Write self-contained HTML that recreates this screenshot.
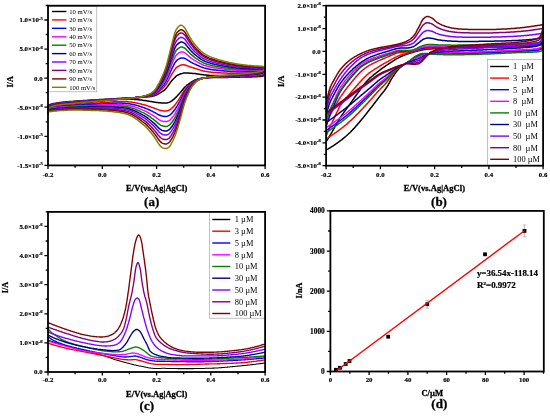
<!DOCTYPE html>
<html lang="en"><head><meta charset="utf-8"><title>Figure</title>
<style>html,body{margin:0;padding:0;background:#fff}svg{display:block}</style></head>
<body>
<svg width="550" height="416" viewBox="0 0 550 416" font-family='"Liberation Serif","DejaVu Serif",serif' fill="#000">
<rect width="550" height="416" fill="#fff"/>
<g fill="none" stroke-width="1.50" stroke-linejoin="round">
<path d="M48.0 105.5L48.6 105.2L49.2 104.9L49.8 104.6L50.4 104.4L51.0 104.2L51.6 104.0L52.2 103.9L52.8 103.7L53.4 103.6L54.0 103.5L54.6 103.4L55.3 103.3L55.9 103.2L56.5 103.1L57.1 103.0L57.7 102.9L58.3 102.8L58.9 102.7L59.5 102.6L60.1 102.5L60.7 102.5L61.3 102.4L61.9 102.3L62.5 102.3L63.1 102.2L63.7 102.1L64.3 102.1L64.9 102.0L65.5 101.9L66.1 101.9L66.7 101.8L67.3 101.8L67.9 101.7L68.6 101.7L69.2 101.6L69.8 101.6L70.4 101.5L71.0 101.5L71.6 101.5L72.2 101.4L72.8 101.4L73.4 101.3L74.0 101.3L74.6 101.2L75.2 101.2L75.8 101.1L76.4 101.1L77.0 101.1L77.6 101.0L78.2 101.0L78.8 100.9L79.4 100.9L80.0 100.8L80.6 100.8L81.2 100.8L81.8 100.7L82.5 100.7L83.1 100.6L83.7 100.6L84.3 100.5L84.9 100.5L85.5 100.5L86.1 100.4L86.7 100.4L87.3 100.4L87.9 100.3L88.5 100.3L89.1 100.2L89.7 100.2L90.3 100.2L90.9 100.1L91.5 100.1L92.1 100.1L92.7 100.0L93.3 100.0L93.9 100.0L94.5 99.9L95.1 99.9L95.8 99.8L96.4 99.8L97.0 99.8L97.6 99.7L98.2 99.7L98.8 99.7L99.4 99.6L100.0 99.6L100.6 99.6L101.2 99.5L101.8 99.5L102.4 99.5L103.0 99.4L103.6 99.4L104.2 99.4L104.8 99.3L105.4 99.3L106.0 99.3L106.6 99.2L107.2 99.2L107.8 99.2L108.4 99.1L109.1 99.1L109.7 99.0L110.3 99.0L110.9 99.0L111.5 98.9L112.1 98.9L112.7 98.9L113.3 98.8L113.9 98.8L114.5 98.8L115.1 98.7L115.7 98.7L116.3 98.7L116.9 98.6L117.5 98.6L118.1 98.6L118.7 98.5L119.3 98.5L119.9 98.5L120.5 98.4L121.1 98.4L121.7 98.4L122.3 98.3L123.0 98.3L123.6 98.3L124.2 98.2L124.8 98.2L125.4 98.2L126.0 98.1L126.6 98.1L127.2 98.1L127.8 98.1L128.4 98.0L129.0 98.0L129.6 98.0L130.2 97.9L130.8 97.9L131.4 97.9L132.0 97.8L132.6 97.8L133.2 97.8L133.8 97.8L134.4 97.7L135.0 97.7L135.6 97.7L136.3 97.6L136.9 97.6L137.5 97.6L138.1 97.5L138.7 97.5L139.3 97.4L139.9 97.4L140.5 97.4L141.1 97.3L141.7 97.3L142.3 97.3L142.9 97.2L143.5 97.2L144.1 97.1L144.7 97.1L145.3 97.1L145.9 97.0L146.5 97.0L147.1 96.9L147.7 96.8L148.3 96.8L148.9 96.7L149.5 96.7L150.2 96.6L150.8 96.5L151.4 96.4L152.0 96.3L152.6 96.1L153.2 96.0L153.8 95.8L154.4 95.7L155.0 95.5L155.6 95.3L156.2 95.1L156.8 94.8L157.4 94.5L158.0 94.1L158.6 93.8L159.2 93.5L159.8 93.1L160.4 92.7L161.0 92.4L161.6 92.0L162.2 91.6L162.8 91.2L163.5 90.8L164.1 90.3L164.7 89.8L165.3 89.3L165.9 88.6L166.5 87.9L167.1 87.1L167.7 86.3L168.3 85.5L168.9 84.6L169.5 83.7L170.1 82.9L170.7 82.1L171.3 81.3L171.9 80.6L172.5 79.9L173.1 79.3L173.7 78.6L174.3 78.0L174.9 77.3L175.5 76.8L176.1 76.2L176.7 75.7L177.4 75.3L178.0 75.0L178.6 74.8L179.2 74.5L179.8 74.2L180.4 74.0L181.0 73.8L181.6 73.6L182.2 73.4L182.8 73.3L183.4 73.1L184.0 73.1L184.6 73.0L185.2 73.0L185.8 73.0L186.4 73.0L187.0 73.0L187.6 73.1L188.2 73.1L188.8 73.1L189.4 73.2L190.0 73.2L190.7 73.2L191.3 73.3L191.9 73.3L192.5 73.4L193.1 73.4L193.7 73.5L194.3 73.5L194.9 73.6L195.5 73.6L196.1 73.7L196.7 73.8L197.3 73.9L197.9 74.0L198.5 74.1L199.1 74.2L199.7 74.3L200.3 74.4L200.9 74.5L201.5 74.6L202.1 74.6L202.7 74.7L203.3 74.8L203.9 74.9L204.6 75.0L205.2 75.0L205.8 75.1L206.4 75.1L207.0 75.2L207.6 75.2L208.2 75.3L208.8 75.3L209.4 75.4L210.0 75.4L210.6 75.4L211.2 75.5L211.8 75.5L212.4 75.5L213.0 75.6L213.6 75.6L214.2 75.6L214.8 75.6L215.4 75.6L216.0 75.6L216.6 75.6L217.2 75.6L217.9 75.6L218.5 75.6L219.1 75.6L219.7 75.6L220.3 75.6L220.9 75.6L221.5 75.6L222.1 75.6L222.7 75.6L223.3 75.6L223.9 75.6L224.5 75.6L225.1 75.6L225.7 75.6L226.3 75.6L226.9 75.6L227.5 75.6L228.1 75.6L228.7 75.6L229.3 75.6L229.9 75.6L230.5 75.5L231.2 75.5L231.8 75.5L232.4 75.5L233.0 75.5L233.6 75.5L234.2 75.5L234.8 75.4L235.4 75.4L236.0 75.4L236.6 75.4L237.2 75.4L237.8 75.4L238.4 75.3L239.0 75.3L239.6 75.3L240.2 75.3L240.8 75.2L241.4 75.2L242.0 75.2L242.6 75.2L243.2 75.1L243.8 75.1L244.4 75.1L245.1 75.0L245.7 75.0L246.3 75.0L246.9 75.0L247.5 74.9L248.1 74.9L248.7 74.9L249.3 74.8L249.9 74.8L250.5 74.8L251.1 74.7L251.7 74.7L252.3 74.7L252.9 74.6L253.5 74.6L254.1 74.5L254.7 74.4L255.3 74.4L255.9 74.3L256.5 74.3L257.1 74.2L257.7 74.1L258.4 74.1L259.0 74.0L259.6 73.9L260.2 73.8L260.8 73.8L261.4 73.7L262.0 73.6L262.6 73.5L263.2 73.4L263.8 73.4L264.4 73.3L265.0 73.2L265.0 74.6L264.4 75.1L263.8 75.6L263.2 76.0L262.6 76.2L262.0 76.3L261.4 76.3L260.8 76.4L260.2 76.4L259.6 76.5L259.0 76.5L258.4 76.6L257.7 76.6L257.1 76.7L256.5 76.7L255.9 76.7L255.3 76.7L254.7 76.8L254.1 76.8L253.5 76.8L252.9 76.8L252.3 76.8L251.7 76.9L251.1 76.9L250.5 76.9L249.9 76.9L249.3 76.9L248.7 76.9L248.1 77.0L247.5 77.0L246.9 77.0L246.3 77.0L245.7 77.0L245.1 77.0L244.4 77.1L243.8 77.1L243.2 77.1L242.6 77.1L242.0 77.1L241.4 77.1L240.8 77.1L240.2 77.1L239.6 77.2L239.0 77.2L238.4 77.2L237.8 77.2L237.2 77.2L236.6 77.2L236.0 77.2L235.4 77.2L234.8 77.2L234.2 77.3L233.6 77.3L233.0 77.3L232.4 77.3L231.8 77.3L231.2 77.3L230.5 77.3L229.9 77.3L229.3 77.3L228.7 77.3L228.1 77.4L227.5 77.4L226.9 77.4L226.3 77.4L225.7 77.4L225.1 77.4L224.5 77.4L223.9 77.4L223.3 77.4L222.7 77.4L222.1 77.4L221.5 77.4L220.9 77.5L220.3 77.5L219.7 77.5L219.1 77.5L218.5 77.5L217.9 77.5L217.2 77.5L216.6 77.5L216.0 77.5L215.4 77.5L214.8 77.5L214.2 77.5L213.6 77.5L213.0 77.5L212.4 77.5L211.8 77.6L211.2 77.6L210.6 77.6L210.0 77.6L209.4 77.6L208.8 77.6L208.2 77.7L207.6 77.7L207.0 77.7L206.4 77.8L205.8 77.8L205.2 77.9L204.6 77.9L203.9 78.0L203.3 78.1L202.7 78.2L202.1 78.2L201.5 78.3L200.9 78.4L200.3 78.5L199.7 78.7L199.1 78.8L198.5 78.9L197.9 79.1L197.3 79.2L196.7 79.4L196.1 79.6L195.5 79.8L194.9 80.0L194.3 80.3L193.7 80.6L193.1 81.0L192.5 81.3L191.9 81.7L191.3 82.1L190.7 82.6L190.0 83.0L189.4 83.4L188.8 83.8L188.2 84.3L187.6 84.7L187.0 85.2L186.4 85.7L185.8 86.3L185.2 86.8L184.6 87.4L184.0 88.0L183.4 88.7L182.8 89.4L182.2 90.2L181.6 90.9L181.0 91.7L180.4 92.4L179.8 93.1L179.2 93.8L178.6 94.5L178.0 95.1L177.4 95.8L176.7 96.5L176.1 97.1L175.5 97.7L174.9 98.3L174.3 98.9L173.7 99.4L173.1 99.9L172.5 100.4L171.9 100.8L171.3 101.2L170.7 101.6L170.1 101.9L169.5 102.2L168.9 102.4L168.3 102.6L167.7 102.8L167.1 102.9L166.5 103.0L165.9 103.0L165.3 103.0L164.7 103.0L164.1 103.0L163.5 103.0L162.8 102.9L162.2 102.9L161.6 102.9L161.0 102.9L160.4 102.8L159.8 102.8L159.2 102.7L158.6 102.7L158.0 102.6L157.4 102.5L156.8 102.5L156.2 102.4L155.6 102.3L155.0 102.2L154.4 102.1L153.8 102.0L153.2 101.9L152.6 101.8L152.0 101.7L151.4 101.6L150.8 101.5L150.2 101.4L149.5 101.3L148.9 101.2L148.3 101.1L147.7 101.0L147.1 100.9L146.5 100.8L145.9 100.7L145.3 100.6L144.7 100.6L144.1 100.5L143.5 100.4L142.9 100.3L142.3 100.2L141.7 100.1L141.1 100.0L140.5 100.0L139.9 99.9L139.3 99.8L138.7 99.7L138.1 99.7L137.5 99.6L136.9 99.5L136.3 99.5L135.6 99.4L135.0 99.4L134.4 99.4L133.8 99.3L133.2 99.3L132.6 99.3L132.0 99.2L131.4 99.2L130.8 99.2L130.2 99.1L129.6 99.1L129.0 99.1L128.4 99.1L127.8 99.0L127.2 99.0L126.6 99.0L126.0 99.0L125.4 99.0L124.8 99.0L124.2 99.0L123.6 99.0L123.0 99.0L122.3 99.0L121.7 99.1L121.1 99.1L120.5 99.1L119.9 99.2L119.3 99.2L118.7 99.2L118.1 99.3L117.5 99.3L116.9 99.4L116.3 99.4L115.7 99.5L115.1 99.6L114.5 99.6L113.9 99.7L113.3 99.7L112.7 99.8L112.1 99.9L111.5 99.9L110.9 100.0L110.3 100.1L109.7 100.2L109.1 100.2L108.4 100.3L107.8 100.4L107.2 100.4L106.6 100.5L106.0 100.6L105.4 100.6L104.8 100.7L104.2 100.8L103.6 100.8L103.0 100.9L102.4 101.0L101.8 101.0L101.2 101.1L100.6 101.1L100.0 101.2L99.4 101.3L98.8 101.3L98.2 101.4L97.6 101.4L97.0 101.5L96.4 101.5L95.8 101.6L95.1 101.6L94.5 101.7L93.9 101.7L93.3 101.8L92.7 101.8L92.1 101.9L91.5 101.9L90.9 102.0L90.3 102.0L89.7 102.1L89.1 102.1L88.5 102.1L87.9 102.2L87.3 102.2L86.7 102.3L86.1 102.3L85.5 102.4L84.9 102.4L84.3 102.5L83.7 102.5L83.1 102.6L82.5 102.6L81.8 102.7L81.2 102.7L80.6 102.8L80.0 102.9L79.4 102.9L78.8 103.0L78.2 103.0L77.6 103.1L77.0 103.1L76.4 103.2L75.8 103.2L75.2 103.3L74.6 103.3L74.0 103.4L73.4 103.4L72.8 103.5L72.2 103.6L71.6 103.6L71.0 103.7L70.4 103.7L69.8 103.8L69.2 103.8L68.6 103.9L67.9 104.0L67.3 104.0L66.7 104.1L66.1 104.1L65.5 104.2L64.9 104.3L64.3 104.3L63.7 104.4L63.1 104.4L62.5 104.5L61.9 104.6L61.3 104.6L60.7 104.7L60.1 104.8L59.5 104.9L58.9 104.9L58.3 105.0L57.7 105.1L57.1 105.2L56.5 105.3L55.9 105.3L55.3 105.4L54.6 105.5L54.0 105.6L53.4 105.7L52.8 105.8L52.2 105.9L51.6 106.0L51.0 106.1L50.4 106.2L49.8 106.3L49.2 106.4L48.6 106.5L48.0 106.6" stroke="#000000"/>
<path d="M48.0 106.0L48.6 105.7L49.2 105.4L49.8 105.1L50.4 104.9L51.0 104.7L51.6 104.5L52.2 104.3L52.8 104.2L53.4 104.0L54.0 103.9L54.6 103.8L55.3 103.7L55.9 103.6L56.5 103.5L57.1 103.4L57.7 103.3L58.3 103.2L58.9 103.1L59.5 103.0L60.1 102.9L60.7 102.9L61.3 102.8L61.9 102.7L62.5 102.7L63.1 102.6L63.7 102.5L64.3 102.5L64.9 102.4L65.5 102.3L66.1 102.3L66.7 102.2L67.3 102.2L67.9 102.1L68.6 102.1L69.2 102.0L69.8 102.0L70.4 101.9L71.0 101.9L71.6 101.8L72.2 101.8L72.8 101.7L73.4 101.7L74.0 101.6L74.6 101.6L75.2 101.5L75.8 101.5L76.4 101.4L77.0 101.4L77.6 101.4L78.2 101.3L78.8 101.3L79.4 101.2L80.0 101.2L80.6 101.1L81.2 101.1L81.8 101.0L82.5 101.0L83.1 100.9L83.7 100.9L84.3 100.9L84.9 100.8L85.5 100.8L86.1 100.7L86.7 100.7L87.3 100.6L87.9 100.6L88.5 100.6L89.1 100.5L89.7 100.5L90.3 100.4L90.9 100.4L91.5 100.4L92.1 100.3L92.7 100.3L93.3 100.3L93.9 100.2L94.5 100.2L95.1 100.1L95.8 100.1L96.4 100.1L97.0 100.0L97.6 100.0L98.2 99.9L98.8 99.9L99.4 99.9L100.0 99.8L100.6 99.8L101.2 99.8L101.8 99.7L102.4 99.7L103.0 99.6L103.6 99.6L104.2 99.6L104.8 99.5L105.4 99.5L106.0 99.5L106.6 99.4L107.2 99.4L107.8 99.3L108.4 99.3L109.1 99.3L109.7 99.2L110.3 99.2L110.9 99.2L111.5 99.1L112.1 99.1L112.7 99.0L113.3 99.0L113.9 99.0L114.5 98.9L115.1 98.9L115.7 98.9L116.3 98.8L116.9 98.8L117.5 98.8L118.1 98.7L118.7 98.7L119.3 98.6L119.9 98.6L120.5 98.6L121.1 98.5L121.7 98.5L122.3 98.5L123.0 98.4L123.6 98.4L124.2 98.3L124.8 98.3L125.4 98.3L126.0 98.2L126.6 98.2L127.2 98.2L127.8 98.1L128.4 98.1L129.0 98.1L129.6 98.0L130.2 98.0L130.8 97.9L131.4 97.9L132.0 97.9L132.6 97.8L133.2 97.8L133.8 97.8L134.4 97.7L135.0 97.7L135.6 97.7L136.3 97.6L136.9 97.6L137.5 97.5L138.1 97.5L138.7 97.4L139.3 97.4L139.9 97.3L140.5 97.3L141.1 97.2L141.7 97.2L142.3 97.1L142.9 97.1L143.5 97.0L144.1 96.9L144.7 96.9L145.3 96.8L145.9 96.7L146.5 96.7L147.1 96.6L147.7 96.5L148.3 96.4L148.9 96.3L149.5 96.2L150.2 96.1L150.8 95.9L151.4 95.8L152.0 95.6L152.6 95.4L153.2 95.2L153.8 95.0L154.4 94.8L155.0 94.5L155.6 94.2L156.2 93.8L156.8 93.4L157.4 93.0L158.0 92.5L158.6 92.0L159.2 91.5L159.8 91.0L160.4 90.5L161.0 90.0L161.6 89.5L162.2 88.9L162.8 88.3L163.5 87.7L164.1 87.0L164.7 86.3L165.3 85.6L165.9 84.7L166.5 83.8L167.1 82.8L167.7 81.7L168.3 80.6L168.9 79.5L169.5 78.3L170.1 77.2L170.7 76.1L171.3 75.0L171.9 74.0L172.5 73.1L173.1 72.1L173.7 71.2L174.3 70.2L174.9 69.4L175.5 68.6L176.1 67.9L176.7 67.3L177.4 66.8L178.0 66.5L178.6 66.1L179.2 65.8L179.8 65.5L180.4 65.3L181.0 65.1L181.6 64.9L182.2 64.8L182.8 64.8L183.4 64.8L184.0 64.8L184.6 64.9L185.2 65.0L185.8 65.2L186.4 65.5L187.0 65.7L187.6 65.9L188.2 66.1L188.8 66.3L189.4 66.6L190.0 66.8L190.7 67.0L191.3 67.2L191.9 67.4L192.5 67.6L193.1 67.8L193.7 68.0L194.3 68.2L194.9 68.4L195.5 68.6L196.1 68.7L196.7 68.9L197.3 69.1L197.9 69.3L198.5 69.5L199.1 69.7L199.7 69.9L200.3 70.1L200.9 70.3L201.5 70.4L202.1 70.6L202.7 70.8L203.3 70.9L203.9 71.0L204.6 71.2L205.2 71.3L205.8 71.4L206.4 71.5L207.0 71.6L207.6 71.7L208.2 71.8L208.8 71.9L209.4 72.0L210.0 72.0L210.6 72.1L211.2 72.2L211.8 72.3L212.4 72.3L213.0 72.4L213.6 72.4L214.2 72.5L214.8 72.5L215.4 72.6L216.0 72.6L216.6 72.6L217.2 72.7L217.9 72.7L218.5 72.7L219.1 72.8L219.7 72.8L220.3 72.8L220.9 72.9L221.5 72.9L222.1 72.9L222.7 73.0L223.3 73.0L223.9 73.0L224.5 73.0L225.1 73.1L225.7 73.1L226.3 73.1L226.9 73.1L227.5 73.2L228.1 73.2L228.7 73.2L229.3 73.2L229.9 73.2L230.5 73.2L231.2 73.3L231.8 73.3L232.4 73.3L233.0 73.3L233.6 73.3L234.2 73.3L234.8 73.3L235.4 73.3L236.0 73.3L236.6 73.3L237.2 73.3L237.8 73.3L238.4 73.3L239.0 73.3L239.6 73.3L240.2 73.3L240.8 73.3L241.4 73.3L242.0 73.3L242.6 73.3L243.2 73.3L243.8 73.3L244.4 73.3L245.1 73.3L245.7 73.2L246.3 73.2L246.9 73.2L247.5 73.2L248.1 73.2L248.7 73.2L249.3 73.2L249.9 73.1L250.5 73.1L251.1 73.1L251.7 73.1L252.3 73.1L252.9 73.0L253.5 73.0L254.1 73.0L254.7 72.9L255.3 72.9L255.9 72.8L256.5 72.8L257.1 72.7L257.7 72.7L258.4 72.6L259.0 72.6L259.6 72.5L260.2 72.5L260.8 72.4L261.4 72.4L262.0 72.3L262.6 72.2L263.2 72.2L263.8 72.1L264.4 72.1L265.0 72.1L265.0 73.4L264.4 74.0L263.8 74.5L263.2 75.0L262.6 75.2L262.0 75.3L261.4 75.4L260.8 75.5L260.2 75.6L259.6 75.7L259.0 75.7L258.4 75.8L257.7 75.8L257.1 75.9L256.5 75.9L255.9 76.0L255.3 76.0L254.7 76.0L254.1 76.1L253.5 76.1L252.9 76.1L252.3 76.1L251.7 76.2L251.1 76.2L250.5 76.2L249.9 76.2L249.3 76.3L248.7 76.3L248.1 76.3L247.5 76.4L246.9 76.4L246.3 76.4L245.7 76.4L245.1 76.5L244.4 76.5L243.8 76.5L243.2 76.5L242.6 76.5L242.0 76.6L241.4 76.6L240.8 76.6L240.2 76.6L239.6 76.6L239.0 76.7L238.4 76.7L237.8 76.7L237.2 76.7L236.6 76.7L236.0 76.8L235.4 76.8L234.8 76.8L234.2 76.8L233.6 76.8L233.0 76.8L232.4 76.9L231.8 76.9L231.2 76.9L230.5 76.9L229.9 76.9L229.3 76.9L228.7 76.9L228.1 77.0L227.5 77.0L226.9 77.0L226.3 77.0L225.7 77.0L225.1 77.0L224.5 77.1L223.9 77.1L223.3 77.1L222.7 77.1L222.1 77.1L221.5 77.1L220.9 77.1L220.3 77.2L219.7 77.2L219.1 77.2L218.5 77.2L217.9 77.2L217.2 77.2L216.6 77.2L216.0 77.3L215.4 77.3L214.8 77.3L214.2 77.3L213.6 77.3L213.0 77.3L212.4 77.4L211.8 77.4L211.2 77.4L210.6 77.5L210.0 77.5L209.4 77.5L208.8 77.6L208.2 77.6L207.6 77.6L207.0 77.7L206.4 77.7L205.8 77.8L205.2 77.9L204.6 77.9L203.9 78.0L203.3 78.1L202.7 78.2L202.1 78.3L201.5 78.4L200.9 78.5L200.3 78.7L199.7 78.8L199.1 79.0L198.5 79.1L197.9 79.3L197.3 79.5L196.7 79.7L196.1 80.0L195.5 80.3L194.9 80.6L194.3 80.9L193.7 81.3L193.1 81.7L192.5 82.1L191.9 82.6L191.3 83.1L190.7 83.6L190.0 84.2L189.4 84.7L188.8 85.3L188.2 86.0L187.6 86.6L187.0 87.2L186.4 87.9L185.8 88.6L185.2 89.4L184.6 90.1L184.0 91.0L183.4 92.0L182.8 93.0L182.2 94.0L181.6 95.0L181.0 96.0L180.4 97.0L179.8 98.0L179.2 98.9L178.6 99.8L178.0 100.7L177.4 101.6L176.7 102.5L176.1 103.4L175.5 104.2L174.9 105.0L174.3 105.7L173.7 106.4L173.1 107.0L172.5 107.6L171.9 108.1L171.3 108.7L170.7 109.2L170.1 109.6L169.5 110.0L168.9 110.2L168.3 110.5L167.7 110.7L167.1 110.8L166.5 111.0L165.9 111.0L165.3 111.0L164.7 110.9L164.1 110.9L163.5 110.9L162.8 110.8L162.2 110.7L161.6 110.6L161.0 110.5L160.4 110.4L159.8 110.2L159.2 110.1L158.6 109.9L158.0 109.6L157.4 109.4L156.8 109.2L156.2 108.9L155.6 108.7L155.0 108.5L154.4 108.2L153.8 108.0L153.2 107.8L152.6 107.6L152.0 107.4L151.4 107.2L150.8 106.9L150.2 106.7L149.5 106.5L148.9 106.3L148.3 106.1L147.7 105.9L147.1 105.7L146.5 105.5L145.9 105.3L145.3 105.1L144.7 105.0L144.1 104.8L143.5 104.7L142.9 104.5L142.3 104.4L141.7 104.2L141.1 104.0L140.5 103.9L139.9 103.7L139.3 103.6L138.7 103.4L138.1 103.3L137.5 103.2L136.9 103.0L136.3 102.9L135.6 102.8L135.0 102.7L134.4 102.6L133.8 102.5L133.2 102.4L132.6 102.3L132.0 102.2L131.4 102.1L130.8 102.1L130.2 102.0L129.6 101.9L129.0 101.9L128.4 101.8L127.8 101.7L127.2 101.7L126.6 101.6L126.0 101.6L125.4 101.6L124.8 101.5L124.2 101.5L123.6 101.5L123.0 101.5L122.3 101.5L121.7 101.5L121.1 101.5L120.5 101.5L119.9 101.5L119.3 101.5L118.7 101.6L118.1 101.6L117.5 101.6L116.9 101.6L116.3 101.7L115.7 101.7L115.1 101.7L114.5 101.8L113.9 101.8L113.3 101.8L112.7 101.9L112.1 101.9L111.5 102.0L110.9 102.0L110.3 102.1L109.7 102.1L109.1 102.2L108.4 102.2L107.8 102.3L107.2 102.3L106.6 102.4L106.0 102.4L105.4 102.5L104.8 102.5L104.2 102.6L103.6 102.6L103.0 102.7L102.4 102.7L101.8 102.7L101.2 102.8L100.6 102.8L100.0 102.9L99.4 102.9L98.8 102.9L98.2 103.0L97.6 103.0L97.0 103.1L96.4 103.1L95.8 103.1L95.1 103.2L94.5 103.2L93.9 103.2L93.3 103.3L92.7 103.3L92.1 103.3L91.5 103.4L90.9 103.4L90.3 103.5L89.7 103.5L89.1 103.5L88.5 103.6L87.9 103.6L87.3 103.6L86.7 103.7L86.1 103.7L85.5 103.8L84.9 103.8L84.3 103.8L83.7 103.9L83.1 103.9L82.5 104.0L81.8 104.0L81.2 104.0L80.6 104.1L80.0 104.1L79.4 104.2L78.8 104.2L78.2 104.2L77.6 104.3L77.0 104.3L76.4 104.4L75.8 104.4L75.2 104.5L74.6 104.5L74.0 104.5L73.4 104.6L72.8 104.6L72.2 104.7L71.6 104.7L71.0 104.8L70.4 104.8L69.8 104.9L69.2 104.9L68.6 105.0L67.9 105.0L67.3 105.1L66.7 105.1L66.1 105.2L65.5 105.3L64.9 105.3L64.3 105.4L63.7 105.4L63.1 105.5L62.5 105.6L61.9 105.6L61.3 105.7L60.7 105.7L60.1 105.8L59.5 105.9L58.9 105.9L58.3 106.0L57.7 106.1L57.1 106.2L56.5 106.2L55.9 106.3L55.3 106.4L54.6 106.5L54.0 106.6L53.4 106.7L52.8 106.7L52.2 106.8L51.6 106.9L51.0 107.0L50.4 107.1L49.8 107.2L49.2 107.3L48.6 107.4L48.0 107.5L47.8 115.0" stroke="#ff0000"/>
<path d="M48.0 106.5L48.6 106.1L49.2 105.8L49.8 105.5L50.4 105.3L51.0 105.0L51.6 104.8L52.2 104.7L52.8 104.5L53.4 104.4L54.0 104.2L54.6 104.1L55.3 104.0L55.9 103.9L56.5 103.8L57.1 103.7L57.7 103.6L58.3 103.5L58.9 103.4L59.5 103.4L60.1 103.3L60.7 103.2L61.3 103.1L61.9 103.1L62.5 103.0L63.1 102.9L63.7 102.9L64.3 102.8L64.9 102.7L65.5 102.7L66.1 102.6L66.7 102.5L67.3 102.5L67.9 102.4L68.6 102.4L69.2 102.3L69.8 102.3L70.4 102.2L71.0 102.2L71.6 102.1L72.2 102.1L72.8 102.0L73.4 102.0L74.0 101.9L74.6 101.9L75.2 101.8L75.8 101.8L76.4 101.7L77.0 101.7L77.6 101.6L78.2 101.6L78.8 101.5L79.4 101.5L80.0 101.4L80.6 101.4L81.2 101.3L81.8 101.3L82.5 101.2L83.1 101.2L83.7 101.2L84.3 101.1L84.9 101.1L85.5 101.0L86.1 101.0L86.7 100.9L87.3 100.9L87.9 100.8L88.5 100.8L89.1 100.8L89.7 100.7L90.3 100.7L90.9 100.6L91.5 100.6L92.1 100.6L92.7 100.5L93.3 100.5L93.9 100.4L94.5 100.4L95.1 100.3L95.8 100.3L96.4 100.3L97.0 100.2L97.6 100.2L98.2 100.1L98.8 100.1L99.4 100.1L100.0 100.0L100.6 100.0L101.2 99.9L101.8 99.9L102.4 99.9L103.0 99.8L103.6 99.8L104.2 99.7L104.8 99.7L105.4 99.7L106.0 99.6L106.6 99.6L107.2 99.5L107.8 99.5L108.4 99.5L109.1 99.4L109.7 99.4L110.3 99.3L110.9 99.3L111.5 99.3L112.1 99.2L112.7 99.2L113.3 99.1L113.9 99.1L114.5 99.1L115.1 99.0L115.7 99.0L116.3 98.9L116.9 98.9L117.5 98.9L118.1 98.8L118.7 98.8L119.3 98.7L119.9 98.7L120.5 98.7L121.1 98.6L121.7 98.6L122.3 98.5L123.0 98.5L123.6 98.5L124.2 98.4L124.8 98.4L125.4 98.3L126.0 98.3L126.6 98.3L127.2 98.2L127.8 98.2L128.4 98.1L129.0 98.1L129.6 98.1L130.2 98.0L130.8 98.0L131.4 97.9L132.0 97.9L132.6 97.9L133.2 97.8L133.8 97.8L134.4 97.7L135.0 97.7L135.6 97.6L136.3 97.6L136.9 97.6L137.5 97.5L138.1 97.4L138.7 97.4L139.3 97.3L139.9 97.3L140.5 97.2L141.1 97.2L141.7 97.1L142.3 97.0L142.9 97.0L143.5 96.9L144.1 96.8L144.7 96.7L145.3 96.6L145.9 96.5L146.5 96.4L147.1 96.3L147.7 96.2L148.3 96.1L148.9 96.0L149.5 95.8L150.2 95.7L150.8 95.5L151.4 95.3L152.0 95.1L152.6 94.9L153.2 94.6L153.8 94.3L154.4 94.0L155.0 93.7L155.6 93.3L156.2 92.8L156.8 92.3L157.4 91.7L158.0 91.2L158.6 90.6L159.2 90.0L159.8 89.4L160.4 88.7L161.0 88.1L161.6 87.4L162.2 86.7L162.8 85.9L163.5 85.2L164.1 84.4L164.7 83.5L165.3 82.6L165.9 81.6L166.5 80.5L167.1 79.3L167.7 78.0L168.3 76.6L168.9 75.3L169.5 73.9L170.1 72.6L170.7 71.2L171.3 69.9L171.9 68.7L172.5 67.5L173.1 66.3L173.7 65.1L174.3 63.9L174.9 62.8L175.5 61.9L176.1 61.2L176.7 60.5L177.4 59.9L178.0 59.5L178.6 59.1L179.2 58.8L179.8 58.4L180.4 58.2L181.0 58.0L181.6 57.9L182.2 57.9L182.8 57.9L183.4 58.0L184.0 58.1L184.6 58.3L185.2 58.5L185.8 58.9L186.4 59.3L187.0 59.7L187.6 60.0L188.2 60.4L188.8 60.8L189.4 61.2L190.0 61.6L190.7 62.0L191.3 62.3L191.9 62.6L192.5 63.0L193.1 63.3L193.7 63.6L194.3 63.9L194.9 64.1L195.5 64.4L196.1 64.7L196.7 65.0L197.3 65.2L197.9 65.5L198.5 65.8L199.1 66.0L199.7 66.3L200.3 66.6L200.9 66.8L201.5 67.1L202.1 67.3L202.7 67.5L203.3 67.7L203.9 67.9L204.6 68.1L205.2 68.2L205.8 68.4L206.4 68.5L207.0 68.7L207.6 68.8L208.2 68.9L208.8 69.1L209.4 69.2L210.0 69.3L210.6 69.4L211.2 69.5L211.8 69.6L212.4 69.7L213.0 69.8L213.6 69.9L214.2 69.9L214.8 70.0L215.4 70.1L216.0 70.1L216.6 70.2L217.2 70.3L217.9 70.3L218.5 70.4L219.1 70.5L219.7 70.5L220.3 70.6L220.9 70.6L221.5 70.7L222.1 70.7L222.7 70.8L223.3 70.8L223.9 70.9L224.5 70.9L225.1 71.0L225.7 71.0L226.3 71.1L226.9 71.1L227.5 71.2L228.1 71.2L228.7 71.3L229.3 71.3L229.9 71.3L230.5 71.4L231.2 71.4L231.8 71.4L232.4 71.5L233.0 71.5L233.6 71.5L234.2 71.6L234.8 71.6L235.4 71.6L236.0 71.6L236.6 71.7L237.2 71.7L237.8 71.7L238.4 71.7L239.0 71.7L239.6 71.7L240.2 71.7L240.8 71.7L241.4 71.8L242.0 71.8L242.6 71.8L243.2 71.8L243.8 71.8L244.4 71.8L245.1 71.8L245.7 71.8L246.3 71.8L246.9 71.8L247.5 71.8L248.1 71.8L248.7 71.8L249.3 71.8L249.9 71.8L250.5 71.8L251.1 71.8L251.7 71.8L252.3 71.8L252.9 71.7L253.5 71.7L254.1 71.7L254.7 71.7L255.3 71.6L255.9 71.6L256.5 71.6L257.1 71.5L257.7 71.5L258.4 71.5L259.0 71.4L259.6 71.4L260.2 71.4L260.8 71.3L261.4 71.3L262.0 71.2L262.6 71.2L263.2 71.2L263.8 71.2L264.4 71.2L265.0 71.2L265.0 72.5L264.4 73.3L263.8 73.8L263.2 74.3L262.6 74.6L262.0 74.7L261.4 74.8L260.8 74.9L260.2 75.0L259.6 75.1L259.0 75.2L258.4 75.2L257.7 75.3L257.1 75.3L256.5 75.4L255.9 75.4L255.3 75.5L254.7 75.5L254.1 75.6L253.5 75.6L252.9 75.6L252.3 75.7L251.7 75.7L251.1 75.7L250.5 75.8L249.9 75.8L249.3 75.8L248.7 75.9L248.1 75.9L247.5 75.9L246.9 76.0L246.3 76.0L245.7 76.0L245.1 76.1L244.4 76.1L243.8 76.1L243.2 76.1L242.6 76.2L242.0 76.2L241.4 76.2L240.8 76.3L240.2 76.3L239.6 76.3L239.0 76.3L238.4 76.4L237.8 76.4L237.2 76.4L236.6 76.4L236.0 76.4L235.4 76.5L234.8 76.5L234.2 76.5L233.6 76.5L233.0 76.5L232.4 76.6L231.8 76.6L231.2 76.6L230.5 76.6L229.9 76.6L229.3 76.7L228.7 76.7L228.1 76.7L227.5 76.7L226.9 76.7L226.3 76.8L225.7 76.8L225.1 76.8L224.5 76.8L223.9 76.8L223.3 76.9L222.7 76.9L222.1 76.9L221.5 76.9L220.9 76.9L220.3 76.9L219.7 77.0L219.1 77.0L218.5 77.0L217.9 77.0L217.2 77.0L216.6 77.1L216.0 77.1L215.4 77.1L214.8 77.1L214.2 77.2L213.6 77.2L213.0 77.2L212.4 77.3L211.8 77.3L211.2 77.3L210.6 77.4L210.0 77.4L209.4 77.4L208.8 77.5L208.2 77.5L207.6 77.6L207.0 77.6L206.4 77.7L205.8 77.8L205.2 77.9L204.6 77.9L203.9 78.0L203.3 78.1L202.7 78.2L202.1 78.3L201.5 78.5L200.9 78.6L200.3 78.8L199.7 78.9L199.1 79.1L198.5 79.3L197.9 79.5L197.3 79.7L196.7 79.9L196.1 80.2L195.5 80.6L194.9 80.9L194.3 81.3L193.7 81.7L193.1 82.2L192.5 82.7L191.9 83.2L191.3 83.7L190.7 84.3L190.0 85.0L189.4 85.7L188.8 86.4L188.2 87.1L187.6 87.9L187.0 88.6L186.4 89.4L185.8 90.2L185.2 91.1L184.6 92.0L184.0 93.1L183.4 94.2L182.8 95.3L182.2 96.6L181.6 97.8L181.0 99.0L180.4 100.1L179.8 101.3L179.2 102.4L178.6 103.4L178.0 104.5L177.4 105.6L176.7 106.6L176.1 107.6L175.5 108.6L174.9 109.5L174.3 110.3L173.7 111.1L173.1 111.8L172.5 112.5L171.9 113.1L171.3 113.7L170.7 114.3L170.1 114.8L169.5 115.2L168.9 115.6L168.3 115.8L167.7 116.1L167.1 116.3L166.5 116.4L165.9 116.4L165.3 116.4L164.7 116.4L164.1 116.3L163.5 116.2L162.8 116.2L162.2 116.1L161.6 115.9L161.0 115.7L160.4 115.5L159.8 115.3L159.2 115.0L158.6 114.8L158.0 114.4L157.4 114.1L156.8 113.7L156.2 113.4L155.6 113.0L155.0 112.7L154.4 112.4L153.8 112.1L153.2 111.8L152.6 111.5L152.0 111.2L151.4 110.9L150.8 110.6L150.2 110.3L149.5 110.0L148.9 109.8L148.3 109.5L147.7 109.2L147.1 108.9L146.5 108.7L145.9 108.4L145.3 108.2L144.7 108.0L144.1 107.8L143.5 107.6L142.9 107.4L142.3 107.2L141.7 107.0L141.1 106.8L140.5 106.6L139.9 106.4L139.3 106.2L138.7 106.0L138.1 105.8L137.5 105.6L136.9 105.4L136.3 105.2L135.6 105.1L135.0 104.9L134.4 104.8L133.8 104.7L133.2 104.5L132.6 104.4L132.0 104.3L131.4 104.2L130.8 104.0L130.2 103.9L129.6 103.8L129.0 103.8L128.4 103.7L127.8 103.6L127.2 103.5L126.6 103.4L126.0 103.4L125.4 103.3L124.8 103.3L124.2 103.2L123.6 103.2L123.0 103.2L122.3 103.2L121.7 103.1L121.1 103.1L120.5 103.1L119.9 103.1L119.3 103.1L118.7 103.1L118.1 103.1L117.5 103.1L116.9 103.1L116.3 103.2L115.7 103.2L115.1 103.2L114.5 103.2L113.9 103.2L113.3 103.3L112.7 103.3L112.1 103.3L111.5 103.4L110.9 103.4L110.3 103.4L109.7 103.5L109.1 103.5L108.4 103.5L107.8 103.6L107.2 103.6L106.6 103.6L106.0 103.7L105.4 103.7L104.8 103.7L104.2 103.8L103.6 103.8L103.0 103.8L102.4 103.9L101.8 103.9L101.2 103.9L100.6 104.0L100.0 104.0L99.4 104.0L98.8 104.1L98.2 104.1L97.6 104.1L97.0 104.1L96.4 104.2L95.8 104.2L95.1 104.2L94.5 104.3L93.9 104.3L93.3 104.3L92.7 104.3L92.1 104.4L91.5 104.4L90.9 104.4L90.3 104.5L89.7 104.5L89.1 104.5L88.5 104.5L87.9 104.6L87.3 104.6L86.7 104.6L86.1 104.7L85.5 104.7L84.9 104.7L84.3 104.8L83.7 104.8L83.1 104.8L82.5 104.8L81.8 104.9L81.2 104.9L80.6 104.9L80.0 105.0L79.4 105.0L78.8 105.0L78.2 105.1L77.6 105.1L77.0 105.1L76.4 105.2L75.8 105.2L75.2 105.3L74.6 105.3L74.0 105.3L73.4 105.4L72.8 105.4L72.2 105.5L71.6 105.5L71.0 105.5L70.4 105.6L69.8 105.6L69.2 105.7L68.6 105.7L67.9 105.8L67.3 105.8L66.7 105.9L66.1 105.9L65.5 106.0L64.9 106.0L64.3 106.1L63.7 106.1L63.1 106.2L62.5 106.3L61.9 106.3L61.3 106.4L60.7 106.4L60.1 106.5L59.5 106.6L58.9 106.6L58.3 106.7L57.7 106.8L57.1 106.8L56.5 106.9L55.9 107.0L55.3 107.1L54.6 107.1L54.0 107.2L53.4 107.3L52.8 107.4L52.2 107.5L51.6 107.6L51.0 107.7L50.4 107.8L49.8 107.8L49.2 107.9L48.6 108.0L48.0 108.1" stroke="#0000ff"/>
<path d="M48.0 106.8L48.6 106.5L49.2 106.2L49.8 105.9L50.4 105.6L51.0 105.4L51.6 105.2L52.2 105.0L52.8 104.8L53.4 104.7L54.0 104.5L54.6 104.4L55.3 104.3L55.9 104.2L56.5 104.1L57.1 104.0L57.7 103.9L58.3 103.8L58.9 103.7L59.5 103.6L60.1 103.6L60.7 103.5L61.3 103.4L61.9 103.3L62.5 103.3L63.1 103.2L63.7 103.1L64.3 103.1L64.9 103.0L65.5 102.9L66.1 102.9L66.7 102.8L67.3 102.8L67.9 102.7L68.6 102.6L69.2 102.6L69.8 102.5L70.4 102.5L71.0 102.4L71.6 102.4L72.2 102.3L72.8 102.3L73.4 102.2L74.0 102.2L74.6 102.1L75.2 102.1L75.8 102.0L76.4 102.0L77.0 101.9L77.6 101.9L78.2 101.8L78.8 101.8L79.4 101.7L80.0 101.7L80.6 101.6L81.2 101.6L81.8 101.5L82.5 101.5L83.1 101.4L83.7 101.4L84.3 101.3L84.9 101.3L85.5 101.2L86.1 101.2L86.7 101.1L87.3 101.1L87.9 101.0L88.5 101.0L89.1 101.0L89.7 100.9L90.3 100.9L90.9 100.8L91.5 100.8L92.1 100.7L92.7 100.7L93.3 100.7L93.9 100.6L94.5 100.6L95.1 100.5L95.8 100.5L96.4 100.4L97.0 100.4L97.6 100.4L98.2 100.3L98.8 100.3L99.4 100.2L100.0 100.2L100.6 100.1L101.2 100.1L101.8 100.1L102.4 100.0L103.0 100.0L103.6 99.9L104.2 99.9L104.8 99.8L105.4 99.8L106.0 99.8L106.6 99.7L107.2 99.7L107.8 99.6L108.4 99.6L109.1 99.6L109.7 99.5L110.3 99.5L110.9 99.4L111.5 99.4L112.1 99.3L112.7 99.3L113.3 99.3L113.9 99.2L114.5 99.2L115.1 99.1L115.7 99.1L116.3 99.1L116.9 99.0L117.5 99.0L118.1 98.9L118.7 98.9L119.3 98.8L119.9 98.8L120.5 98.8L121.1 98.7L121.7 98.7L122.3 98.6L123.0 98.6L123.6 98.5L124.2 98.5L124.8 98.4L125.4 98.4L126.0 98.4L126.6 98.3L127.2 98.3L127.8 98.2L128.4 98.2L129.0 98.1L129.6 98.1L130.2 98.1L130.8 98.0L131.4 98.0L132.0 97.9L132.6 97.9L133.2 97.8L133.8 97.8L134.4 97.7L135.0 97.7L135.6 97.6L136.3 97.6L136.9 97.5L137.5 97.5L138.1 97.4L138.7 97.4L139.3 97.3L139.9 97.2L140.5 97.2L141.1 97.1L141.7 97.0L142.3 96.9L142.9 96.9L143.5 96.8L144.1 96.7L144.7 96.6L145.3 96.5L145.9 96.3L146.5 96.2L147.1 96.1L147.7 96.0L148.3 95.8L148.9 95.7L149.5 95.5L150.2 95.3L150.8 95.1L151.4 94.9L152.0 94.6L152.6 94.4L153.2 94.1L153.8 93.8L154.4 93.4L155.0 93.0L155.6 92.5L156.2 91.9L156.8 91.3L157.4 90.7L158.0 90.0L158.6 89.4L159.2 88.7L159.8 87.9L160.4 87.2L161.0 86.4L161.6 85.6L162.2 84.8L162.8 83.9L163.5 83.0L164.1 82.1L164.7 81.1L165.3 80.0L165.9 78.9L166.5 77.6L167.1 76.2L167.7 74.8L168.3 73.3L168.9 71.7L169.5 70.2L170.1 68.6L170.7 67.1L171.3 65.6L171.9 64.1L172.5 62.7L173.1 61.3L173.7 59.9L174.3 58.5L174.9 57.3L175.5 56.2L176.1 55.4L176.7 54.6L177.4 54.0L178.0 53.5L178.6 53.1L179.2 52.7L179.8 52.4L180.4 52.1L181.0 51.9L181.6 51.9L182.2 51.9L182.8 52.0L183.4 52.1L184.0 52.3L184.6 52.6L185.2 53.0L185.8 53.5L186.4 54.0L187.0 54.5L187.6 55.0L188.2 55.5L188.8 56.1L189.4 56.6L190.0 57.1L190.7 57.6L191.3 58.1L191.9 58.5L192.5 59.0L193.1 59.4L193.7 59.8L194.3 60.1L194.9 60.5L195.5 60.9L196.1 61.2L196.7 61.6L197.3 61.9L197.9 62.2L198.5 62.6L199.1 62.9L199.7 63.3L200.3 63.6L200.9 63.9L201.5 64.2L202.1 64.5L202.7 64.7L203.3 65.0L203.9 65.2L204.6 65.4L205.2 65.6L205.8 65.8L206.4 66.0L207.0 66.2L207.6 66.4L208.2 66.5L208.8 66.7L209.4 66.8L210.0 67.0L210.6 67.1L211.2 67.2L211.8 67.3L212.4 67.5L213.0 67.6L213.6 67.7L214.2 67.8L214.8 67.9L215.4 68.0L216.0 68.0L216.6 68.1L217.2 68.2L217.9 68.3L218.5 68.4L219.1 68.5L219.7 68.6L220.3 68.6L220.9 68.7L221.5 68.8L222.1 68.9L222.7 68.9L223.3 69.0L223.9 69.1L224.5 69.2L225.1 69.2L225.7 69.3L226.3 69.4L226.9 69.4L227.5 69.5L228.1 69.5L228.7 69.6L229.3 69.7L229.9 69.7L230.5 69.8L231.2 69.8L231.8 69.9L232.4 69.9L233.0 70.0L233.6 70.0L234.2 70.1L234.8 70.1L235.4 70.1L236.0 70.2L236.6 70.2L237.2 70.2L237.8 70.3L238.4 70.3L239.0 70.3L239.6 70.4L240.2 70.4L240.8 70.4L241.4 70.4L242.0 70.5L242.6 70.5L243.2 70.5L243.8 70.5L244.4 70.5L245.1 70.5L245.7 70.6L246.3 70.6L246.9 70.6L247.5 70.6L248.1 70.6L248.7 70.6L249.3 70.6L249.9 70.6L250.5 70.6L251.1 70.6L251.7 70.6L252.3 70.6L252.9 70.6L253.5 70.6L254.1 70.6L254.7 70.6L255.3 70.6L255.9 70.6L256.5 70.5L257.1 70.5L257.7 70.5L258.4 70.5L259.0 70.4L259.6 70.4L260.2 70.4L260.8 70.4L261.4 70.4L262.0 70.3L262.6 70.3L263.2 70.3L263.8 70.3L264.4 70.4L265.0 70.4L265.0 71.7L264.4 72.6L263.8 73.2L263.2 73.6L262.6 74.0L262.0 74.1L261.4 74.3L260.8 74.4L260.2 74.5L259.6 74.5L259.0 74.6L258.4 74.7L257.7 74.8L257.1 74.8L256.5 74.9L255.9 74.9L255.3 75.0L254.7 75.0L254.1 75.1L253.5 75.1L252.9 75.2L252.3 75.2L251.7 75.3L251.1 75.3L250.5 75.3L249.9 75.4L249.3 75.4L248.7 75.4L248.1 75.5L247.5 75.5L246.9 75.6L246.3 75.6L245.7 75.6L245.1 75.7L244.4 75.7L243.8 75.7L243.2 75.8L242.6 75.8L242.0 75.8L241.4 75.9L240.8 75.9L240.2 75.9L239.6 76.0L239.0 76.0L238.4 76.0L237.8 76.1L237.2 76.1L236.6 76.1L236.0 76.1L235.4 76.2L234.8 76.2L234.2 76.2L233.6 76.2L233.0 76.3L232.4 76.3L231.8 76.3L231.2 76.3L230.5 76.4L229.9 76.4L229.3 76.4L228.7 76.4L228.1 76.4L227.5 76.5L226.9 76.5L226.3 76.5L225.7 76.5L225.1 76.6L224.5 76.6L223.9 76.6L223.3 76.6L222.7 76.7L222.1 76.7L221.5 76.7L220.9 76.7L220.3 76.7L219.7 76.8L219.1 76.8L218.5 76.8L217.9 76.8L217.2 76.9L216.6 76.9L216.0 76.9L215.4 77.0L214.8 77.0L214.2 77.0L213.6 77.1L213.0 77.1L212.4 77.1L211.8 77.2L211.2 77.2L210.6 77.3L210.0 77.3L209.4 77.4L208.8 77.4L208.2 77.5L207.6 77.5L207.0 77.6L206.4 77.7L205.8 77.8L205.2 77.8L204.6 77.9L203.9 78.0L203.3 78.1L202.7 78.3L202.1 78.4L201.5 78.5L200.9 78.7L200.3 78.8L199.7 79.0L199.1 79.2L198.5 79.4L197.9 79.6L197.3 79.9L196.7 80.2L196.1 80.5L195.5 80.8L194.9 81.2L194.3 81.7L193.7 82.2L193.1 82.6L192.5 83.2L191.9 83.7L191.3 84.4L190.7 85.0L190.0 85.8L189.4 86.5L188.8 87.4L188.2 88.2L187.6 89.1L187.0 89.9L186.4 90.8L185.8 91.8L185.2 92.8L184.6 93.8L184.0 95.0L183.4 96.3L182.8 97.6L182.2 99.0L181.6 100.4L181.0 101.8L180.4 103.1L179.8 104.4L179.2 105.7L178.6 106.9L178.0 108.1L177.4 109.3L176.7 110.5L176.1 111.7L175.5 112.8L174.9 113.8L174.3 114.7L173.7 115.6L173.1 116.4L172.5 117.2L171.9 117.9L171.3 118.6L170.7 119.2L170.1 119.8L169.5 120.3L168.9 120.7L168.3 120.9L167.7 121.2L167.1 121.4L166.5 121.6L165.9 121.6L165.3 121.6L164.7 121.5L164.1 121.5L163.5 121.4L162.8 121.3L162.2 121.1L161.6 120.9L161.0 120.7L160.4 120.4L159.8 120.1L159.2 119.8L158.6 119.4L158.0 119.0L157.4 118.6L156.8 118.1L156.2 117.6L155.6 117.2L155.0 116.8L154.4 116.4L153.8 116.0L153.2 115.6L152.6 115.3L152.0 114.9L151.4 114.5L150.8 114.1L150.2 113.8L149.5 113.4L148.9 113.1L148.3 112.7L147.7 112.4L147.1 112.0L146.5 111.7L145.9 111.4L145.3 111.1L144.7 110.8L144.1 110.6L143.5 110.4L142.9 110.1L142.3 109.9L141.7 109.6L141.1 109.4L140.5 109.1L139.9 108.9L139.3 108.6L138.7 108.4L138.1 108.1L137.5 107.9L136.9 107.7L136.3 107.5L135.6 107.3L135.0 107.1L134.4 106.9L133.8 106.7L133.2 106.6L132.6 106.4L132.0 106.2L131.4 106.1L130.8 105.9L130.2 105.8L129.6 105.7L129.0 105.6L128.4 105.4L127.8 105.3L127.2 105.2L126.6 105.1L126.0 105.1L125.4 105.0L124.8 104.9L124.2 104.9L123.6 104.8L123.0 104.8L122.3 104.8L121.7 104.7L121.1 104.7L120.5 104.7L119.9 104.7L119.3 104.6L118.7 104.6L118.1 104.6L117.5 104.6L116.9 104.6L116.3 104.6L115.7 104.6L115.1 104.6L114.5 104.6L113.9 104.6L113.3 104.6L112.7 104.6L112.1 104.7L111.5 104.7L110.9 104.7L110.3 104.7L109.7 104.7L109.1 104.8L108.4 104.8L107.8 104.8L107.2 104.8L106.6 104.8L106.0 104.9L105.4 104.9L104.8 104.9L104.2 104.9L103.6 104.9L103.0 105.0L102.4 105.0L101.8 105.0L101.2 105.0L100.6 105.1L100.0 105.1L99.4 105.1L98.8 105.1L98.2 105.1L97.6 105.2L97.0 105.2L96.4 105.2L95.8 105.2L95.1 105.2L94.5 105.3L93.9 105.3L93.3 105.3L92.7 105.3L92.1 105.3L91.5 105.4L90.9 105.4L90.3 105.4L89.7 105.4L89.1 105.4L88.5 105.5L87.9 105.5L87.3 105.5L86.7 105.5L86.1 105.6L85.5 105.6L84.9 105.6L84.3 105.6L83.7 105.7L83.1 105.7L82.5 105.7L81.8 105.7L81.2 105.8L80.6 105.8L80.0 105.8L79.4 105.8L78.8 105.9L78.2 105.9L77.6 105.9L77.0 105.9L76.4 106.0L75.8 106.0L75.2 106.0L74.6 106.1L74.0 106.1L73.4 106.1L72.8 106.2L72.2 106.2L71.6 106.2L71.0 106.3L70.4 106.3L69.8 106.4L69.2 106.4L68.6 106.4L67.9 106.5L67.3 106.5L66.7 106.6L66.1 106.6L65.5 106.7L64.9 106.7L64.3 106.8L63.7 106.8L63.1 106.9L62.5 106.9L61.9 107.0L61.3 107.0L60.7 107.1L60.1 107.2L59.5 107.2L58.9 107.3L58.3 107.3L57.7 107.4L57.1 107.5L56.5 107.5L55.9 107.6L55.3 107.7L54.6 107.8L54.0 107.9L53.4 107.9L52.8 108.0L52.2 108.1L51.6 108.2L51.0 108.3L50.4 108.4L49.8 108.5L49.2 108.5L48.6 108.6L48.0 108.7" stroke="#ff00ff"/>
<path d="M48.0 107.1L48.6 106.8L49.2 106.4L49.8 106.1L50.4 105.9L51.0 105.6L51.6 105.4L52.2 105.2L52.8 105.1L53.4 104.9L54.0 104.8L54.6 104.6L55.3 104.5L55.9 104.4L56.5 104.3L57.1 104.2L57.7 104.1L58.3 104.0L58.9 103.9L59.5 103.9L60.1 103.8L60.7 103.7L61.3 103.6L61.9 103.6L62.5 103.5L63.1 103.4L63.7 103.4L64.3 103.3L64.9 103.2L65.5 103.2L66.1 103.1L66.7 103.0L67.3 103.0L67.9 102.9L68.6 102.9L69.2 102.8L69.8 102.8L70.4 102.7L71.0 102.6L71.6 102.6L72.2 102.5L72.8 102.5L73.4 102.4L74.0 102.4L74.6 102.3L75.2 102.3L75.8 102.2L76.4 102.2L77.0 102.1L77.6 102.1L78.2 102.0L78.8 102.0L79.4 101.9L80.0 101.9L80.6 101.8L81.2 101.7L81.8 101.7L82.5 101.6L83.1 101.6L83.7 101.5L84.3 101.5L84.9 101.4L85.5 101.4L86.1 101.3L86.7 101.3L87.3 101.3L87.9 101.2L88.5 101.2L89.1 101.1L89.7 101.1L90.3 101.0L90.9 101.0L91.5 100.9L92.1 100.9L92.7 100.8L93.3 100.8L93.9 100.8L94.5 100.7L95.1 100.7L95.8 100.6L96.4 100.6L97.0 100.5L97.6 100.5L98.2 100.4L98.8 100.4L99.4 100.4L100.0 100.3L100.6 100.3L101.2 100.2L101.8 100.2L102.4 100.1L103.0 100.1L103.6 100.1L104.2 100.0L104.8 100.0L105.4 99.9L106.0 99.9L106.6 99.8L107.2 99.8L107.8 99.7L108.4 99.7L109.1 99.7L109.7 99.6L110.3 99.6L110.9 99.5L111.5 99.5L112.1 99.4L112.7 99.4L113.3 99.4L113.9 99.3L114.5 99.3L115.1 99.2L115.7 99.2L116.3 99.1L116.9 99.1L117.5 99.0L118.1 99.0L118.7 99.0L119.3 98.9L119.9 98.9L120.5 98.8L121.1 98.8L121.7 98.7L122.3 98.7L123.0 98.6L123.6 98.6L124.2 98.5L124.8 98.5L125.4 98.4L126.0 98.4L126.6 98.4L127.2 98.3L127.8 98.3L128.4 98.2L129.0 98.2L129.6 98.1L130.2 98.1L130.8 98.0L131.4 98.0L132.0 97.9L132.6 97.9L133.2 97.8L133.8 97.8L134.4 97.7L135.0 97.7L135.6 97.6L136.3 97.6L136.9 97.5L137.5 97.5L138.1 97.4L138.7 97.3L139.3 97.3L139.9 97.2L140.5 97.1L141.1 97.0L141.7 97.0L142.3 96.9L142.9 96.8L143.5 96.7L144.1 96.6L144.7 96.4L145.3 96.3L145.9 96.2L146.5 96.1L147.1 95.9L147.7 95.8L148.3 95.6L148.9 95.4L149.5 95.3L150.2 95.0L150.8 94.8L151.4 94.6L152.0 94.3L152.6 94.0L153.2 93.6L153.8 93.3L154.4 92.9L155.0 92.4L155.6 91.9L156.2 91.2L156.8 90.5L157.4 89.8L158.0 89.1L158.6 88.4L159.2 87.6L159.8 86.8L160.4 86.0L161.0 85.1L161.6 84.2L162.2 83.3L162.8 82.3L163.5 81.3L164.1 80.2L164.7 79.1L165.3 77.9L165.9 76.7L166.5 75.3L167.1 73.8L167.7 72.2L168.3 70.6L168.9 68.8L169.5 67.2L170.1 65.5L170.7 63.8L171.3 62.1L171.9 60.4L172.5 58.8L173.1 57.3L173.7 55.7L174.3 54.2L174.9 52.8L175.5 51.7L176.1 50.7L176.7 49.9L177.4 49.2L178.0 48.7L178.6 48.3L179.2 47.9L179.8 47.5L180.4 47.2L181.0 47.1L181.6 47.0L182.2 47.1L182.8 47.2L183.4 47.5L184.0 47.7L184.6 48.0L185.2 48.5L185.8 49.1L186.4 49.8L187.0 50.4L187.6 51.0L188.2 51.6L188.8 52.3L189.4 52.9L190.0 53.5L190.7 54.1L191.3 54.7L191.9 55.2L192.5 55.7L193.1 56.2L193.7 56.7L194.3 57.2L194.9 57.6L195.5 58.0L196.1 58.4L196.7 58.8L197.3 59.2L197.9 59.6L198.5 60.0L199.1 60.4L199.7 60.8L200.3 61.2L200.9 61.5L201.5 61.9L202.1 62.2L202.7 62.5L203.3 62.8L203.9 63.1L204.6 63.3L205.2 63.5L205.8 63.8L206.4 64.0L207.0 64.2L207.6 64.4L208.2 64.6L208.8 64.7L209.4 64.9L210.0 65.1L210.6 65.2L211.2 65.4L211.8 65.5L212.4 65.7L213.0 65.8L213.6 65.9L214.2 66.0L214.8 66.1L215.4 66.3L216.0 66.4L216.6 66.5L217.2 66.6L217.9 66.7L218.5 66.8L219.1 66.9L219.7 67.0L220.3 67.1L220.9 67.2L221.5 67.3L222.1 67.4L222.7 67.5L223.3 67.6L223.9 67.6L224.5 67.7L225.1 67.8L225.7 67.9L226.3 68.0L226.9 68.0L227.5 68.1L228.1 68.2L228.7 68.3L229.3 68.3L229.9 68.4L230.5 68.5L231.2 68.5L231.8 68.6L232.4 68.7L233.0 68.7L233.6 68.8L234.2 68.9L234.8 68.9L235.4 69.0L236.0 69.0L236.6 69.1L237.2 69.1L237.8 69.2L238.4 69.2L239.0 69.2L239.6 69.3L240.2 69.3L240.8 69.3L241.4 69.4L242.0 69.4L242.6 69.4L243.2 69.5L243.8 69.5L244.4 69.5L245.1 69.5L245.7 69.6L246.3 69.6L246.9 69.6L247.5 69.6L248.1 69.6L248.7 69.7L249.3 69.7L249.9 69.7L250.5 69.7L251.1 69.7L251.7 69.7L252.3 69.8L252.9 69.8L253.5 69.8L254.1 69.8L254.7 69.8L255.3 69.7L255.9 69.7L256.5 69.7L257.1 69.7L257.7 69.7L258.4 69.7L259.0 69.7L259.6 69.6L260.2 69.6L260.8 69.6L261.4 69.6L262.0 69.6L262.6 69.6L263.2 69.6L263.8 69.6L264.4 69.7L265.0 69.8L265.0 71.0L264.4 71.9L263.8 72.6L263.2 73.0L262.6 73.4L262.0 73.6L261.4 73.7L260.8 73.8L260.2 73.9L259.6 74.0L259.0 74.1L258.4 74.2L257.7 74.3L257.1 74.4L256.5 74.4L255.9 74.5L255.3 74.5L254.7 74.6L254.1 74.6L253.5 74.7L252.9 74.7L252.3 74.8L251.7 74.8L251.1 74.9L250.5 74.9L249.9 75.0L249.3 75.0L248.7 75.1L248.1 75.1L247.5 75.2L246.9 75.2L246.3 75.2L245.7 75.3L245.1 75.3L244.4 75.4L243.8 75.4L243.2 75.4L242.6 75.5L242.0 75.5L241.4 75.6L240.8 75.6L240.2 75.6L239.6 75.7L239.0 75.7L238.4 75.7L237.8 75.8L237.2 75.8L236.6 75.8L236.0 75.9L235.4 75.9L234.8 75.9L234.2 75.9L233.6 76.0L233.0 76.0L232.4 76.0L231.8 76.1L231.2 76.1L230.5 76.1L229.9 76.1L229.3 76.2L228.7 76.2L228.1 76.2L227.5 76.2L226.9 76.3L226.3 76.3L225.7 76.3L225.1 76.4L224.5 76.4L223.9 76.4L223.3 76.4L222.7 76.5L222.1 76.5L221.5 76.5L220.9 76.5L220.3 76.6L219.7 76.6L219.1 76.6L218.5 76.7L217.9 76.7L217.2 76.7L216.6 76.7L216.0 76.8L215.4 76.8L214.8 76.8L214.2 76.9L213.6 76.9L213.0 77.0L212.4 77.0L211.8 77.1L211.2 77.1L210.6 77.2L210.0 77.3L209.4 77.3L208.8 77.4L208.2 77.4L207.6 77.5L207.0 77.6L206.4 77.7L205.8 77.7L205.2 77.8L204.6 77.9L203.9 78.0L203.3 78.2L202.7 78.3L202.1 78.4L201.5 78.6L200.9 78.7L200.3 78.9L199.7 79.1L199.1 79.3L198.5 79.5L197.9 79.8L197.3 80.0L196.7 80.3L196.1 80.7L195.5 81.1L194.9 81.6L194.3 82.0L193.7 82.5L193.1 83.1L192.5 83.7L191.9 84.3L191.3 84.9L190.7 85.7L190.0 86.5L189.4 87.4L188.8 88.3L188.2 89.2L187.6 90.2L187.0 91.1L186.4 92.1L185.8 93.2L185.2 94.3L184.6 95.5L184.0 96.8L183.4 98.3L182.8 99.8L182.2 101.3L181.6 102.9L181.0 104.4L180.4 105.9L179.8 107.3L179.2 108.7L178.6 110.1L178.0 111.5L177.4 112.8L176.7 114.2L176.1 115.4L175.5 116.6L174.9 117.7L174.3 118.8L173.7 119.7L173.1 120.6L172.5 121.5L171.9 122.3L171.3 123.0L170.7 123.8L170.1 124.4L169.5 124.9L168.9 125.3L168.3 125.7L167.7 126.0L167.1 126.2L166.5 126.4L165.9 126.4L165.3 126.4L164.7 126.3L164.1 126.2L163.5 126.1L162.8 126.0L162.2 125.8L161.6 125.6L161.0 125.3L160.4 124.9L159.8 124.6L159.2 124.2L158.6 123.7L158.0 123.2L157.4 122.7L156.8 122.1L156.2 121.6L155.6 121.1L155.0 120.6L154.4 120.1L153.8 119.6L153.2 119.2L152.6 118.7L152.0 118.3L151.4 117.8L150.8 117.4L150.2 116.9L149.5 116.5L148.9 116.1L148.3 115.7L147.7 115.3L147.1 114.9L146.5 114.5L145.9 114.1L145.3 113.8L144.7 113.5L144.1 113.2L143.5 112.9L142.9 112.6L142.3 112.4L141.7 112.1L141.1 111.8L140.5 111.5L139.9 111.2L139.3 110.9L138.7 110.6L138.1 110.3L137.5 110.1L136.9 109.8L136.3 109.5L135.6 109.3L135.0 109.1L134.4 108.8L133.8 108.6L133.2 108.4L132.6 108.2L132.0 108.0L131.4 107.9L130.8 107.7L130.2 107.5L129.6 107.4L129.0 107.2L128.4 107.1L127.8 107.0L127.2 106.8L126.6 106.7L126.0 106.6L125.4 106.5L124.8 106.5L124.2 106.4L123.6 106.3L123.0 106.3L122.3 106.2L121.7 106.2L121.1 106.1L120.5 106.1L119.9 106.1L119.3 106.0L118.7 106.0L118.1 106.0L117.5 106.0L116.9 105.9L116.3 105.9L115.7 105.9L115.1 105.9L114.5 105.9L113.9 105.9L113.3 105.9L112.7 105.9L112.1 105.9L111.5 105.9L110.9 105.9L110.3 105.9L109.7 105.9L109.1 105.9L108.4 105.9L107.8 105.9L107.2 105.9L106.6 105.9L106.0 106.0L105.4 106.0L104.8 106.0L104.2 106.0L103.6 106.0L103.0 106.0L102.4 106.0L101.8 106.0L101.2 106.1L100.6 106.1L100.0 106.1L99.4 106.1L98.8 106.1L98.2 106.1L97.6 106.1L97.0 106.1L96.4 106.1L95.8 106.2L95.1 106.2L94.5 106.2L93.9 106.2L93.3 106.2L92.7 106.2L92.1 106.2L91.5 106.3L90.9 106.3L90.3 106.3L89.7 106.3L89.1 106.3L88.5 106.3L87.9 106.3L87.3 106.4L86.7 106.4L86.1 106.4L85.5 106.4L84.9 106.4L84.3 106.4L83.7 106.5L83.1 106.5L82.5 106.5L81.8 106.5L81.2 106.5L80.6 106.5L80.0 106.6L79.4 106.6L78.8 106.6L78.2 106.6L77.6 106.6L77.0 106.7L76.4 106.7L75.8 106.7L75.2 106.7L74.6 106.8L74.0 106.8L73.4 106.8L72.8 106.8L72.2 106.9L71.6 106.9L71.0 106.9L70.4 107.0L69.8 107.0L69.2 107.0L68.6 107.1L67.9 107.1L67.3 107.2L66.7 107.2L66.1 107.3L65.5 107.3L64.9 107.4L64.3 107.4L63.7 107.5L63.1 107.5L62.5 107.6L61.9 107.6L61.3 107.7L60.7 107.7L60.1 107.8L59.5 107.8L58.9 107.9L58.3 107.9L57.7 108.0L57.1 108.1L56.5 108.1L55.9 108.2L55.3 108.3L54.6 108.4L54.0 108.4L53.4 108.5L52.8 108.6L52.2 108.7L51.6 108.8L51.0 108.8L50.4 108.9L49.8 109.0L49.2 109.1L48.6 109.2L48.0 109.3" stroke="#008000"/>
<path d="M48.0 107.4L48.6 107.1L49.2 106.7L49.8 106.4L50.4 106.1L51.0 105.9L51.6 105.7L52.2 105.5L52.8 105.3L53.4 105.2L54.0 105.0L54.6 104.9L55.3 104.8L55.9 104.6L56.5 104.5L57.1 104.4L57.7 104.3L58.3 104.3L58.9 104.2L59.5 104.1L60.1 104.0L60.7 103.9L61.3 103.9L61.9 103.8L62.5 103.7L63.1 103.6L63.7 103.6L64.3 103.5L64.9 103.4L65.5 103.4L66.1 103.3L66.7 103.3L67.3 103.2L67.9 103.1L68.6 103.1L69.2 103.0L69.8 103.0L70.4 102.9L71.0 102.9L71.6 102.8L72.2 102.8L72.8 102.7L73.4 102.7L74.0 102.6L74.6 102.5L75.2 102.5L75.8 102.4L76.4 102.4L77.0 102.3L77.6 102.3L78.2 102.2L78.8 102.2L79.4 102.1L80.0 102.0L80.6 102.0L81.2 101.9L81.8 101.9L82.5 101.8L83.1 101.8L83.7 101.7L84.3 101.7L84.9 101.6L85.5 101.6L86.1 101.5L86.7 101.5L87.3 101.4L87.9 101.4L88.5 101.3L89.1 101.3L89.7 101.2L90.3 101.2L90.9 101.1L91.5 101.1L92.1 101.0L92.7 101.0L93.3 101.0L93.9 100.9L94.5 100.9L95.1 100.8L95.8 100.8L96.4 100.7L97.0 100.7L97.6 100.6L98.2 100.6L98.8 100.5L99.4 100.5L100.0 100.5L100.6 100.4L101.2 100.4L101.8 100.3L102.4 100.3L103.0 100.2L103.6 100.2L104.2 100.1L104.8 100.1L105.4 100.0L106.0 100.0L106.6 99.9L107.2 99.9L107.8 99.9L108.4 99.8L109.1 99.8L109.7 99.7L110.3 99.7L110.9 99.6L111.5 99.6L112.1 99.5L112.7 99.5L113.3 99.5L113.9 99.4L114.5 99.4L115.1 99.3L115.7 99.3L116.3 99.2L116.9 99.2L117.5 99.1L118.1 99.1L118.7 99.0L119.3 99.0L119.9 98.9L120.5 98.9L121.1 98.8L121.7 98.8L122.3 98.7L123.0 98.7L123.6 98.6L124.2 98.6L124.8 98.5L125.4 98.5L126.0 98.4L126.6 98.4L127.2 98.3L127.8 98.3L128.4 98.3L129.0 98.2L129.6 98.2L130.2 98.1L130.8 98.1L131.4 98.0L132.0 98.0L132.6 97.9L133.2 97.9L133.8 97.8L134.4 97.8L135.0 97.7L135.6 97.6L136.3 97.6L136.9 97.5L137.5 97.4L138.1 97.4L138.7 97.3L139.3 97.2L139.9 97.2L140.5 97.1L141.1 97.0L141.7 96.9L142.3 96.8L142.9 96.7L143.5 96.6L144.1 96.5L144.7 96.3L145.3 96.2L145.9 96.1L146.5 95.9L147.1 95.7L147.7 95.6L148.3 95.4L148.9 95.2L149.5 95.0L150.2 94.8L150.8 94.5L151.4 94.2L152.0 93.9L152.6 93.6L153.2 93.2L153.8 92.8L154.4 92.4L155.0 91.8L155.6 91.2L156.2 90.5L156.8 89.7L157.4 88.9L158.0 88.2L158.6 87.3L159.2 86.5L159.8 85.6L160.4 84.7L161.0 83.7L161.6 82.7L162.2 81.7L162.8 80.6L163.5 79.5L164.1 78.3L164.7 77.1L165.3 75.8L165.9 74.4L166.5 72.9L167.1 71.3L167.7 69.6L168.3 67.7L168.9 65.9L169.5 64.0L170.1 62.2L170.7 60.3L171.3 58.4L171.9 56.6L172.5 54.8L173.1 53.1L173.7 51.4L174.3 49.7L174.9 48.2L175.5 47.0L176.1 45.9L176.7 45.0L177.4 44.3L178.0 43.8L178.6 43.3L179.2 42.8L179.8 42.4L180.4 42.2L181.0 42.0L181.6 42.0L182.2 42.1L182.8 42.3L183.4 42.6L184.0 42.9L184.6 43.3L185.2 43.9L185.8 44.6L186.4 45.4L187.0 46.1L187.6 46.9L188.2 47.6L188.8 48.3L189.4 49.1L190.0 49.8L190.7 50.5L191.3 51.2L191.9 51.8L192.5 52.4L193.1 53.0L193.7 53.5L194.3 54.1L194.9 54.6L195.5 55.1L196.1 55.5L196.7 56.0L197.3 56.5L197.9 56.9L198.5 57.4L199.1 57.8L199.7 58.3L200.3 58.7L200.9 59.1L201.5 59.5L202.1 59.9L202.7 60.2L203.3 60.5L203.9 60.8L204.6 61.1L205.2 61.4L205.8 61.6L206.4 61.9L207.0 62.1L207.6 62.3L208.2 62.5L208.8 62.7L209.4 62.9L210.0 63.1L210.6 63.3L211.2 63.5L211.8 63.6L212.4 63.8L213.0 63.9L213.6 64.1L214.2 64.2L214.8 64.4L215.4 64.5L216.0 64.6L216.6 64.7L217.2 64.9L217.9 65.0L218.5 65.1L219.1 65.2L219.7 65.4L220.3 65.5L220.9 65.6L221.5 65.7L222.1 65.8L222.7 65.9L223.3 66.0L223.9 66.1L224.5 66.2L225.1 66.3L225.7 66.4L226.3 66.5L226.9 66.6L227.5 66.7L228.1 66.8L228.7 66.9L229.3 67.0L229.9 67.1L230.5 67.1L231.2 67.2L231.8 67.3L232.4 67.4L233.0 67.5L233.6 67.5L234.2 67.6L234.8 67.7L235.4 67.7L236.0 67.8L236.6 67.9L237.2 67.9L237.8 68.0L238.4 68.0L239.0 68.1L239.6 68.1L240.2 68.2L240.8 68.2L241.4 68.3L242.0 68.3L242.6 68.3L243.2 68.4L243.8 68.4L244.4 68.5L245.1 68.5L245.7 68.5L246.3 68.6L246.9 68.6L247.5 68.6L248.1 68.7L248.7 68.7L249.3 68.7L249.9 68.7L250.5 68.8L251.1 68.8L251.7 68.8L252.3 68.8L252.9 68.8L253.5 68.9L254.1 68.9L254.7 68.9L255.3 68.9L255.9 68.9L256.5 68.9L257.1 68.9L257.7 68.9L258.4 68.8L259.0 68.8L259.6 68.8L260.2 68.8L260.8 68.8L261.4 68.8L262.0 68.9L262.6 68.9L263.2 68.9L263.8 68.9L264.4 69.0L265.0 69.1L265.0 70.3L264.4 71.3L263.8 72.0L263.2 72.5L262.6 72.8L262.0 73.0L261.4 73.2L260.8 73.3L260.2 73.5L259.6 73.6L259.0 73.7L258.4 73.7L257.7 73.8L257.1 73.9L256.5 74.0L255.9 74.0L255.3 74.1L254.7 74.2L254.1 74.2L253.5 74.3L252.9 74.3L252.3 74.4L251.7 74.4L251.1 74.5L250.5 74.5L249.9 74.6L249.3 74.6L248.7 74.7L248.1 74.7L247.5 74.8L246.9 74.8L246.3 74.9L245.7 74.9L245.1 75.0L244.4 75.0L243.8 75.1L243.2 75.1L242.6 75.2L242.0 75.2L241.4 75.3L240.8 75.3L240.2 75.3L239.6 75.4L239.0 75.4L238.4 75.4L237.8 75.5L237.2 75.5L236.6 75.6L236.0 75.6L235.4 75.6L234.8 75.7L234.2 75.7L233.6 75.7L233.0 75.8L232.4 75.8L231.8 75.8L231.2 75.8L230.5 75.9L229.9 75.9L229.3 75.9L228.7 76.0L228.1 76.0L227.5 76.0L226.9 76.1L226.3 76.1L225.7 76.1L225.1 76.1L224.5 76.2L223.9 76.2L223.3 76.2L222.7 76.3L222.1 76.3L221.5 76.3L220.9 76.4L220.3 76.4L219.7 76.4L219.1 76.5L218.5 76.5L217.9 76.5L217.2 76.6L216.6 76.6L216.0 76.6L215.4 76.7L214.8 76.7L214.2 76.8L213.6 76.8L213.0 76.9L212.4 76.9L211.8 77.0L211.2 77.1L210.6 77.1L210.0 77.2L209.4 77.2L208.8 77.3L208.2 77.4L207.6 77.5L207.0 77.5L206.4 77.6L205.8 77.7L205.2 77.8L204.6 77.9L203.9 78.0L203.3 78.2L202.7 78.3L202.1 78.5L201.5 78.6L200.9 78.8L200.3 79.0L199.7 79.2L199.1 79.4L198.5 79.6L197.9 79.9L197.3 80.2L196.7 80.5L196.1 80.9L195.5 81.4L194.9 81.9L194.3 82.4L193.7 82.9L193.1 83.5L192.5 84.1L191.9 84.8L191.3 85.5L190.7 86.3L190.0 87.2L189.4 88.1L188.8 89.2L188.2 90.2L187.6 91.3L187.0 92.3L186.4 93.4L185.8 94.5L185.2 95.8L184.6 97.1L184.0 98.6L183.4 100.1L182.8 101.8L182.2 103.5L181.6 105.2L181.0 106.9L180.4 108.6L179.8 110.1L179.2 111.6L178.6 113.2L178.0 114.7L177.4 116.2L176.7 117.6L176.1 119.0L175.5 120.3L174.9 121.6L174.3 122.7L173.7 123.7L173.1 124.7L172.5 125.6L171.9 126.5L171.3 127.3L170.7 128.1L170.1 128.8L169.5 129.4L168.9 129.8L168.3 130.2L167.7 130.5L167.1 130.8L166.5 131.0L165.9 131.0L165.3 131.0L164.7 130.9L164.1 130.8L163.5 130.7L162.8 130.6L162.2 130.4L161.6 130.1L161.0 129.7L160.4 129.3L159.8 128.9L159.2 128.4L158.6 127.9L158.0 127.3L157.4 126.7L156.8 126.0L156.2 125.4L155.6 124.7L155.0 124.2L154.4 123.6L153.8 123.1L153.2 122.6L152.6 122.0L152.0 121.5L151.4 121.0L150.8 120.5L150.2 120.0L149.5 119.5L148.9 119.0L148.3 118.6L147.7 118.1L147.1 117.6L146.5 117.2L145.9 116.8L145.3 116.4L144.7 116.0L144.1 115.7L143.5 115.4L142.9 115.1L142.3 114.7L141.7 114.4L141.1 114.1L140.5 113.7L139.9 113.4L139.3 113.1L138.7 112.8L138.1 112.4L137.5 112.1L136.9 111.8L136.3 111.5L135.6 111.2L135.0 111.0L134.4 110.7L133.8 110.5L133.2 110.2L132.6 110.0L132.0 109.8L131.4 109.6L130.8 109.4L130.2 109.2L129.6 109.0L129.0 108.8L128.4 108.7L127.8 108.5L127.2 108.4L126.6 108.2L126.0 108.1L125.4 108.0L124.8 107.9L124.2 107.9L123.6 107.8L123.0 107.7L122.3 107.6L121.7 107.6L121.1 107.5L120.5 107.5L119.9 107.4L119.3 107.4L118.7 107.3L118.1 107.3L117.5 107.3L116.9 107.2L116.3 107.2L115.7 107.2L115.1 107.2L114.5 107.1L113.9 107.1L113.3 107.1L112.7 107.1L112.1 107.1L111.5 107.1L110.9 107.1L110.3 107.0L109.7 107.0L109.1 107.0L108.4 107.0L107.8 107.0L107.2 107.0L106.6 107.0L106.0 107.0L105.4 107.0L104.8 107.0L104.2 107.0L103.6 107.0L103.0 107.0L102.4 107.0L101.8 107.0L101.2 107.0L100.6 107.0L100.0 107.0L99.4 107.0L98.8 107.0L98.2 107.0L97.6 107.0L97.0 107.1L96.4 107.1L95.8 107.1L95.1 107.1L94.5 107.1L93.9 107.1L93.3 107.1L92.7 107.1L92.1 107.1L91.5 107.1L90.9 107.1L90.3 107.1L89.7 107.1L89.1 107.1L88.5 107.1L87.9 107.2L87.3 107.2L86.7 107.2L86.1 107.2L85.5 107.2L84.9 107.2L84.3 107.2L83.7 107.2L83.1 107.2L82.5 107.2L81.8 107.3L81.2 107.3L80.6 107.3L80.0 107.3L79.4 107.3L78.8 107.3L78.2 107.3L77.6 107.3L77.0 107.4L76.4 107.4L75.8 107.4L75.2 107.4L74.6 107.4L74.0 107.4L73.4 107.5L72.8 107.5L72.2 107.5L71.6 107.6L71.0 107.6L70.4 107.6L69.8 107.6L69.2 107.7L68.6 107.7L67.9 107.8L67.3 107.8L66.7 107.8L66.1 107.9L65.5 107.9L64.9 108.0L64.3 108.0L63.7 108.1L63.1 108.1L62.5 108.2L61.9 108.2L61.3 108.3L60.7 108.3L60.1 108.4L59.5 108.4L58.9 108.5L58.3 108.5L57.7 108.6L57.1 108.6L56.5 108.7L55.9 108.8L55.3 108.8L54.6 108.9L54.0 109.0L53.4 109.1L52.8 109.1L52.2 109.2L51.6 109.3L51.0 109.4L50.4 109.5L49.8 109.6L49.2 109.6L48.6 109.7L48.0 109.8" stroke="#000080"/>
<path d="M48.0 107.7L48.6 107.3L49.2 107.0L49.8 106.7L50.4 106.4L51.0 106.1L51.6 105.9L52.2 105.7L52.8 105.5L53.4 105.4L54.0 105.2L54.6 105.1L55.3 105.0L55.9 104.9L56.5 104.8L57.1 104.7L57.7 104.6L58.3 104.5L58.9 104.4L59.5 104.3L60.1 104.2L60.7 104.1L61.3 104.1L61.9 104.0L62.5 103.9L63.1 103.9L63.7 103.8L64.3 103.7L64.9 103.7L65.5 103.6L66.1 103.5L66.7 103.5L67.3 103.4L67.9 103.3L68.6 103.3L69.2 103.2L69.8 103.2L70.4 103.1L71.0 103.1L71.6 103.0L72.2 103.0L72.8 102.9L73.4 102.8L74.0 102.8L74.6 102.7L75.2 102.7L75.8 102.6L76.4 102.6L77.0 102.5L77.6 102.5L78.2 102.4L78.8 102.3L79.4 102.3L80.0 102.2L80.6 102.2L81.2 102.1L81.8 102.1L82.5 102.0L83.1 101.9L83.7 101.9L84.3 101.8L84.9 101.8L85.5 101.7L86.1 101.7L86.7 101.6L87.3 101.6L87.9 101.5L88.5 101.5L89.1 101.4L89.7 101.4L90.3 101.3L90.9 101.3L91.5 101.2L92.1 101.2L92.7 101.1L93.3 101.1L93.9 101.1L94.5 101.0L95.1 101.0L95.8 100.9L96.4 100.9L97.0 100.8L97.6 100.8L98.2 100.7L98.8 100.7L99.4 100.6L100.0 100.6L100.6 100.5L101.2 100.5L101.8 100.4L102.4 100.4L103.0 100.3L103.6 100.3L104.2 100.2L104.8 100.2L105.4 100.1L106.0 100.1L106.6 100.1L107.2 100.0L107.8 100.0L108.4 99.9L109.1 99.9L109.7 99.8L110.3 99.8L110.9 99.7L111.5 99.7L112.1 99.6L112.7 99.6L113.3 99.5L113.9 99.5L114.5 99.4L115.1 99.4L115.7 99.4L116.3 99.3L116.9 99.3L117.5 99.2L118.1 99.2L118.7 99.1L119.3 99.1L119.9 99.0L120.5 99.0L121.1 98.9L121.7 98.9L122.3 98.8L123.0 98.8L123.6 98.7L124.2 98.6L124.8 98.6L125.4 98.5L126.0 98.5L126.6 98.4L127.2 98.4L127.8 98.3L128.4 98.3L129.0 98.2L129.6 98.2L130.2 98.1L130.8 98.1L131.4 98.0L132.0 98.0L132.6 97.9L133.2 97.9L133.8 97.8L134.4 97.8L135.0 97.7L135.6 97.6L136.3 97.6L136.9 97.5L137.5 97.4L138.1 97.4L138.7 97.3L139.3 97.2L139.9 97.1L140.5 97.0L141.1 96.9L141.7 96.8L142.3 96.7L142.9 96.6L143.5 96.5L144.1 96.4L144.7 96.2L145.3 96.1L145.9 95.9L146.5 95.7L147.1 95.6L147.7 95.4L148.3 95.2L148.9 95.0L149.5 94.7L150.2 94.5L150.8 94.2L151.4 93.9L152.0 93.6L152.6 93.2L153.2 92.8L153.8 92.4L154.4 91.9L155.0 91.3L155.6 90.6L156.2 89.8L156.8 89.0L157.4 88.1L158.0 87.3L158.6 86.4L159.2 85.5L159.8 84.5L160.4 83.5L161.0 82.4L161.6 81.4L162.2 80.2L162.8 79.1L163.5 77.9L164.1 76.6L164.7 75.2L165.3 73.8L165.9 72.3L166.5 70.7L167.1 69.0L167.7 67.1L168.3 65.1L168.9 63.1L169.5 61.1L170.1 59.1L170.7 57.1L171.3 55.1L171.9 53.1L172.5 51.2L173.1 49.3L173.7 47.4L174.3 45.5L174.9 43.9L175.5 42.6L176.1 41.5L176.7 40.5L177.4 39.8L178.0 39.2L178.6 38.7L179.2 38.2L179.8 37.8L180.4 37.5L181.0 37.3L181.6 37.4L182.2 37.5L182.8 37.8L183.4 38.1L184.0 38.5L184.6 39.0L185.2 39.6L185.8 40.5L186.4 41.4L187.0 42.2L187.6 43.0L188.2 43.9L188.8 44.7L189.4 45.6L190.0 46.4L190.7 47.2L191.3 48.0L191.9 48.7L192.5 49.3L193.1 50.0L193.7 50.6L194.3 51.2L194.9 51.8L195.5 52.3L196.1 52.9L196.7 53.4L197.3 53.9L197.9 54.4L198.5 54.9L199.1 55.4L199.7 55.9L200.3 56.4L200.9 56.8L201.5 57.3L202.1 57.7L202.7 58.1L203.3 58.4L203.9 58.8L204.6 59.1L205.2 59.4L205.8 59.7L206.4 59.9L207.0 60.2L207.6 60.4L208.2 60.7L208.8 60.9L209.4 61.1L210.0 61.3L210.6 61.5L211.2 61.7L211.8 61.9L212.4 62.1L213.0 62.2L213.6 62.4L214.2 62.6L214.8 62.7L215.4 62.9L216.0 63.0L216.6 63.2L217.2 63.3L217.9 63.4L218.5 63.6L219.1 63.7L219.7 63.9L220.3 64.0L220.9 64.1L221.5 64.3L222.1 64.4L222.7 64.5L223.3 64.6L223.9 64.7L224.5 64.9L225.1 65.0L225.7 65.1L226.3 65.2L226.9 65.3L227.5 65.4L228.1 65.5L228.7 65.6L229.3 65.7L229.9 65.8L230.5 65.9L231.2 66.0L231.8 66.1L232.4 66.2L233.0 66.3L233.6 66.4L234.2 66.5L234.8 66.5L235.4 66.6L236.0 66.7L236.6 66.8L237.2 66.8L237.8 66.9L238.4 67.0L239.0 67.0L239.6 67.1L240.2 67.1L240.8 67.2L241.4 67.2L242.0 67.3L242.6 67.3L243.2 67.4L243.8 67.4L244.4 67.5L245.1 67.5L245.7 67.6L246.3 67.6L246.9 67.7L247.5 67.7L248.1 67.7L248.7 67.8L249.3 67.8L249.9 67.8L250.5 67.9L251.1 67.9L251.7 67.9L252.3 68.0L252.9 68.0L253.5 68.0L254.1 68.0L254.7 68.1L255.3 68.1L255.9 68.1L256.5 68.1L257.1 68.1L257.7 68.1L258.4 68.1L259.0 68.1L259.6 68.1L260.2 68.1L260.8 68.1L261.4 68.1L262.0 68.2L262.6 68.2L263.2 68.2L263.8 68.3L264.4 68.4L265.0 68.5L265.0 69.7L264.4 70.7L263.8 71.5L263.2 72.0L262.6 72.3L262.0 72.6L261.4 72.8L260.8 72.9L260.2 73.0L259.6 73.1L259.0 73.2L258.4 73.3L257.7 73.4L257.1 73.5L256.5 73.6L255.9 73.7L255.3 73.7L254.7 73.8L254.1 73.9L253.5 73.9L252.9 74.0L252.3 74.0L251.7 74.1L251.1 74.2L250.5 74.2L249.9 74.3L249.3 74.3L248.7 74.4L248.1 74.4L247.5 74.5L246.9 74.5L246.3 74.6L245.7 74.6L245.1 74.7L244.4 74.7L243.8 74.8L243.2 74.8L242.6 74.9L242.0 74.9L241.4 75.0L240.8 75.0L240.2 75.1L239.6 75.1L239.0 75.2L238.4 75.2L237.8 75.2L237.2 75.3L236.6 75.3L236.0 75.4L235.4 75.4L234.8 75.4L234.2 75.5L233.6 75.5L233.0 75.5L232.4 75.6L231.8 75.6L231.2 75.6L230.5 75.7L229.9 75.7L229.3 75.7L228.7 75.8L228.1 75.8L227.5 75.8L226.9 75.9L226.3 75.9L225.7 75.9L225.1 76.0L224.5 76.0L223.9 76.0L223.3 76.1L222.7 76.1L222.1 76.1L221.5 76.2L220.9 76.2L220.3 76.2L219.7 76.3L219.1 76.3L218.5 76.3L217.9 76.4L217.2 76.4L216.6 76.5L216.0 76.5L215.4 76.6L214.8 76.6L214.2 76.7L213.6 76.7L213.0 76.8L212.4 76.8L211.8 76.9L211.2 77.0L210.6 77.1L210.0 77.1L209.4 77.2L208.8 77.3L208.2 77.3L207.6 77.4L207.0 77.5L206.4 77.6L205.8 77.7L205.2 77.8L204.6 77.9L203.9 78.0L203.3 78.2L202.7 78.3L202.1 78.5L201.5 78.7L200.9 78.9L200.3 79.0L199.7 79.3L199.1 79.5L198.5 79.7L197.9 80.0L197.3 80.3L196.7 80.7L196.1 81.1L195.5 81.6L194.9 82.1L194.3 82.7L193.7 83.3L193.1 83.9L192.5 84.5L191.9 85.2L191.3 86.0L190.7 86.8L190.0 87.8L189.4 88.8L188.8 89.9L188.2 91.1L187.6 92.2L187.0 93.3L186.4 94.5L185.8 95.7L185.2 97.0L184.6 98.5L184.0 100.1L183.4 101.8L182.8 103.6L182.2 105.4L181.6 107.3L181.0 109.1L180.4 110.9L179.8 112.5L179.2 114.2L178.6 115.9L178.0 117.5L177.4 119.1L176.7 120.7L176.1 122.2L175.5 123.6L174.9 124.9L174.3 126.1L173.7 127.2L173.1 128.3L172.5 129.3L171.9 130.2L171.3 131.1L170.7 131.9L170.1 132.7L169.5 133.3L168.9 133.8L168.3 134.2L167.7 134.5L167.1 134.8L166.5 135.0L165.9 135.0L165.3 135.0L164.7 134.9L164.1 134.8L163.5 134.7L162.8 134.5L162.2 134.3L161.6 134.0L161.0 133.5L160.4 133.1L159.8 132.6L159.2 132.1L158.6 131.5L158.0 130.8L157.4 130.1L156.8 129.4L156.2 128.7L155.6 128.0L155.0 127.3L154.4 126.7L153.8 126.1L153.2 125.5L152.6 124.9L152.0 124.3L151.4 123.8L150.8 123.2L150.2 122.7L149.5 122.1L148.9 121.6L148.3 121.1L147.7 120.5L147.1 120.0L146.5 119.5L145.9 119.1L145.3 118.6L144.7 118.2L144.1 117.9L143.5 117.5L142.9 117.2L142.3 116.8L141.7 116.5L141.1 116.1L140.5 115.7L139.9 115.3L139.3 115.0L138.7 114.6L138.1 114.3L137.5 113.9L136.9 113.6L136.3 113.2L135.6 112.9L135.0 112.6L134.4 112.3L133.8 112.1L133.2 111.8L132.6 111.5L132.0 111.3L131.4 111.0L130.8 110.8L130.2 110.6L129.6 110.4L129.0 110.2L128.4 110.1L127.8 109.9L127.2 109.7L126.6 109.6L126.0 109.4L125.4 109.3L124.8 109.2L124.2 109.1L123.6 109.0L123.0 109.0L122.3 108.9L121.7 108.8L121.1 108.7L120.5 108.7L119.9 108.6L119.3 108.6L118.7 108.5L118.1 108.5L117.5 108.4L116.9 108.4L116.3 108.3L115.7 108.3L115.1 108.2L114.5 108.2L113.9 108.2L113.3 108.2L112.7 108.1L112.1 108.1L111.5 108.1L110.9 108.1L110.3 108.0L109.7 108.0L109.1 108.0L108.4 108.0L107.8 108.0L107.2 108.0L106.6 108.0L106.0 107.9L105.4 107.9L104.8 107.9L104.2 107.9L103.6 107.9L103.0 107.9L102.4 107.9L101.8 107.9L101.2 107.9L100.6 107.9L100.0 107.9L99.4 107.9L98.8 107.9L98.2 107.9L97.6 107.9L97.0 107.9L96.4 107.9L95.8 107.9L95.1 107.8L94.5 107.8L93.9 107.8L93.3 107.8L92.7 107.8L92.1 107.8L91.5 107.9L90.9 107.9L90.3 107.9L89.7 107.9L89.1 107.9L88.5 107.9L87.9 107.9L87.3 107.9L86.7 107.9L86.1 107.9L85.5 107.9L84.9 107.9L84.3 107.9L83.7 107.9L83.1 107.9L82.5 107.9L81.8 107.9L81.2 107.9L80.6 107.9L80.0 107.9L79.4 107.9L78.8 107.9L78.2 107.9L77.6 108.0L77.0 108.0L76.4 108.0L75.8 108.0L75.2 108.0L74.6 108.0L74.0 108.0L73.4 108.0L72.8 108.1L72.2 108.1L71.6 108.1L71.0 108.1L70.4 108.2L69.8 108.2L69.2 108.2L68.6 108.3L67.9 108.3L67.3 108.3L66.7 108.4L66.1 108.4L65.5 108.5L64.9 108.5L64.3 108.5L63.7 108.6L63.1 108.6L62.5 108.7L61.9 108.7L61.3 108.8L60.7 108.8L60.1 108.9L59.5 108.9L58.9 109.0L58.3 109.0L57.7 109.1L57.1 109.1L56.5 109.2L55.9 109.3L55.3 109.3L54.6 109.4L54.0 109.5L53.4 109.6L52.8 109.6L52.2 109.7L51.6 109.8L51.0 109.9L50.4 109.9L49.8 110.0L49.2 110.1L48.6 110.2L48.0 110.3" stroke="#8000ff"/>
<path d="M48.0 108.0L48.6 107.6L49.2 107.3L49.8 106.9L50.4 106.6L51.0 106.4L51.6 106.2L52.2 106.0L52.8 105.8L53.4 105.6L54.0 105.4L54.6 105.3L55.3 105.2L55.9 105.1L56.5 105.0L57.1 104.9L57.7 104.8L58.3 104.7L58.9 104.6L59.5 104.5L60.1 104.4L60.7 104.4L61.3 104.3L61.9 104.2L62.5 104.1L63.1 104.1L63.7 104.0L64.3 103.9L64.9 103.9L65.5 103.8L66.1 103.7L66.7 103.7L67.3 103.6L67.9 103.5L68.6 103.5L69.2 103.4L69.8 103.4L70.4 103.3L71.0 103.3L71.6 103.2L72.2 103.1L72.8 103.1L73.4 103.0L74.0 103.0L74.6 102.9L75.2 102.9L75.8 102.8L76.4 102.7L77.0 102.7L77.6 102.6L78.2 102.6L78.8 102.5L79.4 102.5L80.0 102.4L80.6 102.3L81.2 102.3L81.8 102.2L82.5 102.2L83.1 102.1L83.7 102.1L84.3 102.0L84.9 101.9L85.5 101.9L86.1 101.8L86.7 101.8L87.3 101.7L87.9 101.7L88.5 101.6L89.1 101.6L89.7 101.5L90.3 101.5L90.9 101.4L91.5 101.4L92.1 101.3L92.7 101.3L93.3 101.2L93.9 101.2L94.5 101.1L95.1 101.1L95.8 101.0L96.4 101.0L97.0 100.9L97.6 100.9L98.2 100.8L98.8 100.8L99.4 100.7L100.0 100.7L100.6 100.6L101.2 100.6L101.8 100.5L102.4 100.5L103.0 100.4L103.6 100.4L104.2 100.4L104.8 100.3L105.4 100.3L106.0 100.2L106.6 100.2L107.2 100.1L107.8 100.1L108.4 100.0L109.1 100.0L109.7 99.9L110.3 99.9L110.9 99.8L111.5 99.8L112.1 99.7L112.7 99.7L113.3 99.6L113.9 99.6L114.5 99.5L115.1 99.5L115.7 99.4L116.3 99.4L116.9 99.3L117.5 99.3L118.1 99.2L118.7 99.2L119.3 99.1L119.9 99.1L120.5 99.0L121.1 99.0L121.7 98.9L122.3 98.9L123.0 98.8L123.6 98.8L124.2 98.7L124.8 98.6L125.4 98.6L126.0 98.5L126.6 98.5L127.2 98.4L127.8 98.4L128.4 98.3L129.0 98.3L129.6 98.2L130.2 98.2L130.8 98.1L131.4 98.1L132.0 98.0L132.6 97.9L133.2 97.9L133.8 97.8L134.4 97.8L135.0 97.7L135.6 97.6L136.3 97.6L136.9 97.5L137.5 97.4L138.1 97.3L138.7 97.3L139.3 97.2L139.9 97.1L140.5 97.0L141.1 96.9L141.7 96.8L142.3 96.7L142.9 96.5L143.5 96.4L144.1 96.3L144.7 96.1L145.3 95.9L145.9 95.8L146.5 95.6L147.1 95.4L147.7 95.2L148.3 95.0L148.9 94.8L149.5 94.5L150.2 94.2L150.8 93.9L151.4 93.6L152.0 93.2L152.6 92.8L153.2 92.4L153.8 91.9L154.4 91.4L155.0 90.8L155.6 90.0L156.2 89.2L156.8 88.3L157.4 87.4L158.0 86.4L158.6 85.5L159.2 84.5L159.8 83.4L160.4 82.4L161.0 81.2L161.6 80.1L162.2 78.8L162.8 77.6L163.5 76.3L164.1 74.9L164.7 73.5L165.3 71.9L165.9 70.3L166.5 68.6L167.1 66.8L167.7 64.7L168.3 62.6L168.9 60.5L169.5 58.4L170.1 56.2L170.7 54.1L171.3 51.9L171.9 49.7L172.5 47.6L173.1 45.6L173.7 43.5L174.3 41.5L174.9 39.8L175.5 38.4L176.1 37.2L176.7 36.2L177.4 35.4L178.0 34.8L178.6 34.2L179.2 33.7L179.8 33.3L180.4 33.0L181.0 32.9L181.6 32.9L182.2 33.1L182.8 33.4L183.4 33.8L184.0 34.3L184.6 34.8L185.2 35.5L185.8 36.5L186.4 37.5L187.0 38.4L187.6 39.3L188.2 40.3L188.8 41.2L189.4 42.2L190.0 43.1L190.7 44.0L191.3 44.8L191.9 45.6L192.5 46.4L193.1 47.1L193.7 47.8L194.3 48.5L194.9 49.1L195.5 49.7L196.1 50.3L196.7 50.9L197.3 51.5L197.9 52.0L198.5 52.6L199.1 53.1L199.7 53.7L200.3 54.2L200.9 54.7L201.5 55.2L202.1 55.6L202.7 56.0L203.3 56.4L203.9 56.8L204.6 57.1L205.2 57.5L205.8 57.8L206.4 58.1L207.0 58.4L207.6 58.6L208.2 58.9L208.8 59.1L209.4 59.4L210.0 59.6L210.6 59.8L211.2 60.0L211.8 60.2L212.4 60.4L213.0 60.6L213.6 60.8L214.2 61.0L214.8 61.1L215.4 61.3L216.0 61.5L216.6 61.6L217.2 61.8L217.9 62.0L218.5 62.1L219.1 62.3L219.7 62.4L220.3 62.6L220.9 62.7L221.5 62.9L222.1 63.0L222.7 63.1L223.3 63.3L223.9 63.4L224.5 63.5L225.1 63.7L225.7 63.8L226.3 63.9L226.9 64.0L227.5 64.2L228.1 64.3L228.7 64.4L229.3 64.5L229.9 64.6L230.5 64.7L231.2 64.8L231.8 64.9L232.4 65.0L233.0 65.2L233.6 65.3L234.2 65.3L234.8 65.4L235.4 65.5L236.0 65.6L236.6 65.7L237.2 65.8L237.8 65.9L238.4 65.9L239.0 66.0L239.6 66.1L240.2 66.1L240.8 66.2L241.4 66.3L242.0 66.3L242.6 66.4L243.2 66.4L243.8 66.5L244.4 66.6L245.1 66.6L245.7 66.7L246.3 66.7L246.9 66.8L247.5 66.8L248.1 66.9L248.7 66.9L249.3 66.9L249.9 67.0L250.5 67.0L251.1 67.1L251.7 67.1L252.3 67.1L252.9 67.2L253.5 67.2L254.1 67.2L254.7 67.3L255.3 67.3L255.9 67.3L256.5 67.3L257.1 67.3L257.7 67.3L258.4 67.4L259.0 67.4L259.6 67.4L260.2 67.4L260.8 67.4L261.4 67.5L262.0 67.5L262.6 67.5L263.2 67.6L263.8 67.7L264.4 67.8L265.0 68.0L265.0 69.0L264.4 70.1L263.8 70.9L263.2 71.4L262.6 71.8L262.0 72.0L261.4 72.2L260.8 72.4L260.2 72.5L259.6 72.7L259.0 72.8L258.4 72.9L257.7 73.0L257.1 73.0L256.5 73.1L255.9 73.2L255.3 73.3L254.7 73.4L254.1 73.4L253.5 73.5L252.9 73.6L252.3 73.6L251.7 73.7L251.1 73.8L250.5 73.8L249.9 73.9L249.3 73.9L248.7 74.0L248.1 74.1L247.5 74.1L246.9 74.2L246.3 74.2L245.7 74.3L245.1 74.4L244.4 74.4L243.8 74.5L243.2 74.5L242.6 74.6L242.0 74.6L241.4 74.7L240.8 74.7L240.2 74.8L239.6 74.8L239.0 74.9L238.4 74.9L237.8 75.0L237.2 75.0L236.6 75.0L236.0 75.1L235.4 75.1L234.8 75.2L234.2 75.2L233.6 75.2L233.0 75.3L232.4 75.3L231.8 75.4L231.2 75.4L230.5 75.4L229.9 75.5L229.3 75.5L228.7 75.5L228.1 75.6L227.5 75.6L226.9 75.6L226.3 75.7L225.7 75.7L225.1 75.8L224.5 75.8L223.9 75.8L223.3 75.9L222.7 75.9L222.1 75.9L221.5 76.0L220.9 76.0L220.3 76.1L219.7 76.1L219.1 76.1L218.5 76.2L217.9 76.2L217.2 76.3L216.6 76.3L216.0 76.4L215.4 76.4L214.8 76.5L214.2 76.5L213.6 76.6L213.0 76.7L212.4 76.7L211.8 76.8L211.2 76.9L210.6 77.0L210.0 77.1L209.4 77.1L208.8 77.2L208.2 77.3L207.6 77.4L207.0 77.5L206.4 77.6L205.8 77.7L205.2 77.8L204.6 77.9L203.9 78.0L203.3 78.2L202.7 78.4L202.1 78.5L201.5 78.7L200.9 78.9L200.3 79.1L199.7 79.3L199.1 79.6L198.5 79.9L197.9 80.2L197.3 80.5L196.7 80.9L196.1 81.3L195.5 81.8L194.9 82.4L194.3 83.0L193.7 83.6L193.1 84.3L192.5 85.0L191.9 85.7L191.3 86.5L190.7 87.4L190.0 88.5L189.4 89.6L188.8 90.8L188.2 92.0L187.6 93.3L187.0 94.5L186.4 95.8L185.8 97.1L185.2 98.5L184.6 100.1L184.0 101.8L183.4 103.7L182.8 105.6L182.2 107.6L181.6 109.6L181.0 111.6L180.4 113.5L179.8 115.3L179.2 117.1L178.6 118.9L178.0 120.7L177.4 122.5L176.7 124.2L176.1 125.8L175.5 127.3L174.9 128.7L174.3 130.0L173.7 131.2L173.1 132.4L172.5 133.4L171.9 134.4L171.3 135.4L170.7 136.3L170.1 137.1L169.5 137.8L168.9 138.3L168.3 138.7L167.7 139.1L167.1 139.4L166.5 139.6L165.9 139.6L165.3 139.6L164.7 139.5L164.1 139.4L163.5 139.2L162.8 139.1L162.2 138.8L161.6 138.4L161.0 138.0L160.4 137.5L159.8 136.9L159.2 136.3L158.6 135.6L158.0 134.9L157.4 134.1L156.8 133.3L156.2 132.4L155.6 131.7L155.0 130.9L154.4 130.2L153.8 129.6L153.2 128.9L152.6 128.2L152.0 127.6L151.4 127.0L150.8 126.3L150.2 125.7L149.5 125.1L148.9 124.5L148.3 123.9L147.7 123.4L147.1 122.8L146.5 122.2L145.9 121.7L145.3 121.2L144.7 120.8L144.1 120.4L143.5 120.0L142.9 119.6L142.3 119.2L141.7 118.8L141.1 118.4L140.5 118.0L139.9 117.6L139.3 117.2L138.7 116.8L138.1 116.4L137.5 116.0L136.9 115.6L136.3 115.2L135.6 114.9L135.0 114.5L134.4 114.2L133.8 113.9L133.2 113.6L132.6 113.3L132.0 113.0L131.4 112.8L130.8 112.5L130.2 112.3L129.6 112.1L129.0 111.8L128.4 111.6L127.8 111.4L127.2 111.3L126.6 111.1L126.0 110.9L125.4 110.8L124.8 110.7L124.2 110.6L123.6 110.5L123.0 110.4L122.3 110.3L121.7 110.2L121.1 110.1L120.5 110.0L119.9 110.0L119.3 109.9L118.7 109.8L118.1 109.8L117.5 109.7L116.9 109.7L116.3 109.6L115.7 109.5L115.1 109.5L114.5 109.5L113.9 109.4L113.3 109.4L112.7 109.3L112.1 109.3L111.5 109.3L110.9 109.2L110.3 109.2L109.7 109.2L109.1 109.1L108.4 109.1L107.8 109.1L107.2 109.0L106.6 109.0L106.0 109.0L105.4 109.0L104.8 109.0L104.2 108.9L103.6 108.9L103.0 108.9L102.4 108.9L101.8 108.9L101.2 108.9L100.6 108.8L100.0 108.8L99.4 108.8L98.8 108.8L98.2 108.8L97.6 108.8L97.0 108.8L96.4 108.8L95.8 108.8L95.1 108.7L94.5 108.7L93.9 108.7L93.3 108.7L92.7 108.7L92.1 108.7L91.5 108.7L90.9 108.7L90.3 108.7L89.7 108.7L89.1 108.7L88.5 108.7L87.9 108.7L87.3 108.7L86.7 108.7L86.1 108.7L85.5 108.7L84.9 108.7L84.3 108.7L83.7 108.7L83.1 108.7L82.5 108.7L81.8 108.7L81.2 108.7L80.6 108.7L80.0 108.7L79.4 108.7L78.8 108.7L78.2 108.7L77.6 108.7L77.0 108.7L76.4 108.7L75.8 108.7L75.2 108.7L74.6 108.7L74.0 108.7L73.4 108.7L72.8 108.7L72.2 108.7L71.6 108.8L71.0 108.8L70.4 108.8L69.8 108.8L69.2 108.9L68.6 108.9L67.9 108.9L67.3 109.0L66.7 109.0L66.1 109.0L65.5 109.1L64.9 109.1L64.3 109.2L63.7 109.2L63.1 109.2L62.5 109.3L61.9 109.3L61.3 109.4L60.7 109.4L60.1 109.5L59.5 109.5L58.9 109.5L58.3 109.6L57.7 109.7L57.1 109.7L56.5 109.8L55.9 109.8L55.3 109.9L54.6 110.0L54.0 110.0L53.4 110.1L52.8 110.2L52.2 110.3L51.6 110.3L51.0 110.4L50.4 110.5L49.8 110.6L49.2 110.7L48.6 110.7L48.0 110.8" stroke="#800080"/>
<path d="M48.0 108.2L48.6 107.8L49.2 107.4L49.8 107.1L50.4 106.8L51.0 106.6L51.6 106.3L52.2 106.1L52.8 105.9L53.4 105.8L54.0 105.6L54.6 105.5L55.3 105.3L55.9 105.2L56.5 105.1L57.1 105.0L57.7 104.9L58.3 104.8L58.9 104.7L59.5 104.7L60.1 104.6L60.7 104.5L61.3 104.4L61.9 104.4L62.5 104.3L63.1 104.2L63.7 104.1L64.3 104.1L64.9 104.0L65.5 103.9L66.1 103.9L66.7 103.8L67.3 103.7L67.9 103.7L68.6 103.6L69.2 103.6L69.8 103.5L70.4 103.5L71.0 103.4L71.6 103.3L72.2 103.3L72.8 103.2L73.4 103.2L74.0 103.1L74.6 103.1L75.2 103.0L75.8 102.9L76.4 102.9L77.0 102.8L77.6 102.8L78.2 102.7L78.8 102.6L79.4 102.6L80.0 102.5L80.6 102.5L81.2 102.4L81.8 102.3L82.5 102.3L83.1 102.2L83.7 102.2L84.3 102.1L84.9 102.1L85.5 102.0L86.1 101.9L86.7 101.9L87.3 101.8L87.9 101.8L88.5 101.7L89.1 101.7L89.7 101.6L90.3 101.6L90.9 101.5L91.5 101.5L92.1 101.4L92.7 101.4L93.3 101.3L93.9 101.3L94.5 101.2L95.1 101.2L95.8 101.1L96.4 101.1L97.0 101.0L97.6 101.0L98.2 100.9L98.8 100.9L99.4 100.8L100.0 100.8L100.6 100.7L101.2 100.7L101.8 100.6L102.4 100.6L103.0 100.5L103.6 100.5L104.2 100.4L104.8 100.4L105.4 100.3L106.0 100.3L106.6 100.2L107.2 100.2L107.8 100.1L108.4 100.1L109.1 100.0L109.7 100.0L110.3 99.9L110.9 99.9L111.5 99.8L112.1 99.8L112.7 99.7L113.3 99.7L113.9 99.6L114.5 99.6L115.1 99.5L115.7 99.5L116.3 99.4L116.9 99.4L117.5 99.3L118.1 99.3L118.7 99.2L119.3 99.2L119.9 99.1L120.5 99.1L121.1 99.0L121.7 99.0L122.3 98.9L123.0 98.8L123.6 98.8L124.2 98.7L124.8 98.7L125.4 98.6L126.0 98.6L126.6 98.5L127.2 98.5L127.8 98.4L128.4 98.3L129.0 98.3L129.6 98.2L130.2 98.2L130.8 98.1L131.4 98.1L132.0 98.0L132.6 97.9L133.2 97.9L133.8 97.8L134.4 97.8L135.0 97.7L135.6 97.6L136.3 97.6L136.9 97.5L137.5 97.4L138.1 97.3L138.7 97.2L139.3 97.1L139.9 97.1L140.5 97.0L141.1 96.9L141.7 96.7L142.3 96.6L142.9 96.5L143.5 96.3L144.1 96.2L144.7 96.0L145.3 95.9L145.9 95.7L146.5 95.5L147.1 95.3L147.7 95.1L148.3 94.9L148.9 94.6L149.5 94.3L150.2 94.0L150.8 93.7L151.4 93.4L152.0 93.0L152.6 92.6L153.2 92.1L153.8 91.6L154.4 91.1L155.0 90.4L155.6 89.6L156.2 88.7L156.8 87.8L157.4 86.8L158.0 85.8L158.6 84.8L159.2 83.8L159.8 82.7L160.4 81.5L161.0 80.4L161.6 79.1L162.2 77.8L162.8 76.5L163.5 75.1L164.1 73.7L164.7 72.2L165.3 70.6L165.9 68.9L166.5 67.1L167.1 65.2L167.7 63.1L168.3 60.8L168.9 58.6L169.5 56.4L170.1 54.1L170.7 51.9L171.3 49.6L171.9 47.3L172.5 45.1L173.1 43.0L173.7 40.8L174.3 38.7L174.9 36.8L175.5 35.4L176.1 34.2L176.7 33.1L177.4 32.3L178.0 31.6L178.6 31.1L179.2 30.5L179.8 30.1L180.4 29.8L181.0 29.7L181.6 29.7L182.2 30.0L182.8 30.3L183.4 30.7L184.0 31.2L184.6 31.8L185.2 32.6L185.8 33.6L186.4 34.7L187.0 35.7L187.6 36.7L188.2 37.7L188.8 38.7L189.4 39.7L190.0 40.7L190.7 41.7L191.3 42.6L191.9 43.5L192.5 44.3L193.1 45.0L193.7 45.8L194.3 46.5L194.9 47.2L195.5 47.8L196.1 48.5L196.7 49.1L197.3 49.7L197.9 50.3L198.5 50.9L199.1 51.5L199.7 52.1L200.3 52.6L200.9 53.1L201.5 53.6L202.1 54.1L202.7 54.6L203.3 55.0L203.9 55.4L204.6 55.7L205.2 56.1L205.8 56.4L206.4 56.7L207.0 57.0L207.6 57.3L208.2 57.6L208.8 57.9L209.4 58.1L210.0 58.4L210.6 58.6L211.2 58.8L211.8 59.0L212.4 59.2L213.0 59.4L213.6 59.6L214.2 59.8L214.8 60.0L215.4 60.2L216.0 60.4L216.6 60.5L217.2 60.7L217.9 60.9L218.5 61.1L219.1 61.2L219.7 61.4L220.3 61.5L220.9 61.7L221.5 61.9L222.1 62.0L222.7 62.2L223.3 62.3L223.9 62.5L224.5 62.6L225.1 62.7L225.7 62.9L226.3 63.0L226.9 63.1L227.5 63.3L228.1 63.4L228.7 63.5L229.3 63.6L229.9 63.8L230.5 63.9L231.2 64.0L231.8 64.1L232.4 64.2L233.0 64.3L233.6 64.4L234.2 64.6L234.8 64.7L235.4 64.8L236.0 64.9L236.6 64.9L237.2 65.0L237.8 65.1L238.4 65.2L239.0 65.3L239.6 65.4L240.2 65.4L240.8 65.5L241.4 65.6L242.0 65.6L242.6 65.7L243.2 65.8L243.8 65.8L244.4 65.9L245.1 65.9L245.7 66.0L246.3 66.1L246.9 66.1L247.5 66.2L248.1 66.2L248.7 66.3L249.3 66.3L249.9 66.4L250.5 66.4L251.1 66.5L251.7 66.5L252.3 66.6L252.9 66.6L253.5 66.6L254.1 66.7L254.7 66.7L255.3 66.7L255.9 66.8L256.5 66.8L257.1 66.8L257.7 66.8L258.4 66.8L259.0 66.8L259.6 66.9L260.2 66.9L260.8 66.9L261.4 67.0L262.0 67.0L262.6 67.1L263.2 67.1L263.8 67.2L264.4 67.4L265.0 67.6L265.0 68.3L264.4 69.5L263.8 70.3L263.2 70.9L262.6 71.3L262.0 71.5L261.4 71.7L260.8 71.9L260.2 72.1L259.6 72.2L259.0 72.3L258.4 72.4L257.7 72.5L257.1 72.6L256.5 72.7L255.9 72.8L255.3 72.9L254.7 73.0L254.1 73.0L253.5 73.1L252.9 73.2L252.3 73.3L251.7 73.3L251.1 73.4L250.5 73.5L249.9 73.5L249.3 73.6L248.7 73.7L248.1 73.7L247.5 73.8L246.9 73.8L246.3 73.9L245.7 74.0L245.1 74.0L244.4 74.1L243.8 74.2L243.2 74.2L242.6 74.3L242.0 74.3L241.4 74.4L240.8 74.4L240.2 74.5L239.6 74.5L239.0 74.6L238.4 74.6L237.8 74.7L237.2 74.7L236.6 74.8L236.0 74.8L235.4 74.9L234.8 74.9L234.2 75.0L233.6 75.0L233.0 75.0L232.4 75.1L231.8 75.1L231.2 75.2L230.5 75.2L229.9 75.2L229.3 75.3L228.7 75.3L228.1 75.4L227.5 75.4L226.9 75.4L226.3 75.5L225.7 75.5L225.1 75.6L224.5 75.6L223.9 75.6L223.3 75.7L222.7 75.7L222.1 75.8L221.5 75.8L220.9 75.9L220.3 75.9L219.7 75.9L219.1 76.0L218.5 76.0L217.9 76.1L217.2 76.1L216.6 76.2L216.0 76.2L215.4 76.3L214.8 76.3L214.2 76.4L213.6 76.5L213.0 76.6L212.4 76.6L211.8 76.7L211.2 76.8L210.6 76.9L210.0 77.0L209.4 77.1L208.8 77.2L208.2 77.3L207.6 77.3L207.0 77.4L206.4 77.5L205.8 77.7L205.2 77.8L204.6 77.9L203.9 78.1L203.3 78.2L202.7 78.4L202.1 78.6L201.5 78.8L200.9 79.0L200.3 79.2L199.7 79.4L199.1 79.7L198.5 80.0L197.9 80.3L197.3 80.6L196.7 81.0L196.1 81.5L195.5 82.1L194.9 82.7L194.3 83.3L193.7 84.0L193.1 84.7L192.5 85.4L191.9 86.2L191.3 87.0L190.7 88.0L190.0 89.1L189.4 90.3L188.8 91.6L188.2 93.0L187.6 94.3L187.0 95.6L186.4 97.0L185.8 98.4L185.2 99.9L184.6 101.6L184.0 103.4L183.4 105.4L182.8 107.5L182.2 109.7L181.6 111.9L181.0 114.0L180.4 116.0L179.8 118.0L179.2 119.9L178.6 121.9L178.0 123.8L177.4 125.7L176.7 127.5L176.1 129.2L175.5 130.8L174.9 132.3L174.3 133.7L173.7 135.0L173.1 136.3L172.5 137.4L171.9 138.4L171.3 139.4L170.7 140.4L170.1 141.3L169.5 142.0L168.9 142.6L168.3 143.0L167.7 143.4L167.1 143.7L166.5 143.9L165.9 144.0L165.3 144.0L164.7 143.9L164.1 143.7L163.5 143.6L162.8 143.4L162.2 143.1L161.6 142.7L161.0 142.2L160.4 141.6L159.8 141.0L159.2 140.3L158.6 139.6L158.0 138.7L157.4 137.8L156.8 136.9L156.2 136.0L155.6 135.2L155.0 134.4L154.4 133.6L153.8 132.9L153.2 132.1L152.6 131.4L152.0 130.7L151.4 130.0L150.8 129.3L150.2 128.6L149.5 128.0L148.9 127.3L148.3 126.7L147.7 126.0L147.1 125.4L146.5 124.8L145.9 124.2L145.3 123.7L144.7 123.2L144.1 122.8L143.5 122.3L142.9 121.9L142.3 121.5L141.7 121.0L141.1 120.6L140.5 120.1L139.9 119.7L139.3 119.2L138.7 118.8L138.1 118.4L137.5 117.9L136.9 117.5L136.3 117.1L135.6 116.7L135.0 116.3L134.4 116.0L133.8 115.6L133.2 115.3L132.6 115.0L132.0 114.7L131.4 114.4L130.8 114.1L130.2 113.8L129.6 113.6L129.0 113.4L128.4 113.1L127.8 112.9L127.2 112.7L126.6 112.5L126.0 112.4L125.4 112.2L124.8 112.1L124.2 112.0L123.6 111.8L123.0 111.7L122.3 111.6L121.7 111.5L121.1 111.4L120.5 111.4L119.9 111.3L119.3 111.2L118.7 111.1L118.1 111.0L117.5 111.0L116.9 110.9L116.3 110.8L115.7 110.7L115.1 110.7L114.5 110.6L113.9 110.6L113.3 110.5L112.7 110.5L112.1 110.4L111.5 110.4L110.9 110.3L110.3 110.3L109.7 110.2L109.1 110.2L108.4 110.2L107.8 110.1L107.2 110.1L106.6 110.0L106.0 110.0L105.4 110.0L104.8 109.9L104.2 109.9L103.6 109.9L103.0 109.9L102.4 109.8L101.8 109.8L101.2 109.8L100.6 109.8L100.0 109.7L99.4 109.7L98.8 109.7L98.2 109.7L97.6 109.7L97.0 109.6L96.4 109.6L95.8 109.6L95.1 109.6L94.5 109.6L93.9 109.6L93.3 109.6L92.7 109.5L92.1 109.5L91.5 109.5L90.9 109.5L90.3 109.5L89.7 109.5L89.1 109.5L88.5 109.5L87.9 109.5L87.3 109.4L86.7 109.4L86.1 109.4L85.5 109.4L84.9 109.4L84.3 109.4L83.7 109.4L83.1 109.4L82.5 109.4L81.8 109.4L81.2 109.4L80.6 109.4L80.0 109.4L79.4 109.3L78.8 109.3L78.2 109.3L77.6 109.3L77.0 109.3L76.4 109.3L75.8 109.3L75.2 109.3L74.6 109.3L74.0 109.3L73.4 109.3L72.8 109.3L72.2 109.4L71.6 109.4L71.0 109.4L70.4 109.4L69.8 109.4L69.2 109.5L68.6 109.5L67.9 109.5L67.3 109.6L66.7 109.6L66.1 109.6L65.5 109.7L64.9 109.7L64.3 109.7L63.7 109.8L63.1 109.8L62.5 109.8L61.9 109.9L61.3 109.9L60.7 110.0L60.1 110.0L59.5 110.1L58.9 110.1L58.3 110.1L57.7 110.2L57.1 110.3L56.5 110.3L55.9 110.4L55.3 110.4L54.6 110.5L54.0 110.6L53.4 110.6L52.8 110.7L52.2 110.8L51.6 110.9L51.0 110.9L50.4 111.0L49.8 111.1L49.2 111.2L48.6 111.3L48.0 111.3" stroke="#800000"/>
<path d="M48.0 108.5L48.6 108.1L49.2 107.7L49.8 107.4L50.4 107.1L51.0 106.8L51.6 106.6L52.2 106.3L52.8 106.2L53.4 106.0L54.0 105.8L54.6 105.7L55.3 105.5L55.9 105.4L56.5 105.3L57.1 105.2L57.7 105.1L58.3 105.0L58.9 104.9L59.5 104.9L60.1 104.8L60.7 104.7L61.3 104.6L61.9 104.6L62.5 104.5L63.1 104.4L63.7 104.3L64.3 104.3L64.9 104.2L65.5 104.1L66.1 104.1L66.7 104.0L67.3 103.9L67.9 103.9L68.6 103.8L69.2 103.8L69.8 103.7L70.4 103.6L71.0 103.6L71.6 103.5L72.2 103.5L72.8 103.4L73.4 103.4L74.0 103.3L74.6 103.2L75.2 103.2L75.8 103.1L76.4 103.1L77.0 103.0L77.6 102.9L78.2 102.9L78.8 102.8L79.4 102.7L80.0 102.7L80.6 102.6L81.2 102.6L81.8 102.5L82.5 102.4L83.1 102.4L83.7 102.3L84.3 102.3L84.9 102.2L85.5 102.2L86.1 102.1L86.7 102.0L87.3 102.0L87.9 101.9L88.5 101.9L89.1 101.8L89.7 101.8L90.3 101.7L90.9 101.7L91.5 101.6L92.1 101.6L92.7 101.5L93.3 101.5L93.9 101.4L94.5 101.4L95.1 101.3L95.8 101.3L96.4 101.2L97.0 101.2L97.6 101.1L98.2 101.1L98.8 101.0L99.4 101.0L100.0 100.9L100.6 100.8L101.2 100.8L101.8 100.7L102.4 100.7L103.0 100.6L103.6 100.6L104.2 100.5L104.8 100.5L105.4 100.4L106.0 100.4L106.6 100.3L107.2 100.3L107.8 100.2L108.4 100.2L109.1 100.1L109.7 100.1L110.3 100.0L110.9 100.0L111.5 99.9L112.1 99.9L112.7 99.8L113.3 99.8L113.9 99.7L114.5 99.7L115.1 99.6L115.7 99.6L116.3 99.5L116.9 99.5L117.5 99.4L118.1 99.4L118.7 99.3L119.3 99.2L119.9 99.2L120.5 99.1L121.1 99.1L121.7 99.0L122.3 99.0L123.0 98.9L123.6 98.8L124.2 98.8L124.8 98.7L125.4 98.7L126.0 98.6L126.6 98.5L127.2 98.5L127.8 98.4L128.4 98.4L129.0 98.3L129.6 98.3L130.2 98.2L130.8 98.1L131.4 98.1L132.0 98.0L132.6 98.0L133.2 97.9L133.8 97.8L134.4 97.8L135.0 97.7L135.6 97.6L136.3 97.5L136.9 97.5L137.5 97.4L138.1 97.3L138.7 97.2L139.3 97.1L139.9 97.0L140.5 96.9L141.1 96.8L141.7 96.7L142.3 96.5L142.9 96.4L143.5 96.3L144.1 96.1L144.7 95.9L145.3 95.7L145.9 95.5L146.5 95.3L147.1 95.1L147.7 94.9L148.3 94.7L148.9 94.4L149.5 94.1L150.2 93.8L150.8 93.4L151.4 93.1L152.0 92.6L152.6 92.2L153.2 91.7L153.8 91.2L154.4 90.6L155.0 89.9L155.6 89.0L156.2 88.1L156.8 87.1L157.4 86.0L158.0 85.0L158.6 83.9L159.2 82.8L159.8 81.6L160.4 80.4L161.0 79.1L161.6 77.8L162.2 76.4L162.8 75.0L163.5 73.5L164.1 72.0L164.7 70.4L165.3 68.7L165.9 66.9L166.5 65.0L167.1 62.9L167.7 60.7L168.3 58.4L168.9 56.0L169.5 53.6L170.1 51.2L170.7 48.8L171.3 46.3L171.9 43.9L172.5 41.6L173.1 39.3L173.7 37.0L174.3 34.7L174.9 32.7L175.5 31.2L176.1 29.9L176.7 28.8L177.4 27.9L178.0 27.2L178.6 26.6L179.2 26.1L179.8 25.6L180.4 25.3L181.0 25.2L181.6 25.3L182.2 25.6L182.8 26.0L183.4 26.5L184.0 27.0L184.6 27.6L185.2 28.5L185.8 29.6L186.4 30.8L187.0 31.9L187.6 33.0L188.2 34.1L188.8 35.2L189.4 36.4L190.0 37.4L190.7 38.5L191.3 39.5L191.9 40.4L192.5 41.3L193.1 42.2L193.7 43.0L194.3 43.7L194.9 44.5L195.5 45.2L196.1 45.9L196.7 46.6L197.3 47.3L197.9 47.9L198.5 48.6L199.1 49.2L199.7 49.8L200.3 50.4L200.9 51.0L201.5 51.5L202.1 52.0L202.7 52.5L203.3 53.0L203.9 53.4L204.6 53.8L205.2 54.2L205.8 54.5L206.4 54.9L207.0 55.2L207.6 55.5L208.2 55.8L208.8 56.1L209.4 56.4L210.0 56.6L210.6 56.9L211.2 57.1L211.8 57.4L212.4 57.6L213.0 57.8L213.6 58.0L214.2 58.2L214.8 58.4L215.4 58.6L216.0 58.8L216.6 59.0L217.2 59.2L217.9 59.4L218.5 59.6L219.1 59.8L219.7 59.9L220.3 60.1L220.9 60.3L221.5 60.5L222.1 60.6L222.7 60.8L223.3 61.0L223.9 61.1L224.5 61.3L225.1 61.4L225.7 61.6L226.3 61.7L226.9 61.9L227.5 62.0L228.1 62.1L228.7 62.3L229.3 62.4L229.9 62.6L230.5 62.7L231.2 62.8L231.8 63.0L232.4 63.1L233.0 63.2L233.6 63.3L234.2 63.4L234.8 63.6L235.4 63.7L236.0 63.8L236.6 63.9L237.2 64.0L237.8 64.1L238.4 64.2L239.0 64.3L239.6 64.3L240.2 64.4L240.8 64.5L241.4 64.6L242.0 64.7L242.6 64.7L243.2 64.8L243.8 64.9L244.4 65.0L245.1 65.0L245.7 65.1L246.3 65.2L246.9 65.2L247.5 65.3L248.1 65.4L248.7 65.4L249.3 65.5L249.9 65.5L250.5 65.6L251.1 65.6L251.7 65.7L252.3 65.7L252.9 65.8L253.5 65.8L254.1 65.9L254.7 65.9L255.3 66.0L255.9 66.0L256.5 66.0L257.1 66.0L257.7 66.1L258.4 66.1L259.0 66.1L259.6 66.2L260.2 66.2L260.8 66.2L261.4 66.3L262.0 66.3L262.6 66.4L263.2 66.5L263.8 66.6L264.4 66.8L265.0 67.0L265.0 67.6L264.4 68.9L263.8 69.7L263.2 70.3L262.6 70.7L262.0 71.0L261.4 71.2L260.8 71.4L260.2 71.6L259.6 71.7L259.0 71.8L258.4 71.9L257.7 72.1L257.1 72.2L256.5 72.3L255.9 72.4L255.3 72.5L254.7 72.5L254.1 72.6L253.5 72.7L252.9 72.8L252.3 72.9L251.7 72.9L251.1 73.0L250.5 73.1L249.9 73.1L249.3 73.2L248.7 73.3L248.1 73.4L247.5 73.4L246.9 73.5L246.3 73.6L245.7 73.6L245.1 73.7L244.4 73.8L243.8 73.8L243.2 73.9L242.6 74.0L242.0 74.0L241.4 74.1L240.8 74.1L240.2 74.2L239.6 74.2L239.0 74.3L238.4 74.4L237.8 74.4L237.2 74.5L236.6 74.5L236.0 74.6L235.4 74.6L234.8 74.7L234.2 74.7L233.6 74.8L233.0 74.8L232.4 74.8L231.8 74.9L231.2 74.9L230.5 75.0L229.9 75.0L229.3 75.0L228.7 75.1L228.1 75.1L227.5 75.2L226.9 75.2L226.3 75.3L225.7 75.3L225.1 75.4L224.5 75.4L223.9 75.5L223.3 75.5L222.7 75.5L222.1 75.6L221.5 75.6L220.9 75.7L220.3 75.7L219.7 75.8L219.1 75.8L218.5 75.9L217.9 75.9L217.2 76.0L216.6 76.0L216.0 76.1L215.4 76.2L214.8 76.2L214.2 76.3L213.6 76.4L213.0 76.5L212.4 76.5L211.8 76.6L211.2 76.7L210.6 76.8L210.0 76.9L209.4 77.0L208.8 77.1L208.2 77.2L207.6 77.3L207.0 77.4L206.4 77.5L205.8 77.6L205.2 77.8L204.6 77.9L203.9 78.1L203.3 78.2L202.7 78.4L202.1 78.6L201.5 78.8L200.9 79.0L200.3 79.3L199.7 79.5L199.1 79.8L198.5 80.1L197.9 80.4L197.3 80.8L196.7 81.2L196.1 81.7L195.5 82.3L194.9 83.0L194.3 83.7L193.7 84.4L193.1 85.1L192.5 85.9L191.9 86.7L191.3 87.6L190.7 88.6L190.0 89.8L189.4 91.1L188.8 92.5L188.2 94.0L187.6 95.4L187.0 96.8L186.4 98.2L185.8 99.8L185.2 101.4L184.6 103.2L184.0 105.2L183.4 107.3L182.8 109.6L182.2 111.9L181.6 114.2L181.0 116.5L180.4 118.7L179.8 120.8L179.2 122.9L178.6 124.9L178.0 127.0L177.4 129.0L176.7 131.0L176.1 132.8L175.5 134.6L174.9 136.2L174.3 137.6L173.7 139.0L173.1 140.3L172.5 141.5L171.9 142.7L171.3 143.7L170.7 144.8L170.1 145.7L169.5 146.5L168.9 147.1L168.3 147.6L167.7 148.0L167.1 148.3L166.5 148.5L165.9 148.6L165.3 148.6L164.7 148.5L164.1 148.3L163.5 148.1L162.8 147.9L162.2 147.6L161.6 147.1L161.0 146.6L160.4 146.0L159.8 145.3L159.2 144.6L158.6 143.7L158.0 142.8L157.4 141.8L156.8 140.8L156.2 139.8L155.6 138.9L155.0 138.0L154.4 137.1L153.8 136.3L153.2 135.5L152.6 134.7L152.0 133.9L151.4 133.2L150.8 132.4L150.2 131.7L149.5 131.0L148.9 130.2L148.3 129.5L147.7 128.8L147.1 128.2L146.5 127.5L145.9 126.9L145.3 126.3L144.7 125.8L144.1 125.3L143.5 124.8L142.9 124.4L142.3 123.9L141.7 123.4L141.1 122.9L140.5 122.4L139.9 121.9L139.3 121.4L138.7 120.9L138.1 120.5L137.5 120.0L136.9 119.5L136.3 119.1L135.6 118.6L135.0 118.2L134.4 117.8L133.8 117.5L133.2 117.1L132.6 116.7L132.0 116.4L131.4 116.1L130.8 115.8L130.2 115.5L129.6 115.2L129.0 115.0L128.4 114.7L127.8 114.5L127.2 114.3L126.6 114.0L126.0 113.9L125.4 113.7L124.8 113.5L124.2 113.4L123.6 113.3L123.0 113.2L122.3 113.1L121.7 112.9L121.1 112.8L120.5 112.7L119.9 112.6L119.3 112.5L118.7 112.4L118.1 112.3L117.5 112.3L116.9 112.2L116.3 112.1L115.7 112.0L115.1 111.9L114.5 111.9L113.9 111.8L113.3 111.7L112.7 111.7L112.1 111.6L111.5 111.5L110.9 111.5L110.3 111.4L109.7 111.4L109.1 111.3L108.4 111.3L107.8 111.2L107.2 111.2L106.6 111.1L106.0 111.1L105.4 111.0L104.8 111.0L104.2 110.9L103.6 110.9L103.0 110.9L102.4 110.8L101.8 110.8L101.2 110.8L100.6 110.7L100.0 110.7L99.4 110.7L98.8 110.6L98.2 110.6L97.6 110.6L97.0 110.6L96.4 110.5L95.8 110.5L95.1 110.5L94.5 110.5L93.9 110.5L93.3 110.4L92.7 110.4L92.1 110.4L91.5 110.4L90.9 110.4L90.3 110.3L89.7 110.3L89.1 110.3L88.5 110.3L87.9 110.3L87.3 110.3L86.7 110.2L86.1 110.2L85.5 110.2L84.9 110.2L84.3 110.2L83.7 110.2L83.1 110.2L82.5 110.1L81.8 110.1L81.2 110.1L80.6 110.1L80.0 110.1L79.4 110.1L78.8 110.1L78.2 110.0L77.6 110.0L77.0 110.0L76.4 110.0L75.8 110.0L75.2 110.0L74.6 110.0L74.0 110.0L73.4 110.0L72.8 110.0L72.2 110.0L71.6 110.0L71.0 110.0L70.4 110.1L69.8 110.1L69.2 110.1L68.6 110.1L67.9 110.1L67.3 110.2L66.7 110.2L66.1 110.2L65.5 110.3L64.9 110.3L64.3 110.3L63.7 110.4L63.1 110.4L62.5 110.4L61.9 110.5L61.3 110.5L60.7 110.6L60.1 110.6L59.5 110.6L58.9 110.7L58.3 110.7L57.7 110.8L57.1 110.8L56.5 110.9L55.9 110.9L55.3 111.0L54.6 111.1L54.0 111.1L53.4 111.2L52.8 111.3L52.2 111.3L51.6 111.4L51.0 111.5L50.4 111.6L49.8 111.6L49.2 111.7L48.6 111.8L48.0 111.9" stroke="#808000"/>
</g>
<text transform="translate(48.0,177.2) scale(1.01,1)" font-size="6.8" text-anchor="middle" font-weight="bold" stroke="#000" stroke-width="0.18">-0.2</text>
<text transform="translate(102.3,177.2) scale(1.01,1)" font-size="6.8" text-anchor="middle" font-weight="bold" stroke="#000" stroke-width="0.18">0.0</text>
<text transform="translate(156.6,177.2) scale(1.01,1)" font-size="6.8" text-anchor="middle" font-weight="bold" stroke="#000" stroke-width="0.18">0.2</text>
<text transform="translate(210.8,177.2) scale(1.01,1)" font-size="6.8" text-anchor="middle" font-weight="bold" stroke="#000" stroke-width="0.18">0.4</text>
<text transform="translate(265.1,177.2) scale(1.01,1)" font-size="6.8" text-anchor="middle" font-weight="bold" stroke="#000" stroke-width="0.18">0.6</text>
<text transform="translate(42.7,22.3) scale(1.01,1)" font-size="6.8" text-anchor="end" font-weight="bold" stroke="#000" stroke-width="0.18">1.0×10<tspan dy="-2.7" font-size="4.6">-5</tspan></text>
<text transform="translate(42.7,51.4) scale(1.01,1)" font-size="6.8" text-anchor="end" font-weight="bold" stroke="#000" stroke-width="0.18">5.0×10<tspan dy="-2.7" font-size="4.6">-6</tspan></text>
<text transform="translate(42.7,109.5) scale(1.01,1)" font-size="6.8" text-anchor="end" font-weight="bold" stroke="#000" stroke-width="0.18">-5.0×10<tspan dy="-2.7" font-size="4.6">-6</tspan></text>
<text transform="translate(42.7,138.6) scale(1.01,1)" font-size="6.8" text-anchor="end" font-weight="bold" stroke="#000" stroke-width="0.18">-1.0×10<tspan dy="-2.7" font-size="4.6">-5</tspan></text>
<text transform="translate(42.7,167.7) scale(1.01,1)" font-size="6.8" text-anchor="end" font-weight="bold" stroke="#000" stroke-width="0.18">-1.5×10<tspan dy="-2.7" font-size="4.6">-5</tspan></text>
<text transform="translate(42.7,80.5) scale(1.01,1)" font-size="6.8" text-anchor="end" font-weight="bold" stroke="#000" stroke-width="0.18">0.0</text>
<text transform="translate(156.7,190.8) scale(1.13,1)" font-size="7.6" text-anchor="middle" font-weight="bold" stroke="#000" stroke-width="0.25">E/V(vs.Ag|AgCl)</text>
<text transform="translate(12.5,81.9) rotate(-90) scale(1.10,1)" font-size="7.4" text-anchor="middle" font-weight="bold" stroke="#000" stroke-width="0.25">I/A</text>
<text x="151.7" y="206.2" font-size="13.0" text-anchor="middle" font-weight="bold" stroke="#000" stroke-width="0.3">(a)</text>
<rect x="48.6" y="6.2" width="48.2" height="85.6" fill="#fff" stroke="#9a9a9a" stroke-width="0.6"/>
<path d="M52.0 11.5H66.4" stroke="#000000" stroke-width="1.4"/>
<text x="69.2" y="13.7" font-size="6.7" style="white-space:pre">10 mV/s</text>
<path d="M52.0 19.9H66.4" stroke="#ff0000" stroke-width="1.4"/>
<text x="69.2" y="22.1" font-size="6.7" style="white-space:pre">20 mV/s</text>
<path d="M52.0 28.3H66.4" stroke="#0000ff" stroke-width="1.4"/>
<text x="69.2" y="30.6" font-size="6.7" style="white-space:pre">30 mV/s</text>
<path d="M52.0 36.8H66.4" stroke="#ff00ff" stroke-width="1.4"/>
<text x="69.2" y="39.0" font-size="6.7" style="white-space:pre">40 mV/s</text>
<path d="M52.0 45.2H66.4" stroke="#008000" stroke-width="1.4"/>
<text x="69.2" y="47.4" font-size="6.7" style="white-space:pre">50 mV/s</text>
<path d="M52.0 53.6H66.4" stroke="#000080" stroke-width="1.4"/>
<text x="69.2" y="55.8" font-size="6.7" style="white-space:pre">60 mV/s</text>
<path d="M52.0 62.0H66.4" stroke="#8000ff" stroke-width="1.4"/>
<text x="69.2" y="64.2" font-size="6.7" style="white-space:pre">70 mV/s</text>
<path d="M52.0 70.4H66.4" stroke="#800080" stroke-width="1.4"/>
<text x="69.2" y="72.7" font-size="6.7" style="white-space:pre">80 mV/s</text>
<path d="M52.0 78.9H66.4" stroke="#800000" stroke-width="1.4"/>
<text x="69.2" y="81.1" font-size="6.7" style="white-space:pre">90 mV/s</text>
<path d="M52.0 87.3H66.4" stroke="#808000" stroke-width="1.4"/>
<text x="69.2" y="89.5" font-size="6.7" style="white-space:pre">100 mV/s</text>
<g fill="none" stroke-width="1.50" stroke-linejoin="round">
<path d="M326.1 141.8L326.6 140.9L327.2 140.1L327.7 139.2L328.3 138.3L328.8 137.4L329.4 136.5L329.9 135.5L330.4 134.6L331.0 133.7L331.5 132.8L332.1 131.9L332.6 130.9L333.2 130.0L333.7 129.0L334.3 128.0L334.8 127.0L335.3 126.1L335.9 125.1L336.4 124.1L337.0 123.1L337.5 122.1L338.1 121.2L338.6 120.3L339.1 119.4L339.7 118.5L340.2 117.6L340.8 116.8L341.3 116.0L341.9 115.2L342.4 114.4L343.0 113.6L343.5 112.9L344.0 112.1L344.6 111.4L345.1 110.6L345.7 109.9L346.2 109.2L346.8 108.4L347.3 107.7L347.8 107.0L348.4 106.2L348.9 105.5L349.5 104.7L350.0 104.0L350.6 103.2L351.1 102.4L351.6 101.7L352.2 100.9L352.7 100.1L353.3 99.3L353.8 98.6L354.4 97.8L354.9 97.0L355.5 96.3L356.0 95.5L356.5 94.7L357.1 94.0L357.6 93.2L358.2 92.5L358.7 91.7L359.3 91.0L359.8 90.3L360.3 89.5L360.9 88.8L361.4 88.1L362.0 87.4L362.5 86.6L363.1 85.9L363.6 85.2L364.2 84.5L364.7 83.8L365.2 83.1L365.8 82.5L366.3 81.8L366.9 81.2L367.4 80.6L368.0 80.0L368.5 79.5L369.0 79.0L369.6 78.4L370.1 77.9L370.7 77.4L371.2 77.0L371.8 76.5L372.3 76.0L372.9 75.6L373.4 75.1L373.9 74.7L374.5 74.2L375.0 73.8L375.6 73.4L376.1 73.0L376.7 72.5L377.2 72.1L377.7 71.7L378.3 71.3L378.8 70.9L379.4 70.5L379.9 70.1L380.5 69.7L381.0 69.2L381.5 68.8L382.1 68.4L382.6 68.0L383.2 67.7L383.7 67.3L384.3 66.9L384.8 66.5L385.4 66.1L385.9 65.7L386.4 65.4L387.0 65.0L387.5 64.6L388.1 64.3L388.6 63.9L389.2 63.5L389.7 63.2L390.2 62.8L390.8 62.5L391.3 62.1L391.9 61.8L392.4 61.4L393.0 61.1L393.5 60.7L394.1 60.4L394.6 60.0L395.1 59.7L395.7 59.3L396.2 59.0L396.8 58.7L397.3 58.4L397.9 58.1L398.4 57.8L398.9 57.5L399.5 57.2L400.0 57.0L400.6 56.7L401.1 56.5L401.7 56.3L402.2 56.0L402.7 55.8L403.3 55.6L403.8 55.4L404.4 55.2L404.9 54.9L405.5 54.7L406.0 54.5L406.6 54.3L407.1 54.1L407.6 53.9L408.2 53.8L408.7 53.6L409.3 53.4L409.8 53.2L410.4 53.0L410.9 52.9L411.4 52.7L412.0 52.5L412.5 52.4L413.1 52.2L413.6 52.1L414.2 51.9L414.7 51.7L415.3 51.6L415.8 51.4L416.3 51.3L416.9 51.2L417.4 51.0L418.0 50.9L418.5 50.7L419.1 50.6L419.6 50.5L420.1 50.4L420.7 50.3L421.2 50.1L421.8 50.0L422.3 49.9L422.9 49.8L423.4 49.8L423.9 49.7L424.5 49.6L425.0 49.5L425.6 49.4L426.1 49.3L426.7 49.2L427.2 49.2L427.8 49.1L428.3 49.1L428.8 49.0L429.4 49.0L429.9 48.9L430.5 48.9L431.0 48.9L431.6 48.8L432.1 48.8L432.6 48.7L433.2 48.7L433.7 48.7L434.3 48.6L434.8 48.6L435.4 48.6L435.9 48.5L436.5 48.5L437.0 48.5L437.5 48.5L438.1 48.4L438.6 48.4L439.2 48.4L439.7 48.4L440.3 48.3L440.8 48.3L441.3 48.3L441.9 48.3L442.4 48.2L443.0 48.2L443.5 48.2L444.1 48.2L444.6 48.2L445.2 48.2L445.7 48.1L446.2 48.1L446.8 48.1L447.3 48.1L447.9 48.1L448.4 48.0L449.0 48.0L449.5 48.0L450.0 48.0L450.6 48.0L451.1 48.0L451.7 48.0L452.2 47.9L452.8 47.9L453.3 47.9L453.8 47.9L454.4 47.9L454.9 47.9L455.5 47.9L456.0 47.8L456.6 47.8L457.1 47.8L457.7 47.8L458.2 47.8L458.7 47.8L459.3 47.8L459.8 47.8L460.4 47.7L460.9 47.7L461.5 47.7L462.0 47.7L462.5 47.7L463.1 47.7L463.6 47.7L464.2 47.7L464.7 47.7L465.3 47.7L465.8 47.6L466.4 47.6L466.9 47.6L467.4 47.6L468.0 47.6L468.5 47.6L469.1 47.6L469.6 47.6L470.2 47.6L470.7 47.6L471.2 47.6L471.8 47.5L472.3 47.5L472.9 47.5L473.4 47.5L474.0 47.5L474.5 47.5L475.0 47.5L475.6 47.5L476.1 47.5L476.7 47.5L477.2 47.4L477.8 47.4L478.3 47.4L478.9 47.4L479.4 47.4L479.9 47.4L480.5 47.4L481.0 47.4L481.6 47.4L482.1 47.4L482.7 47.4L483.2 47.3L483.7 47.3L484.3 47.3L484.8 47.3L485.4 47.3L485.9 47.3L486.5 47.3L487.0 47.3L487.6 47.3L488.1 47.3L488.6 47.3L489.2 47.3L489.7 47.2L490.3 47.2L490.8 47.2L491.4 47.2L491.9 47.2L492.4 47.2L493.0 47.2L493.5 47.2L494.1 47.2L494.6 47.2L495.2 47.2L495.7 47.2L496.2 47.2L496.8 47.1L497.3 47.1L497.9 47.1L498.4 47.1L499.0 47.1L499.5 47.1L500.1 47.1L500.6 47.1L501.1 47.1L501.7 47.1L502.2 47.1L502.8 47.0L503.3 47.0L503.9 47.0L504.4 47.0L504.9 47.0L505.5 47.0L506.0 47.0L506.6 47.0L507.1 47.0L507.7 47.0L508.2 46.9L508.8 46.9L509.3 46.9L509.8 46.9L510.4 46.9L510.9 46.9L511.5 46.9L512.0 46.9L512.6 46.8L513.1 46.8L513.6 46.8L514.2 46.8L514.7 46.8L515.3 46.8L515.8 46.8L516.4 46.7L516.9 46.7L517.5 46.7L518.0 46.7L518.5 46.7L519.1 46.7L519.6 46.6L520.2 46.6L520.7 46.6L521.3 46.6L521.8 46.6L522.3 46.6L522.9 46.5L523.4 46.5L524.0 46.5L524.5 46.5L525.1 46.4L525.6 46.4L526.1 46.4L526.7 46.4L527.2 46.3L527.8 46.3L528.3 46.3L528.9 46.3L529.4 46.2L530.0 46.2L530.5 46.2L531.0 46.1L531.6 46.1L532.1 46.0L532.7 46.0L533.2 45.9L533.8 45.9L534.3 45.8L534.8 45.7L535.4 45.7L535.9 45.6L536.5 45.5L537.0 45.5L537.6 45.4L538.1 45.3L538.7 45.2L539.2 45.1L539.7 45.0L540.3 45.0L540.8 44.9L541.4 44.8L541.9 44.7L542.5 44.6L543.0 44.5L543.0 44.8L542.5 46.1L541.9 47.2L541.4 47.6L540.8 47.9L540.3 48.2L539.7 48.4L539.2 48.6L538.7 48.8L538.1 49.0L537.6 49.1L537.0 49.2L536.5 49.3L535.9 49.4L535.4 49.5L534.8 49.5L534.3 49.6L533.8 49.6L533.2 49.7L532.7 49.7L532.1 49.8L531.6 49.8L531.0 49.8L530.5 49.9L530.0 49.9L529.4 50.0L528.9 50.0L528.3 50.0L527.8 50.0L527.2 50.1L526.7 50.1L526.1 50.1L525.6 50.1L525.1 50.2L524.5 50.2L524.0 50.2L523.4 50.2L522.9 50.3L522.3 50.3L521.8 50.3L521.3 50.3L520.7 50.4L520.2 50.4L519.6 50.4L519.1 50.5L518.5 50.5L518.0 50.5L517.5 50.5L516.9 50.6L516.4 50.6L515.8 50.6L515.3 50.7L514.7 50.7L514.2 50.7L513.6 50.7L513.1 50.8L512.6 50.8L512.0 50.8L511.5 50.8L510.9 50.9L510.4 50.9L509.8 50.9L509.3 51.0L508.8 51.0L508.2 51.0L507.7 51.0L507.1 51.1L506.6 51.1L506.0 51.1L505.5 51.1L504.9 51.2L504.4 51.2L503.9 51.2L503.3 51.2L502.8 51.3L502.2 51.3L501.7 51.3L501.1 51.3L500.6 51.4L500.1 51.4L499.5 51.4L499.0 51.4L498.4 51.5L497.9 51.5L497.3 51.5L496.8 51.6L496.2 51.6L495.7 51.6L495.2 51.6L494.6 51.7L494.1 51.7L493.5 51.7L493.0 51.7L492.4 51.8L491.9 51.8L491.4 51.8L490.8 51.8L490.3 51.9L489.7 51.9L489.2 51.9L488.6 51.9L488.1 52.0L487.6 52.0L487.0 52.0L486.5 52.0L485.9 52.1L485.4 52.1L484.8 52.1L484.3 52.1L483.7 52.2L483.2 52.2L482.7 52.2L482.1 52.2L481.6 52.2L481.0 52.3L480.5 52.3L479.9 52.3L479.4 52.3L478.9 52.3L478.3 52.4L477.8 52.4L477.2 52.4L476.7 52.4L476.1 52.4L475.6 52.5L475.0 52.5L474.5 52.5L474.0 52.5L473.4 52.5L472.9 52.6L472.3 52.6L471.8 52.6L471.2 52.6L470.7 52.6L470.2 52.6L469.6 52.7L469.1 52.7L468.5 52.7L468.0 52.7L467.4 52.7L466.9 52.8L466.4 52.8L465.8 52.8L465.3 52.8L464.7 52.8L464.2 52.8L463.6 52.9L463.1 52.9L462.5 52.9L462.0 52.9L461.5 52.9L460.9 52.9L460.4 52.9L459.8 53.0L459.3 53.0L458.7 53.0L458.2 53.0L457.7 53.0L457.1 53.0L456.6 53.0L456.0 53.1L455.5 53.1L454.9 53.1L454.4 53.1L453.8 53.1L453.3 53.1L452.8 53.1L452.2 53.2L451.7 53.2L451.1 53.2L450.6 53.2L450.0 53.2L449.5 53.2L449.0 53.2L448.4 53.2L447.9 53.2L447.3 53.2L446.8 53.3L446.2 53.3L445.7 53.3L445.2 53.3L444.6 53.3L444.1 53.3L443.5 53.3L443.0 53.3L442.4 53.3L441.9 53.3L441.3 53.3L440.8 53.3L440.3 53.3L439.7 53.3L439.2 53.3L438.6 53.3L438.1 53.3L437.5 53.4L437.0 53.4L436.5 53.4L435.9 53.4L435.4 53.4L434.8 53.4L434.3 53.4L433.7 53.4L433.2 53.4L432.6 53.5L432.1 53.5L431.6 53.5L431.0 53.5L430.5 53.5L429.9 53.6L429.4 53.6L428.8 53.7L428.3 53.8L427.8 53.9L427.2 54.0L426.7 54.1L426.1 54.2L425.6 54.3L425.0 54.4L424.5 54.5L423.9 54.6L423.4 54.8L422.9 54.9L422.3 55.1L421.8 55.3L421.2 55.4L420.7 55.6L420.1 55.8L419.6 56.0L419.1 56.3L418.5 56.5L418.0 56.7L417.4 56.9L416.9 57.2L416.3 57.4L415.8 57.7L415.3 58.0L414.7 58.2L414.2 58.5L413.6 58.8L413.1 59.1L412.5 59.4L412.0 59.7L411.4 60.0L410.9 60.3L410.4 60.6L409.8 60.9L409.3 61.2L408.7 61.5L408.2 61.9L407.6 62.2L407.1 62.5L406.6 62.9L406.0 63.3L405.5 63.6L404.9 64.0L404.4 64.4L403.8 64.7L403.3 65.1L402.7 65.5L402.2 65.9L401.7 66.4L401.1 66.8L400.6 67.3L400.0 67.7L399.5 68.2L398.9 68.8L398.4 69.3L397.9 69.9L397.3 70.6L396.8 71.2L396.2 71.9L395.7 72.7L395.1 73.4L394.6 74.2L394.1 75.0L393.5 75.8L393.0 76.6L392.4 77.4L391.9 78.3L391.3 79.2L390.8 80.2L390.2 81.1L389.7 82.1L389.2 83.1L388.6 84.1L388.1 85.1L387.5 86.0L387.0 86.9L386.4 87.7L385.9 88.5L385.4 89.3L384.8 90.0L384.3 90.7L383.7 91.4L383.2 92.1L382.6 92.7L382.1 93.4L381.5 94.1L381.0 94.7L380.5 95.4L379.9 96.1L379.4 96.8L378.8 97.5L378.3 98.2L377.7 98.9L377.2 99.6L376.7 100.4L376.1 101.1L375.6 101.8L375.0 102.5L374.5 103.2L373.9 103.9L373.4 104.6L372.9 105.3L372.3 106.0L371.8 106.7L371.2 107.4L370.7 108.1L370.1 108.8L369.6 109.5L369.0 110.2L368.5 110.9L368.0 111.6L367.4 112.3L366.9 113.0L366.3 113.7L365.8 114.4L365.2 115.1L364.7 115.8L364.2 116.4L363.6 117.1L363.1 117.8L362.5 118.5L362.0 119.1L361.4 119.8L360.9 120.4L360.3 121.1L359.8 121.7L359.3 122.4L358.7 123.0L358.2 123.6L357.6 124.3L357.1 124.9L356.5 125.5L356.0 126.1L355.5 126.8L354.9 127.4L354.4 128.0L353.8 128.6L353.3 129.2L352.7 129.7L352.2 130.3L351.6 130.9L351.1 131.4L350.6 132.0L350.0 132.5L349.5 133.0L348.9 133.5L348.4 134.0L347.8 134.5L347.3 135.0L346.8 135.5L346.2 136.0L345.7 136.5L345.1 136.9L344.6 137.4L344.0 137.8L343.5 138.3L343.0 138.7L342.4 139.2L341.9 139.6L341.3 140.0L340.8 140.4L340.2 140.8L339.7 141.2L339.1 141.6L338.6 142.0L338.1 142.4L337.5 142.8L337.0 143.2L336.4 143.6L335.9 143.9L335.3 144.3L334.8 144.7L334.3 145.1L333.7 145.4L333.2 145.8L332.6 146.1L332.1 146.5L331.5 146.8L331.0 147.1L330.4 147.5L329.9 147.8L329.4 148.1L328.8 148.4L328.3 148.8L327.7 149.1L327.2 149.4L326.6 149.7L326.1 149.9" stroke="#000000"/>
<path d="M326.1 136.2L326.6 134.9L327.2 133.5L327.7 132.2L328.3 130.9L328.8 129.6L329.4 128.4L329.9 127.1L330.4 125.9L331.0 124.8L331.5 123.6L332.1 122.5L332.6 121.4L333.2 120.2L333.7 119.1L334.3 117.9L334.8 116.7L335.3 115.5L335.9 114.4L336.4 113.2L337.0 112.0L337.5 110.9L338.1 109.8L338.6 108.7L339.1 107.6L339.7 106.6L340.2 105.7L340.8 104.9L341.3 104.2L341.9 103.4L342.4 102.7L343.0 102.0L343.5 101.4L344.0 100.7L344.6 100.0L345.1 99.4L345.7 98.7L346.2 98.1L346.8 97.4L347.3 96.8L347.8 96.2L348.4 95.5L348.9 94.9L349.5 94.2L350.0 93.6L350.6 93.0L351.1 92.3L351.6 91.7L352.2 91.0L352.7 90.4L353.3 89.7L353.8 89.1L354.4 88.4L354.9 87.8L355.5 87.2L356.0 86.5L356.5 85.9L357.1 85.3L357.6 84.7L358.2 84.0L358.7 83.4L359.3 82.8L359.8 82.2L360.3 81.7L360.9 81.1L361.4 80.5L362.0 79.9L362.5 79.3L363.1 78.7L363.6 78.2L364.2 77.6L364.7 77.0L365.2 76.5L365.8 76.0L366.3 75.4L366.9 74.9L367.4 74.5L368.0 74.0L368.5 73.6L369.0 73.1L369.6 72.7L370.1 72.3L370.7 71.9L371.2 71.5L371.8 71.1L372.3 70.8L372.9 70.4L373.4 70.0L373.9 69.7L374.5 69.3L375.0 69.0L375.6 68.7L376.1 68.3L376.7 68.0L377.2 67.7L377.7 67.3L378.3 67.0L378.8 66.7L379.4 66.3L379.9 66.0L380.5 65.7L381.0 65.3L381.5 65.0L382.1 64.7L382.6 64.4L383.2 64.1L383.7 63.7L384.3 63.4L384.8 63.1L385.4 62.8L385.9 62.5L386.4 62.2L387.0 61.9L387.5 61.6L388.1 61.3L388.6 61.0L389.2 60.7L389.7 60.4L390.2 60.1L390.8 59.8L391.3 59.5L391.9 59.2L392.4 58.9L393.0 58.6L393.5 58.3L394.1 58.0L394.6 57.7L395.1 57.4L395.7 57.1L396.2 56.9L396.8 56.6L397.3 56.3L397.9 56.1L398.4 55.9L398.9 55.6L399.5 55.4L400.0 55.2L400.6 55.0L401.1 54.9L401.7 54.7L402.2 54.5L402.7 54.4L403.3 54.2L403.8 54.1L404.4 53.9L404.9 53.8L405.5 53.6L406.0 53.5L406.6 53.3L407.1 53.2L407.6 53.1L408.2 52.9L408.7 52.8L409.3 52.7L409.8 52.5L410.4 52.4L410.9 52.3L411.4 52.1L412.0 52.0L412.5 51.8L413.1 51.7L413.6 51.5L414.2 51.4L414.7 51.2L415.3 51.1L415.8 50.9L416.3 50.7L416.9 50.5L417.4 50.4L418.0 50.2L418.5 50.0L419.1 49.9L419.6 49.7L420.1 49.6L420.7 49.4L421.2 49.3L421.8 49.2L422.3 49.1L422.9 48.9L423.4 48.8L423.9 48.7L424.5 48.6L425.0 48.5L425.6 48.4L426.1 48.3L426.7 48.3L427.2 48.2L427.8 48.1L428.3 48.1L428.8 48.0L429.4 48.0L429.9 48.0L430.5 47.9L431.0 47.9L431.6 47.9L432.1 47.9L432.6 47.8L433.2 47.8L433.7 47.8L434.3 47.8L434.8 47.8L435.4 47.7L435.9 47.7L436.5 47.7L437.0 47.7L437.5 47.7L438.1 47.7L438.6 47.7L439.2 47.6L439.7 47.6L440.3 47.6L440.8 47.6L441.3 47.6L441.9 47.6L442.4 47.6L443.0 47.5L443.5 47.5L444.1 47.5L444.6 47.5L445.2 47.5L445.7 47.5L446.2 47.5L446.8 47.5L447.3 47.4L447.9 47.4L448.4 47.4L449.0 47.4L449.5 47.4L450.0 47.4L450.6 47.4L451.1 47.4L451.7 47.4L452.2 47.3L452.8 47.3L453.3 47.3L453.8 47.3L454.4 47.3L454.9 47.3L455.5 47.3L456.0 47.3L456.6 47.3L457.1 47.2L457.7 47.2L458.2 47.2L458.7 47.2L459.3 47.2L459.8 47.2L460.4 47.2L460.9 47.2L461.5 47.2L462.0 47.2L462.5 47.2L463.1 47.1L463.6 47.1L464.2 47.1L464.7 47.1L465.3 47.1L465.8 47.1L466.4 47.1L466.9 47.1L467.4 47.1L468.0 47.1L468.5 47.1L469.1 47.0L469.6 47.0L470.2 47.0L470.7 47.0L471.2 47.0L471.8 47.0L472.3 47.0L472.9 47.0L473.4 47.0L474.0 47.0L474.5 47.0L475.0 46.9L475.6 46.9L476.1 46.9L476.7 46.9L477.2 46.9L477.8 46.9L478.3 46.9L478.9 46.9L479.4 46.9L479.9 46.9L480.5 46.9L481.0 46.8L481.6 46.8L482.1 46.8L482.7 46.8L483.2 46.8L483.7 46.8L484.3 46.8L484.8 46.8L485.4 46.8L485.9 46.8L486.5 46.8L487.0 46.8L487.6 46.7L488.1 46.7L488.6 46.7L489.2 46.7L489.7 46.7L490.3 46.7L490.8 46.7L491.4 46.7L491.9 46.7L492.4 46.7L493.0 46.7L493.5 46.7L494.1 46.7L494.6 46.6L495.2 46.6L495.7 46.6L496.2 46.6L496.8 46.6L497.3 46.6L497.9 46.6L498.4 46.6L499.0 46.6L499.5 46.6L500.1 46.6L500.6 46.5L501.1 46.5L501.7 46.5L502.2 46.5L502.8 46.5L503.3 46.5L503.9 46.5L504.4 46.5L504.9 46.5L505.5 46.5L506.0 46.4L506.6 46.4L507.1 46.4L507.7 46.4L508.2 46.4L508.8 46.4L509.3 46.4L509.8 46.4L510.4 46.3L510.9 46.3L511.5 46.3L512.0 46.3L512.6 46.3L513.1 46.3L513.6 46.3L514.2 46.2L514.7 46.2L515.3 46.2L515.8 46.2L516.4 46.2L516.9 46.2L517.5 46.2L518.0 46.1L518.5 46.1L519.1 46.1L519.6 46.1L520.2 46.1L520.7 46.0L521.3 46.0L521.8 46.0L522.3 46.0L522.9 46.0L523.4 45.9L524.0 45.9L524.5 45.9L525.1 45.9L525.6 45.8L526.1 45.8L526.7 45.8L527.2 45.8L527.8 45.7L528.3 45.7L528.9 45.7L529.4 45.6L530.0 45.6L530.5 45.6L531.0 45.5L531.6 45.5L532.1 45.5L532.7 45.4L533.2 45.3L533.8 45.3L534.3 45.2L534.8 45.2L535.4 45.1L535.9 45.0L536.5 44.9L537.0 44.9L537.6 44.8L538.1 44.7L538.7 44.6L539.2 44.5L539.7 44.4L540.3 44.4L540.8 44.3L541.4 44.2L541.9 44.1L542.5 44.0L543.0 43.9L543.0 44.8L542.5 46.1L541.9 47.2L541.4 47.6L540.8 47.9L540.3 48.2L539.7 48.4L539.2 48.6L538.7 48.8L538.1 49.0L537.6 49.1L537.0 49.2L536.5 49.3L535.9 49.4L535.4 49.5L534.8 49.5L534.3 49.6L533.8 49.6L533.2 49.7L532.7 49.7L532.1 49.8L531.6 49.8L531.0 49.8L530.5 49.9L530.0 49.9L529.4 50.0L528.9 50.0L528.3 50.0L527.8 50.0L527.2 50.1L526.7 50.1L526.1 50.1L525.6 50.1L525.1 50.2L524.5 50.2L524.0 50.2L523.4 50.2L522.9 50.3L522.3 50.3L521.8 50.3L521.3 50.3L520.7 50.4L520.2 50.4L519.6 50.4L519.1 50.5L518.5 50.5L518.0 50.5L517.5 50.5L516.9 50.6L516.4 50.6L515.8 50.6L515.3 50.7L514.7 50.7L514.2 50.7L513.6 50.7L513.1 50.8L512.6 50.8L512.0 50.8L511.5 50.8L510.9 50.9L510.4 50.9L509.8 50.9L509.3 51.0L508.8 51.0L508.2 51.0L507.7 51.0L507.1 51.1L506.6 51.1L506.0 51.1L505.5 51.1L504.9 51.2L504.4 51.2L503.9 51.2L503.3 51.2L502.8 51.3L502.2 51.3L501.7 51.3L501.1 51.3L500.6 51.4L500.1 51.4L499.5 51.4L499.0 51.4L498.4 51.5L497.9 51.5L497.3 51.5L496.8 51.6L496.2 51.6L495.7 51.6L495.2 51.6L494.6 51.7L494.1 51.7L493.5 51.7L493.0 51.7L492.4 51.8L491.9 51.8L491.4 51.8L490.8 51.8L490.3 51.9L489.7 51.9L489.2 51.9L488.6 51.9L488.1 52.0L487.6 52.0L487.0 52.0L486.5 52.0L485.9 52.1L485.4 52.1L484.8 52.1L484.3 52.1L483.7 52.2L483.2 52.2L482.7 52.2L482.1 52.2L481.6 52.2L481.0 52.3L480.5 52.3L479.9 52.3L479.4 52.3L478.9 52.3L478.3 52.4L477.8 52.4L477.2 52.4L476.7 52.4L476.1 52.4L475.6 52.5L475.0 52.5L474.5 52.5L474.0 52.5L473.4 52.5L472.9 52.6L472.3 52.6L471.8 52.6L471.2 52.6L470.7 52.6L470.2 52.6L469.6 52.7L469.1 52.7L468.5 52.7L468.0 52.7L467.4 52.7L466.9 52.8L466.4 52.8L465.8 52.8L465.3 52.8L464.7 52.8L464.2 52.8L463.6 52.9L463.1 52.9L462.5 52.9L462.0 52.9L461.5 52.9L460.9 52.9L460.4 52.9L459.8 53.0L459.3 53.0L458.7 53.0L458.2 53.0L457.7 53.0L457.1 53.0L456.6 53.0L456.0 53.1L455.5 53.1L454.9 53.1L454.4 53.1L453.8 53.1L453.3 53.1L452.8 53.1L452.2 53.2L451.7 53.2L451.1 53.2L450.6 53.2L450.0 53.2L449.5 53.2L449.0 53.2L448.4 53.2L447.9 53.2L447.3 53.2L446.8 53.3L446.2 53.3L445.7 53.3L445.2 53.3L444.6 53.3L444.1 53.3L443.5 53.3L443.0 53.3L442.4 53.3L441.9 53.3L441.3 53.3L440.8 53.3L440.3 53.3L439.7 53.3L439.2 53.3L438.6 53.3L438.1 53.3L437.5 53.4L437.0 53.4L436.5 53.4L435.9 53.4L435.4 53.4L434.8 53.4L434.3 53.4L433.7 53.4L433.2 53.4L432.6 53.5L432.1 53.5L431.6 53.5L431.0 53.5L430.5 53.5L429.9 53.6L429.4 53.6L428.8 53.7L428.3 53.8L427.8 53.9L427.2 54.0L426.7 54.1L426.1 54.2L425.6 54.3L425.0 54.4L424.5 54.5L423.9 54.6L423.4 54.8L422.9 54.9L422.3 55.1L421.8 55.3L421.2 55.4L420.7 55.6L420.1 55.8L419.6 56.0L419.1 56.3L418.5 56.5L418.0 56.7L417.4 56.9L416.9 57.2L416.3 57.4L415.8 57.7L415.3 58.0L414.7 58.2L414.2 58.5L413.6 58.8L413.1 59.1L412.5 59.5L412.0 59.8L411.4 60.1L410.9 60.4L410.4 60.7L409.8 61.1L409.3 61.4L408.7 61.7L408.2 62.0L407.6 62.3L407.1 62.7L406.6 63.0L406.0 63.3L405.5 63.6L404.9 64.0L404.4 64.3L403.8 64.7L403.3 65.0L402.7 65.4L402.2 65.7L401.7 66.1L401.1 66.4L400.6 66.8L400.0 67.2L399.5 67.6L398.9 68.0L398.4 68.4L397.9 68.9L397.3 69.4L396.8 69.9L396.2 70.4L395.7 71.0L395.1 71.6L394.6 72.2L394.1 72.8L393.5 73.4L393.0 74.1L392.4 74.7L391.9 75.4L391.3 76.1L390.8 76.8L390.2 77.6L389.7 78.3L389.2 79.1L388.6 79.8L388.1 80.6L387.5 81.3L387.0 82.0L386.4 82.6L385.9 83.2L385.4 83.8L384.8 84.4L384.3 85.0L383.7 85.5L383.2 86.1L382.6 86.6L382.1 87.1L381.5 87.7L381.0 88.2L380.5 88.8L379.9 89.4L379.4 90.0L378.8 90.5L378.3 91.1L377.7 91.7L377.2 92.3L376.7 92.9L376.1 93.6L375.6 94.2L375.0 94.8L374.5 95.4L373.9 96.0L373.4 96.6L372.9 97.3L372.3 97.9L371.8 98.5L371.2 99.1L370.7 99.7L370.1 100.3L369.6 100.9L369.0 101.5L368.5 102.1L368.0 102.7L367.4 103.3L366.9 103.9L366.3 104.5L365.8 105.1L365.2 105.7L364.7 106.3L364.2 106.9L363.6 107.5L363.1 108.1L362.5 108.6L362.0 109.2L361.4 109.8L360.9 110.4L360.3 110.9L359.8 111.5L359.3 112.1L358.7 112.6L358.2 113.2L357.6 113.8L357.1 114.3L356.5 114.9L356.0 115.4L355.5 116.0L354.9 116.5L354.4 117.1L353.8 117.6L353.3 118.2L352.7 118.7L352.2 119.2L351.6 119.7L351.1 120.2L350.6 120.7L350.0 121.2L349.5 121.7L348.9 122.2L348.4 122.7L347.8 123.1L347.3 123.6L346.8 124.1L346.2 124.5L345.7 125.0L345.1 125.4L344.6 125.9L344.0 126.3L343.5 126.8L343.0 127.2L342.4 127.6L341.9 128.0L341.3 128.5L340.8 128.9L340.2 129.3L339.7 129.7L339.1 130.1L338.6 130.5L338.1 130.9L337.5 131.3L337.0 131.7L336.4 132.0L335.9 132.4L335.3 132.8L334.8 133.2L334.3 133.6L333.7 134.0L333.2 134.3L332.6 134.7L332.1 135.1L331.5 135.4L331.0 135.8L330.4 136.1L329.9 136.5L329.4 136.8L328.8 137.2L328.3 137.5L327.7 137.9L327.2 138.2L326.6 138.5L326.1 138.8" stroke="#ff0000"/>
<path d="M326.1 126.1L326.6 124.4L327.2 122.8L327.7 121.2L328.3 119.7L328.8 118.2L329.4 116.9L329.9 115.7L330.4 114.6L331.0 113.5L331.5 112.5L332.1 111.5L332.6 110.6L333.2 109.6L333.7 108.6L334.3 107.7L334.8 106.7L335.3 105.7L335.9 104.7L336.4 103.7L337.0 102.8L337.5 101.8L338.1 100.9L338.6 100.0L339.1 99.1L339.7 98.3L340.2 97.5L340.8 96.6L341.3 95.8L341.9 95.0L342.4 94.2L343.0 93.4L343.5 92.6L344.0 91.8L344.6 91.1L345.1 90.3L345.7 89.6L346.2 88.9L346.8 88.2L347.3 87.5L347.8 86.8L348.4 86.1L348.9 85.4L349.5 84.7L350.0 84.0L350.6 83.4L351.1 82.7L351.6 82.0L352.2 81.3L352.7 80.7L353.3 80.0L353.8 79.4L354.4 78.7L354.9 78.1L355.5 77.5L356.0 76.8L356.5 76.2L357.1 75.6L357.6 75.0L358.2 74.4L358.7 73.8L359.3 73.3L359.8 72.7L360.3 72.1L360.9 71.6L361.4 71.1L362.0 70.7L362.5 70.2L363.1 69.8L363.6 69.3L364.2 68.9L364.7 68.5L365.2 68.1L365.8 67.7L366.3 67.3L366.9 66.9L367.4 66.5L368.0 66.2L368.5 65.9L369.0 65.5L369.6 65.2L370.1 64.9L370.7 64.6L371.2 64.3L371.8 64.0L372.3 63.7L372.9 63.5L373.4 63.2L373.9 62.9L374.5 62.7L375.0 62.4L375.6 62.2L376.1 61.9L376.7 61.7L377.2 61.4L377.7 61.2L378.3 60.9L378.8 60.7L379.4 60.4L379.9 60.2L380.5 59.9L381.0 59.7L381.5 59.5L382.1 59.2L382.6 59.0L383.2 58.7L383.7 58.5L384.3 58.3L384.8 58.1L385.4 57.8L385.9 57.6L386.4 57.4L387.0 57.1L387.5 56.9L388.1 56.7L388.6 56.5L389.2 56.2L389.7 56.0L390.2 55.8L390.8 55.6L391.3 55.3L391.9 55.1L392.4 54.9L393.0 54.6L393.5 54.4L394.1 54.2L394.6 54.0L395.1 53.7L395.7 53.5L396.2 53.3L396.8 53.1L397.3 52.9L397.9 52.8L398.4 52.7L398.9 52.6L399.5 52.5L400.0 52.4L400.6 52.4L401.1 52.3L401.7 52.3L402.2 52.2L402.7 52.2L403.3 52.2L403.8 52.2L404.4 52.1L404.9 52.1L405.5 52.1L406.0 52.1L406.6 52.1L407.1 52.1L407.6 52.0L408.2 52.0L408.7 52.0L409.3 52.0L409.8 51.9L410.4 51.9L410.9 51.9L411.4 51.8L412.0 51.7L412.5 51.7L413.1 51.6L413.6 51.5L414.2 51.4L414.7 51.2L415.3 51.1L415.8 50.9L416.3 50.7L416.9 50.5L417.4 50.4L418.0 50.2L418.5 50.0L419.1 49.9L419.6 49.7L420.1 49.6L420.7 49.4L421.2 49.3L421.8 49.2L422.3 49.1L422.9 48.9L423.4 48.8L423.9 48.7L424.5 48.6L425.0 48.5L425.6 48.4L426.1 48.3L426.7 48.3L427.2 48.2L427.8 48.1L428.3 48.1L428.8 48.0L429.4 48.0L429.9 48.0" stroke="#ff0000"/>
<path d="M326.1 126.9L326.6 125.0L327.2 123.1L327.7 121.3L328.3 119.6L328.8 117.9L329.4 116.3L329.9 114.8L330.4 113.4L331.0 112.1L331.5 110.8L332.1 109.5L332.6 108.3L333.2 107.1L333.7 105.9L334.3 104.6L334.8 103.4L335.3 102.1L335.9 100.9L336.4 99.6L337.0 98.4L337.5 97.2L338.1 96.0L338.6 94.9L339.1 93.7L339.7 92.7L340.2 91.7L340.8 90.9L341.3 90.0L341.9 89.2L342.4 88.4L343.0 87.6L343.5 86.9L344.0 86.1L344.6 85.4L345.1 84.7L345.7 83.9L346.2 83.2L346.8 82.5L347.3 81.9L347.8 81.2L348.4 80.5L348.9 79.8L349.5 79.2L350.0 78.5L350.6 77.9L351.1 77.3L351.6 76.6L352.2 76.0L352.7 75.4L353.3 74.8L353.8 74.2L354.4 73.6L354.9 73.0L355.5 72.4L356.0 71.8L356.5 71.2L357.1 70.7L357.6 70.1L358.2 69.6L358.7 69.0L359.3 68.5L359.8 68.0L360.3 67.5L360.9 67.0L361.4 66.6L362.0 66.2L362.5 65.9L363.1 65.5L363.6 65.1L364.2 64.8L364.7 64.4L365.2 64.1L365.8 63.8L366.3 63.4L366.9 63.1L367.4 62.8L368.0 62.5L368.5 62.3L369.0 62.0L369.6 61.7L370.1 61.5L370.7 61.2L371.2 61.0L371.8 60.8L372.3 60.5L372.9 60.3L373.4 60.1L373.9 59.9L374.5 59.7L375.0 59.5L375.6 59.3L376.1 59.1L376.7 58.9L377.2 58.7L377.7 58.5L378.3 58.2L378.8 58.0L379.4 57.8L379.9 57.6L380.5 57.4L381.0 57.2L381.5 57.0L382.1 56.9L382.6 56.7L383.2 56.5L383.7 56.3L384.3 56.1L384.8 55.9L385.4 55.7L385.9 55.5L386.4 55.3L387.0 55.1L387.5 55.0L388.1 54.8L388.6 54.6L389.2 54.4L389.7 54.2L390.2 54.0L390.8 53.8L391.3 53.6L391.9 53.4L392.4 53.2L393.0 53.0L393.5 52.8L394.1 52.6L394.6 52.4L395.1 52.2L395.7 52.0L396.2 51.8L396.8 51.7L397.3 51.6L397.9 51.5L398.4 51.4L398.9 51.3L399.5 51.3L400.0 51.2L400.6 51.2L401.1 51.2L401.7 51.2L402.2 51.2L402.7 51.2L403.3 51.2L403.8 51.2L404.4 51.2L404.9 51.3L405.5 51.3L406.0 51.3L406.6 51.3L407.1 51.3L407.6 51.4L408.2 51.4L408.7 51.4L409.3 51.4L409.8 51.4L410.4 51.4L410.9 51.3L411.4 51.3L412.0 51.2L412.5 51.2L413.1 51.1L413.6 51.0L414.2 50.9L414.7 50.7L415.3 50.5L415.8 50.3L416.3 50.1L416.9 49.9L417.4 49.7L418.0 49.5L418.5 49.4L419.1 49.2L419.6 49.0L420.1 48.8L420.7 48.6L421.2 48.5L421.8 48.3L422.3 48.2L422.9 48.0L423.4 47.9L423.9 47.8L424.5 47.7L425.0 47.6L425.6 47.5L426.1 47.4L426.7 47.3L427.2 47.2L427.8 47.2L428.3 47.1L428.8 47.1L429.4 47.0L429.9 47.0L430.5 47.0L431.0 47.0L431.6 47.0L432.1 46.9L432.6 46.9L433.2 46.9L433.7 46.9L434.3 46.9L434.8 46.9L435.4 46.9L435.9 46.9L436.5 46.9L437.0 46.9L437.5 46.9L438.1 46.9L438.6 46.9L439.2 46.9L439.7 46.9L440.3 46.9L440.8 46.9L441.3 46.9L441.9 46.9L442.4 46.9L443.0 46.9L443.5 46.9L444.1 46.8L444.6 46.8L445.2 46.8L445.7 46.8L446.2 46.8L446.8 46.8L447.3 46.8L447.9 46.8L448.4 46.8L449.0 46.8L449.5 46.8L450.0 46.8L450.6 46.8L451.1 46.8L451.7 46.8L452.2 46.7L452.8 46.7L453.3 46.7L453.8 46.7L454.4 46.7L454.9 46.7L455.5 46.7L456.0 46.7L456.6 46.7L457.1 46.7L457.7 46.7L458.2 46.7L458.7 46.7L459.3 46.6L459.8 46.6L460.4 46.6L460.9 46.6L461.5 46.6L462.0 46.6L462.5 46.6L463.1 46.6L463.6 46.6L464.2 46.6L464.7 46.6L465.3 46.6L465.8 46.5L466.4 46.5L466.9 46.5L467.4 46.5L468.0 46.5L468.5 46.5L469.1 46.5L469.6 46.5L470.2 46.5L470.7 46.5L471.2 46.5L471.8 46.5L472.3 46.4L472.9 46.4L473.4 46.4L474.0 46.4L474.5 46.4L475.0 46.4L475.6 46.4L476.1 46.4L476.7 46.4L477.2 46.4L477.8 46.4L478.3 46.4L478.9 46.3L479.4 46.3L479.9 46.3L480.5 46.3L481.0 46.3L481.6 46.3L482.1 46.3L482.7 46.3L483.2 46.3L483.7 46.3L484.3 46.3L484.8 46.3L485.4 46.2L485.9 46.2L486.5 46.2L487.0 46.2L487.6 46.2L488.1 46.2L488.6 46.2L489.2 46.2L489.7 46.2L490.3 46.2L490.8 46.2L491.4 46.2L491.9 46.2L492.4 46.1L493.0 46.1L493.5 46.1L494.1 46.1L494.6 46.1L495.2 46.1L495.7 46.1L496.2 46.1L496.8 46.1L497.3 46.1L497.9 46.1L498.4 46.0L499.0 46.0L499.5 46.0L500.1 46.0L500.6 46.0L501.1 46.0L501.7 46.0L502.2 46.0L502.8 46.0L503.3 46.0L503.9 45.9L504.4 45.9L504.9 45.9L505.5 45.9L506.0 45.9L506.6 45.9L507.1 45.9L507.7 45.9L508.2 45.9L508.8 45.8L509.3 45.8L509.8 45.8L510.4 45.8L510.9 45.8L511.5 45.8L512.0 45.8L512.6 45.7L513.1 45.7L513.6 45.7L514.2 45.7L514.7 45.7L515.3 45.7L515.8 45.6L516.4 45.6L516.9 45.6L517.5 45.6L518.0 45.6L518.5 45.6L519.1 45.5L519.6 45.5L520.2 45.5L520.7 45.5L521.3 45.5L521.8 45.4L522.3 45.4L522.9 45.4L523.4 45.4L524.0 45.4L524.5 45.3L525.1 45.3L525.6 45.3L526.1 45.2L526.7 45.2L527.2 45.2L527.8 45.2L528.3 45.1L528.9 45.1L529.4 45.1L530.0 45.0L530.5 45.0L531.0 45.0L531.6 44.9L532.1 44.9L532.7 44.8L533.2 44.7L533.8 44.7L534.3 44.6L534.8 44.6L535.4 44.5L535.9 44.4L536.5 44.3L537.0 44.3L537.6 44.2L538.1 44.1L538.7 44.0L539.2 43.9L539.7 43.8L540.3 43.8L540.8 43.7L541.4 43.6L541.9 43.5L542.5 43.4L543.0 43.3L543.0 46.7L542.5 47.7L541.9 48.6L541.4 49.0L540.8 49.2L540.3 49.4L539.7 49.6L539.2 49.8L538.7 49.9L538.1 50.0L537.6 50.2L537.0 50.3L536.5 50.3L535.9 50.4L535.4 50.5L534.8 50.5L534.3 50.6L533.8 50.6L533.2 50.7L532.7 50.7L532.1 50.7L531.6 50.8L531.0 50.8L530.5 50.8L530.0 50.9L529.4 50.9L528.9 50.9L528.3 50.9L527.8 50.9L527.2 51.0L526.7 51.0L526.1 51.0L525.6 51.0L525.1 51.0L524.5 51.1L524.0 51.1L523.4 51.1L522.9 51.1L522.3 51.1L521.8 51.2L521.3 51.2L520.7 51.2L520.2 51.2L519.6 51.3L519.1 51.3L518.5 51.3L518.0 51.3L517.5 51.4L516.9 51.4L516.4 51.4L515.8 51.4L515.3 51.5L514.7 51.5L514.2 51.5L513.6 51.5L513.1 51.6L512.6 51.6L512.0 51.6L511.5 51.6L510.9 51.7L510.4 51.7L509.8 51.7L509.3 51.8L508.8 51.8L508.2 51.8L507.7 51.8L507.1 51.9L506.6 51.9L506.0 51.9L505.5 51.9L504.9 52.0L504.4 52.0L503.9 52.0L503.3 52.0L502.8 52.1L502.2 52.1L501.7 52.1L501.1 52.1L500.6 52.2L500.1 52.2L499.5 52.2L499.0 52.2L498.4 52.3L497.9 52.3L497.3 52.3L496.8 52.4L496.2 52.4L495.7 52.4L495.2 52.4L494.6 52.5L494.1 52.5L493.5 52.5L493.0 52.5L492.4 52.6L491.9 52.6L491.4 52.6L490.8 52.6L490.3 52.7L489.7 52.7L489.2 52.7L488.6 52.7L488.1 52.8L487.6 52.8L487.0 52.8L486.5 52.8L485.9 52.9L485.4 52.9L484.8 52.9L484.3 52.9L483.7 52.9L483.2 53.0L482.7 53.0L482.1 53.0L481.6 53.0L481.0 53.0L480.5 53.1L479.9 53.1L479.4 53.1L478.9 53.1L478.3 53.1L477.8 53.1L477.2 53.2L476.7 53.2L476.1 53.2L475.6 53.2L475.0 53.2L474.5 53.3L474.0 53.3L473.4 53.3L472.9 53.3L472.3 53.3L471.8 53.3L471.2 53.4L470.7 53.4L470.2 53.4L469.6 53.4L469.1 53.4L468.5 53.4L468.0 53.5L467.4 53.5L466.9 53.5L466.4 53.5L465.8 53.5L465.3 53.5L464.7 53.5L464.2 53.6L463.6 53.6L463.1 53.6L462.5 53.6L462.0 53.6L461.5 53.6L460.9 53.6L460.4 53.7L459.8 53.7L459.3 53.7L458.7 53.7L458.2 53.7L457.7 53.7L457.1 53.7L456.6 53.7L456.0 53.8L455.5 53.8L454.9 53.8L454.4 53.8L453.8 53.8L453.3 53.8L452.8 53.8L452.2 53.8L451.7 53.8L451.1 53.8L450.6 53.8L450.0 53.8L449.5 53.8L449.0 53.8L448.4 53.8L447.9 53.9L447.3 53.8L446.8 53.8L446.2 53.8L445.7 53.8L445.2 53.8L444.6 53.8L444.1 53.8L443.5 53.8L443.0 53.8L442.4 53.8L441.9 53.8L441.3 53.8L440.8 53.8L440.3 53.8L439.7 53.8L439.2 53.8L438.6 53.8L438.1 53.8L437.5 53.8L437.0 53.8L436.5 53.7L435.9 53.7L435.4 53.7L434.8 53.7L434.3 53.7L433.7 53.7L433.2 53.7L432.6 53.7L432.1 53.7L431.6 53.7L431.0 53.7L430.5 53.6L429.9 53.6L429.4 53.7L428.8 53.7L428.3 53.7L427.8 53.7L427.2 53.8L426.7 53.8L426.1 53.9L425.6 54.0L425.0 54.0L424.5 54.1L423.9 54.2L423.4 54.3L422.9 54.4L422.3 54.5L421.8 54.6L421.2 54.8L420.7 55.0L420.1 55.1L419.6 55.3L419.1 55.5L418.5 55.7L418.0 56.0L417.4 56.2L416.9 56.5L416.3 56.7L415.8 57.0L415.3 57.3L414.7 57.6L414.2 58.0L413.6 58.3L413.1 58.7L412.5 59.0L412.0 59.4L411.4 59.8L410.9 60.2L410.4 60.6L409.8 60.9L409.3 61.3L408.7 61.7L408.2 62.0L407.6 62.3L407.1 62.7L406.6 63.0L406.0 63.3L405.5 63.6L404.9 64.0L404.4 64.3L403.8 64.6L403.3 65.0L402.7 65.3L402.2 65.6L401.7 65.9L401.1 66.2L400.6 66.5L400.0 66.8L399.5 67.1L398.9 67.4L398.4 67.7L397.9 68.1L397.3 68.4L396.8 68.8L396.2 69.2L395.7 69.7L395.1 70.1L394.6 70.6L394.1 71.1L393.5 71.6L393.0 72.1L392.4 72.6L391.9 73.1L391.3 73.7L390.8 74.2L390.2 74.8L389.7 75.4L389.2 76.0L388.6 76.5L388.1 77.1L387.5 77.6L387.0 78.2L386.4 78.7L385.9 79.2L385.4 79.6L384.8 80.1L384.3 80.6L383.7 81.0L383.2 81.5L382.6 81.9L382.1 82.3L381.5 82.8L381.0 83.3L380.5 83.7L379.9 84.2L379.4 84.7L378.8 85.2L378.3 85.7L377.7 86.2L377.2 86.7L376.7 87.3L376.1 87.8L375.6 88.3L375.0 88.9L374.5 89.4L373.9 90.0L373.4 90.5L372.9 91.1L372.3 91.6L371.8 92.2L371.2 92.7L370.7 93.2L370.1 93.8L369.6 94.3L369.0 94.8L368.5 95.3L368.0 95.9L367.4 96.4L366.9 96.9L366.3 97.4L365.8 98.0L365.2 98.5L364.7 99.0L364.2 99.5L363.6 100.1L363.1 100.6L362.5 101.1L362.0 101.6L361.4 102.1L360.9 102.6L360.3 103.2L359.8 103.7L359.3 104.2L358.7 104.7L358.2 105.2L357.6 105.7L357.1 106.2L356.5 106.7L356.0 107.2L355.5 107.7L354.9 108.2L354.4 108.7L353.8 109.2L353.3 109.7L352.7 110.2L352.2 110.7L351.6 111.2L351.1 111.7L350.6 112.1L350.0 112.6L349.5 113.1L348.9 113.5L348.4 114.0L347.8 114.4L347.3 114.9L346.8 115.3L346.2 115.8L345.7 116.2L345.1 116.6L344.6 117.1L344.0 117.5L343.5 117.9L343.0 118.4L342.4 118.8L341.9 119.2L341.3 119.6L340.8 120.0L340.2 120.4L339.7 120.8L339.1 121.2L338.6 121.6L338.1 122.0L337.5 122.4L337.0 122.8L336.4 123.2L335.9 123.6L335.3 124.0L334.8 124.4L334.3 124.8L333.7 125.2L333.2 125.6L332.6 125.9L332.1 126.3L331.5 126.7L331.0 127.1L330.4 127.4L329.9 127.8L329.4 128.2L328.8 128.5L328.3 128.9L327.7 129.3L327.2 129.6L326.6 130.0L326.1 130.3" stroke="#0000ff"/>
<path d="M326.1 123.1L326.6 121.1L327.2 119.0L327.7 117.1L328.3 115.2L328.8 113.5L329.4 111.8L329.9 110.3L330.4 108.8L331.0 107.5L331.5 106.2L332.1 105.0L332.6 103.8L333.2 102.6L333.7 101.4L334.3 100.2L334.8 99.0L335.3 97.8L335.9 96.5L336.4 95.3L337.0 94.1L337.5 92.9L338.1 91.8L338.6 90.7L339.1 89.6L339.7 88.6L340.2 87.6L340.8 86.8L341.3 86.0L341.9 85.2L342.4 84.4L343.0 83.7L343.5 82.9L344.0 82.2L344.6 81.5L345.1 80.8L345.7 80.1L346.2 79.4L346.8 78.7L347.3 78.1L347.8 77.4L348.4 76.8L348.9 76.1L349.5 75.5L350.0 74.9L350.6 74.3L351.1 73.7L351.6 73.1L352.2 72.5L352.7 71.9L353.3 71.4L353.8 70.8L354.4 70.2L354.9 69.7L355.5 69.1L356.0 68.6L356.5 68.1L357.1 67.6L357.6 67.1L358.2 66.6L358.7 66.1L359.3 65.6L359.8 65.1L360.3 64.6L360.9 64.2L361.4 63.8L362.0 63.5L362.5 63.2L363.1 62.8L363.6 62.5L364.2 62.2L364.7 61.9L365.2 61.6L365.8 61.3L366.3 61.0L366.9 60.7L367.4 60.5L368.0 60.2L368.5 60.0L369.0 59.7L369.6 59.5L370.1 59.3L370.7 59.0L371.2 58.8L371.8 58.6L372.3 58.4L372.9 58.2L373.4 58.0L373.9 57.8L374.5 57.6L375.0 57.5L375.6 57.3L376.1 57.1L376.7 56.9L377.2 56.7L377.7 56.6L378.3 56.4L378.8 56.2L379.4 56.0L379.9 55.8L380.5 55.7L381.0 55.5L381.5 55.3L382.1 55.2L382.6 55.0L383.2 54.8L383.7 54.6L384.3 54.5L384.8 54.3L385.4 54.1L385.9 54.0L386.4 53.8L387.0 53.7L387.5 53.5L388.1 53.3L388.6 53.2L389.2 53.0L389.7 52.8L390.2 52.6L390.8 52.5L391.3 52.3L391.9 52.1L392.4 51.9L393.0 51.8L393.5 51.6L394.1 51.4L394.6 51.2L395.1 51.0L395.7 50.9L396.2 50.7L396.8 50.6L397.3 50.5L397.9 50.4L398.4 50.3L398.9 50.3L399.5 50.3L400.0 50.3L400.6 50.3L401.1 50.3L401.7 50.3L402.2 50.3L402.7 50.4L403.3 50.4L403.8 50.5L404.4 50.5L404.9 50.5L405.5 50.6L406.0 50.6L406.6 50.7L407.1 50.7L407.6 50.8L408.2 50.8L408.7 50.8L409.3 50.8L409.8 50.8L410.4 50.8L410.9 50.8L411.4 50.8L412.0 50.7L412.5 50.7L413.1 50.6L413.6 50.5L414.2 50.4L414.7 50.2L415.3 50.0L415.8 49.8L416.3 49.5L416.9 49.3L417.4 49.1L418.0 48.9L418.5 48.7L419.1 48.5L419.6 48.3L420.1 48.0L420.7 47.8L421.2 47.6L421.8 47.4L422.3 47.3L422.9 47.1L423.4 47.0L423.9 46.8L424.5 46.7L425.0 46.6L425.6 46.5L426.1 46.4L426.7 46.3L427.2 46.2L427.8 46.2L428.3 46.1L428.8 46.1L429.4 46.1L429.9 46.1L430.5 46.1L431.0 46.0L431.6 46.0L432.1 46.0L432.6 46.0L433.2 46.0L433.7 46.0L434.3 46.1L434.8 46.1L435.4 46.1L435.9 46.1L436.5 46.1L437.0 46.1L437.5 46.1L438.1 46.1L438.6 46.1L439.2 46.2L439.7 46.2L440.3 46.2L440.8 46.2L441.3 46.2L441.9 46.2L442.4 46.2L443.0 46.2L443.5 46.2L444.1 46.2L444.6 46.2L445.2 46.2L445.7 46.2L446.2 46.2L446.8 46.2L447.3 46.2L447.9 46.2L448.4 46.2L449.0 46.2L449.5 46.2L450.0 46.2L450.6 46.2L451.1 46.2L451.7 46.2L452.2 46.2L452.8 46.1L453.3 46.1L453.8 46.1L454.4 46.1L454.9 46.1L455.5 46.1L456.0 46.1L456.6 46.1L457.1 46.1L457.7 46.1L458.2 46.1L458.7 46.1L459.3 46.1L459.8 46.1L460.4 46.1L460.9 46.1L461.5 46.1L462.0 46.0L462.5 46.0L463.1 46.0L463.6 46.0L464.2 46.0L464.7 46.0L465.3 46.0L465.8 46.0L466.4 46.0L466.9 46.0L467.4 46.0L468.0 46.0L468.5 46.0L469.1 45.9L469.6 45.9L470.2 45.9L470.7 45.9L471.2 45.9L471.8 45.9L472.3 45.9L472.9 45.9L473.4 45.9L474.0 45.9L474.5 45.9L475.0 45.9L475.6 45.9L476.1 45.9L476.7 45.8L477.2 45.8L477.8 45.8L478.3 45.8L478.9 45.8L479.4 45.8L479.9 45.8L480.5 45.8L481.0 45.8L481.6 45.8L482.1 45.8L482.7 45.8L483.2 45.7L483.7 45.7L484.3 45.7L484.8 45.7L485.4 45.7L485.9 45.7L486.5 45.7L487.0 45.7L487.6 45.7L488.1 45.7L488.6 45.7L489.2 45.7L489.7 45.7L490.3 45.6L490.8 45.6L491.4 45.6L491.9 45.6L492.4 45.6L493.0 45.6L493.5 45.6L494.1 45.6L494.6 45.6L495.2 45.6L495.7 45.6L496.2 45.5L496.8 45.5L497.3 45.5L497.9 45.5L498.4 45.5L499.0 45.5L499.5 45.5L500.1 45.5L500.6 45.5L501.1 45.5L501.7 45.5L502.2 45.4L502.8 45.4L503.3 45.4L503.9 45.4L504.4 45.4L504.9 45.4L505.5 45.4L506.0 45.4L506.6 45.3L507.1 45.3L507.7 45.3L508.2 45.3L508.8 45.3L509.3 45.3L509.8 45.3L510.4 45.3L510.9 45.2L511.5 45.2L512.0 45.2L512.6 45.2L513.1 45.2L513.6 45.2L514.2 45.1L514.7 45.1L515.3 45.1L515.8 45.1L516.4 45.1L516.9 45.1L517.5 45.0L518.0 45.0L518.5 45.0L519.1 45.0L519.6 45.0L520.2 44.9L520.7 44.9L521.3 44.9L521.8 44.9L522.3 44.9L522.9 44.8L523.4 44.8L524.0 44.8L524.5 44.8L525.1 44.7L525.6 44.7L526.1 44.7L526.7 44.6L527.2 44.6L527.8 44.6L528.3 44.5L528.9 44.5L529.4 44.5L530.0 44.4L530.5 44.4L531.0 44.4L531.6 44.3L532.1 44.3L532.7 44.2L533.2 44.2L533.8 44.1L534.3 44.0L534.8 44.0L535.4 43.9L535.9 43.8L536.5 43.7L537.0 43.7L537.6 43.6L538.1 43.5L538.7 43.4L539.2 43.3L539.7 43.3L540.3 43.2L540.8 43.1L541.4 43.0L541.9 42.9L542.5 42.8L543.0 42.7L543.0 43.9L542.5 45.3L541.9 46.4L541.4 46.9L540.8 47.3L540.3 47.6L539.7 47.9L539.2 48.1L538.7 48.3L538.1 48.4L537.6 48.6L537.0 48.7L536.5 48.8L535.9 48.9L535.4 48.9L534.8 49.0L534.3 49.1L533.8 49.1L533.2 49.2L532.7 49.2L532.1 49.3L531.6 49.3L531.0 49.4L530.5 49.4L530.0 49.4L529.4 49.5L528.9 49.5L528.3 49.6L527.8 49.6L527.2 49.6L526.7 49.6L526.1 49.7L525.6 49.7L525.1 49.7L524.5 49.8L524.0 49.8L523.4 49.8L522.9 49.8L522.3 49.9L521.8 49.9L521.3 49.9L520.7 49.9L520.2 50.0L519.6 50.0L519.1 50.0L518.5 50.1L518.0 50.1L517.5 50.1L516.9 50.2L516.4 50.2L515.8 50.2L515.3 50.2L514.7 50.3L514.2 50.3L513.6 50.3L513.1 50.4L512.6 50.4L512.0 50.4L511.5 50.4L510.9 50.5L510.4 50.5L509.8 50.5L509.3 50.6L508.8 50.6L508.2 50.6L507.7 50.6L507.1 50.7L506.6 50.7L506.0 50.7L505.5 50.7L504.9 50.8L504.4 50.8L503.9 50.8L503.3 50.8L502.8 50.9L502.2 50.9L501.7 50.9L501.1 50.9L500.6 51.0L500.1 51.0L499.5 51.0L499.0 51.0L498.4 51.1L497.9 51.1L497.3 51.1L496.8 51.2L496.2 51.2L495.7 51.2L495.2 51.2L494.6 51.3L494.1 51.3L493.5 51.3L493.0 51.3L492.4 51.4L491.9 51.4L491.4 51.4L490.8 51.4L490.3 51.5L489.7 51.5L489.2 51.5L488.6 51.5L488.1 51.6L487.6 51.6L487.0 51.6L486.5 51.6L485.9 51.7L485.4 51.7L484.8 51.7L484.3 51.7L483.7 51.8L483.2 51.8L482.7 51.8L482.1 51.8L481.6 51.9L481.0 51.9L480.5 51.9L479.9 51.9L479.4 51.9L478.9 52.0L478.3 52.0L477.8 52.0L477.2 52.0L476.7 52.0L476.1 52.1L475.6 52.1L475.0 52.1L474.5 52.1L474.0 52.1L473.4 52.2L472.9 52.2L472.3 52.2L471.8 52.2L471.2 52.2L470.7 52.3L470.2 52.3L469.6 52.3L469.1 52.3L468.5 52.3L468.0 52.3L467.4 52.4L466.9 52.4L466.4 52.4L465.8 52.4L465.3 52.4L464.7 52.5L464.2 52.5L463.6 52.5L463.1 52.5L462.5 52.5L462.0 52.5L461.5 52.6L460.9 52.6L460.4 52.6L459.8 52.6L459.3 52.6L458.7 52.6L458.2 52.7L457.7 52.7L457.1 52.7L456.6 52.7L456.0 52.7L455.5 52.7L454.9 52.7L454.4 52.8L453.8 52.8L453.3 52.8L452.8 52.8L452.2 52.8L451.7 52.8L451.1 52.9L450.6 52.9L450.0 52.9L449.5 52.9L449.0 52.9L448.4 52.9L447.9 52.9L447.3 52.9L446.8 53.0L446.2 53.0L445.7 53.0L445.2 53.0L444.6 53.0L444.1 53.0L443.5 53.0L443.0 53.0L442.4 53.0L441.9 53.0L441.3 53.1L440.8 53.1L440.3 53.1L439.7 53.1L439.2 53.1L438.6 53.1L438.1 53.1L437.5 53.1L437.0 53.2L436.5 53.2L435.9 53.2L435.4 53.2L434.8 53.2L434.3 53.3L433.7 53.3L433.2 53.3L432.6 53.3L432.1 53.4L431.6 53.4L431.0 53.4L430.5 53.5L429.9 53.5L429.4 53.6L428.8 53.7L428.3 53.8L427.8 53.9L427.2 54.0L426.7 54.2L426.1 54.3L425.6 54.4L425.0 54.6L424.5 54.7L423.9 54.9L423.4 55.0L422.9 55.2L422.3 55.4L421.8 55.6L421.2 55.8L420.7 56.0L420.1 56.2L419.6 56.4L419.1 56.6L418.5 56.8L418.0 57.1L417.4 57.3L416.9 57.5L416.3 57.8L415.8 58.0L415.3 58.3L414.7 58.5L414.2 58.8L413.6 59.1L413.1 59.4L412.5 59.8L412.0 60.1L411.4 60.4L410.9 60.7L410.4 61.0L409.8 61.3L409.3 61.6L408.7 61.9L408.2 62.2L407.6 62.5L407.1 62.8L406.6 63.1L406.0 63.4L405.5 63.7L404.9 64.0L404.4 64.3L403.8 64.6L403.3 64.9L402.7 65.2L402.2 65.5L401.7 65.8L401.1 66.0L400.6 66.3L400.0 66.6L399.5 66.9L398.9 67.2L398.4 67.5L397.9 67.8L397.3 68.1L396.8 68.5L396.2 68.9L395.7 69.3L395.1 69.7L394.6 70.1L394.1 70.6L393.5 71.0L393.0 71.5L392.4 72.0L391.9 72.4L391.3 72.9L390.8 73.4L390.2 74.0L389.7 74.5L389.2 75.0L388.6 75.5L388.1 76.0L387.5 76.5L387.0 77.0L386.4 77.5L385.9 77.9L385.4 78.4L384.8 78.8L384.3 79.2L383.7 79.6L383.2 80.1L382.6 80.5L382.1 80.9L381.5 81.3L381.0 81.7L380.5 82.2L379.9 82.6L379.4 83.1L378.8 83.6L378.3 84.0L377.7 84.5L377.2 85.0L376.7 85.5L376.1 86.1L375.6 86.6L375.0 87.1L374.5 87.6L373.9 88.1L373.4 88.7L372.9 89.2L372.3 89.7L371.8 90.2L371.2 90.8L370.7 91.3L370.1 91.8L369.6 92.3L369.0 92.8L368.5 93.3L368.0 93.8L367.4 94.3L366.9 94.8L366.3 95.3L365.8 95.8L365.2 96.3L364.7 96.8L364.2 97.3L363.6 97.8L363.1 98.3L362.5 98.8L362.0 99.3L361.4 99.8L360.9 100.3L360.3 100.8L359.8 101.3L359.3 101.8L358.7 102.3L358.2 102.8L357.6 103.3L357.1 103.7L356.5 104.2L356.0 104.7L355.5 105.2L354.9 105.7L354.4 106.2L353.8 106.7L353.3 107.2L352.7 107.7L352.2 108.1L351.6 108.6L351.1 109.1L350.6 109.5L350.0 110.0L349.5 110.4L348.9 110.9L348.4 111.3L347.8 111.8L347.3 112.2L346.8 112.7L346.2 113.1L345.7 113.5L345.1 114.0L344.6 114.4L344.0 114.8L343.5 115.2L343.0 115.7L342.4 116.1L341.9 116.5L341.3 116.9L340.8 117.3L340.2 117.7L339.7 118.1L339.1 118.5L338.6 118.9L338.1 119.3L337.5 119.7L337.0 120.1L336.4 120.5L335.9 120.9L335.3 121.3L334.8 121.7L334.3 122.1L333.7 122.5L333.2 122.9L332.6 123.3L332.1 123.7L331.5 124.0L331.0 124.4L330.4 124.8L329.9 125.2L329.4 125.5L328.8 125.9L328.3 126.3L327.7 126.6L327.2 127.0L326.6 127.4L326.1 127.7" stroke="#ff00ff"/>
<path d="M326.1 122.4L326.6 120.4L327.2 118.5L327.7 116.7L328.3 115.0L328.8 113.3L329.4 111.8L329.9 110.4L330.4 109.2L331.0 108.0L331.5 106.9L332.1 105.8L332.6 104.8L333.2 103.8L333.7 102.7L334.3 101.7L334.8 100.6L335.3 99.5L335.9 98.5L336.4 97.4L337.0 96.4L337.5 95.4L338.1 94.4L338.6 93.4L339.1 92.5L339.7 91.6L340.2 90.8L340.8 89.9L341.3 89.1L341.9 88.3L342.4 87.5L343.0 86.7L343.5 85.9L344.0 85.2L344.6 84.5L345.1 83.7L345.7 83.0L346.2 82.3L346.8 81.6L347.3 80.9L347.8 80.3L348.4 79.6L348.9 79.0L349.5 78.3L350.0 77.7L350.6 77.0L351.1 76.4L351.6 75.8L352.2 75.1L352.7 74.5L353.3 73.9L353.8 73.3L354.4 72.7L354.9 72.2L355.5 71.6L356.0 71.0L356.5 70.5L357.1 69.9L357.6 69.4L358.2 68.8L358.7 68.3L359.3 67.8L359.8 67.3L360.3 66.8L360.9 66.3L361.4 65.9L362.0 65.5L362.5 65.2L363.1 64.8L363.6 64.5L364.2 64.1L364.7 63.8L365.2 63.5L365.8 63.1L366.3 62.8L366.9 62.5L367.4 62.2L368.0 62.0L368.5 61.7L369.0 61.4L369.6 61.2L370.1 60.9L370.7 60.7L371.2 60.5L371.8 60.2L372.3 60.0L372.9 59.8L373.4 59.6L373.9 59.4L374.5 59.2L375.0 59.0L375.6 58.8L376.1 58.6L376.7 58.4L377.2 58.2L377.7 58.0L378.3 57.8L378.8 57.6L379.4 57.4L379.9 57.2L380.5 57.0L381.0 56.8L381.5 56.6L382.1 56.4L382.6 56.2L383.2 56.1L383.7 55.9L384.3 55.7L384.8 55.5L385.4 55.3L385.9 55.1L386.4 55.0L387.0 54.8L387.5 54.6L388.1 54.4L388.6 54.2L389.2 54.0L389.7 53.9L390.2 53.7L390.8 53.5L391.3 53.3L391.9 53.1L392.4 52.9L393.0 52.7L393.5 52.5L394.1 52.3L394.6 52.1L395.1 51.9L395.7 51.7L396.2 51.5L396.8 51.4L397.3 51.3L397.9 51.1L398.4 51.0L398.9 50.9L399.5 50.9L400.0 50.8L400.6 50.8L401.1 50.7L401.7 50.7L402.2 50.7L402.7 50.7L403.3 50.7L403.8 50.6L404.4 50.6L404.9 50.6L405.5 50.6L406.0 50.6L406.6 50.6L407.1 50.6L407.6 50.5L408.2 50.5L408.7 50.5L409.3 50.5L409.8 50.4L410.4 50.3L410.9 50.3L411.4 50.2L412.0 50.1L412.5 50.0L413.1 49.9L413.6 49.7L414.2 49.5L414.7 49.3L415.3 49.1L415.8 48.8L416.3 48.6L416.9 48.3L417.4 48.0L418.0 47.8L418.5 47.5L419.1 47.3L419.6 47.0L420.1 46.8L420.7 46.5L421.2 46.2L421.8 46.0L422.3 45.8L422.9 45.6L423.4 45.4L423.9 45.3L424.5 45.1L425.0 45.0L425.6 44.9L426.1 44.8L426.7 44.7L427.2 44.6L427.8 44.6L428.3 44.5L428.8 44.5L429.4 44.5L429.9 44.5L430.5 44.5L431.0 44.5L431.6 44.5L432.1 44.5L432.6 44.5L433.2 44.5L433.7 44.6L434.3 44.6L434.8 44.7L435.4 44.7L435.9 44.8L436.5 44.8L437.0 44.8L437.5 44.8L438.1 44.9L438.6 44.9L439.2 44.9L439.7 44.9L440.3 45.0L440.8 45.0L441.3 45.0L441.9 45.0L442.4 45.0L443.0 45.0L443.5 45.0L444.1 45.1L444.6 45.1L445.2 45.1L445.7 45.1L446.2 45.1L446.8 45.1L447.3 45.1L447.9 45.1L448.4 45.1L449.0 45.1L449.5 45.1L450.0 45.1L450.6 45.1L451.1 45.2L451.7 45.2L452.2 45.2L452.8 45.2L453.3 45.2L453.8 45.2L454.4 45.2L454.9 45.2L455.5 45.2L456.0 45.2L456.6 45.2L457.1 45.2L457.7 45.1L458.2 45.1L458.7 45.1L459.3 45.1L459.8 45.1L460.4 45.1L460.9 45.1L461.5 45.1L462.0 45.1L462.5 45.1L463.1 45.1L463.6 45.1L464.2 45.1L464.7 45.1L465.3 45.1L465.8 45.1L466.4 45.1L466.9 45.1L467.4 45.1L468.0 45.1L468.5 45.0L469.1 45.0L469.6 45.0L470.2 45.0L470.7 45.0L471.2 45.0L471.8 45.0L472.3 45.0L472.9 45.0L473.4 45.0L474.0 45.0L474.5 45.0L475.0 45.0L475.6 45.0L476.1 45.0L476.7 44.9L477.2 44.9L477.8 44.9L478.3 44.9L478.9 44.9L479.4 44.9L479.9 44.9L480.5 44.9L481.0 44.9L481.6 44.9L482.1 44.9L482.7 44.9L483.2 44.9L483.7 44.9L484.3 44.8L484.8 44.8L485.4 44.8L485.9 44.8L486.5 44.8L487.0 44.8L487.6 44.8L488.1 44.8L488.6 44.8L489.2 44.8L489.7 44.8L490.3 44.8L490.8 44.8L491.4 44.7L491.9 44.7L492.4 44.7L493.0 44.7L493.5 44.7L494.1 44.7L494.6 44.7L495.2 44.7L495.7 44.7L496.2 44.7L496.8 44.7L497.3 44.6L497.9 44.6L498.4 44.6L499.0 44.6L499.5 44.6L500.1 44.6L500.6 44.6L501.1 44.6L501.7 44.6L502.2 44.5L502.8 44.5L503.3 44.5L503.9 44.5L504.4 44.5L504.9 44.5L505.5 44.5L506.0 44.5L506.6 44.4L507.1 44.4L507.7 44.4L508.2 44.4L508.8 44.4L509.3 44.4L509.8 44.4L510.4 44.3L510.9 44.3L511.5 44.3L512.0 44.3L512.6 44.3L513.1 44.3L513.6 44.2L514.2 44.2L514.7 44.2L515.3 44.2L515.8 44.2L516.4 44.1L516.9 44.1L517.5 44.1L518.0 44.1L518.5 44.1L519.1 44.0L519.6 44.0L520.2 44.0L520.7 44.0L521.3 44.0L521.8 43.9L522.3 43.9L522.9 43.9L523.4 43.9L524.0 43.8L524.5 43.8L525.1 43.8L525.6 43.7L526.1 43.7L526.7 43.7L527.2 43.6L527.8 43.6L528.3 43.6L528.9 43.5L529.4 43.5L530.0 43.5L530.5 43.4L531.0 43.4L531.6 43.3L532.1 43.3L532.7 43.2L533.2 43.2L533.8 43.1L534.3 43.0L534.8 43.0L535.4 42.9L535.9 42.8L536.5 42.8L537.0 42.7L537.6 42.6L538.1 42.5L538.7 42.4L539.2 42.3L539.7 42.3L540.3 42.2L540.8 42.1L541.4 42.0L541.9 41.9L542.5 41.8L543.0 41.7L543.0 49.5L542.5 50.2L541.9 50.9L541.4 51.1L540.8 51.1L540.3 51.2L539.7 51.3L539.2 51.4L538.7 51.5L538.1 51.7L537.6 51.8L537.0 51.8L536.5 51.9L535.9 52.0L535.4 52.0L534.8 52.0L534.3 52.1L533.8 52.1L533.2 52.1L532.7 52.2L532.1 52.2L531.6 52.2L531.0 52.2L530.5 52.3L530.0 52.3L529.4 52.3L528.9 52.3L528.3 52.3L527.8 52.3L527.2 52.3L526.7 52.3L526.1 52.3L525.6 52.4L525.1 52.4L524.5 52.4L524.0 52.4L523.4 52.4L522.9 52.4L522.3 52.4L521.8 52.4L521.3 52.4L520.7 52.5L520.2 52.5L519.6 52.5L519.1 52.5L518.5 52.5L518.0 52.6L517.5 52.6L516.9 52.6L516.4 52.6L515.8 52.7L515.3 52.7L514.7 52.7L514.2 52.7L513.6 52.8L513.1 52.8L512.6 52.8L512.0 52.8L511.5 52.9L510.9 52.9L510.4 52.9L509.8 52.9L509.3 53.0L508.8 53.0L508.2 53.0L507.7 53.0L507.1 53.1L506.6 53.1L506.0 53.1L505.5 53.1L504.9 53.2L504.4 53.2L503.9 53.2L503.3 53.2L502.8 53.3L502.2 53.3L501.7 53.3L501.1 53.3L500.6 53.4L500.1 53.4L499.5 53.4L499.0 53.4L498.4 53.5L497.9 53.5L497.3 53.5L496.8 53.6L496.2 53.6L495.7 53.6L495.2 53.6L494.6 53.7L494.1 53.7L493.5 53.7L493.0 53.7L492.4 53.8L491.9 53.8L491.4 53.8L490.8 53.8L490.3 53.9L489.7 53.9L489.2 53.9L488.6 53.9L488.1 54.0L487.6 54.0L487.0 54.0L486.5 54.0L485.9 54.0L485.4 54.1L484.8 54.1L484.3 54.1L483.7 54.1L483.2 54.1L482.7 54.1L482.1 54.2L481.6 54.2L481.0 54.2L480.5 54.2L479.9 54.2L479.4 54.2L478.9 54.3L478.3 54.3L477.8 54.3L477.2 54.3L476.7 54.3L476.1 54.3L475.6 54.4L475.0 54.4L474.5 54.4L474.0 54.4L473.4 54.4L472.9 54.4L472.3 54.4L471.8 54.5L471.2 54.5L470.7 54.5L470.2 54.5L469.6 54.5L469.1 54.5L468.5 54.6L468.0 54.6L467.4 54.6L466.9 54.6L466.4 54.6L465.8 54.6L465.3 54.6L464.7 54.6L464.2 54.7L463.6 54.7L463.1 54.7L462.5 54.7L462.0 54.7L461.5 54.7L460.9 54.7L460.4 54.7L459.8 54.7L459.3 54.7L458.7 54.8L458.2 54.8L457.7 54.8L457.1 54.8L456.6 54.8L456.0 54.8L455.5 54.8L454.9 54.8L454.4 54.8L453.8 54.8L453.3 54.8L452.8 54.8L452.2 54.8L451.7 54.8L451.1 54.8L450.6 54.8L450.0 54.8L449.5 54.8L449.0 54.8L448.4 54.8L447.9 54.8L447.3 54.8L446.8 54.7L446.2 54.7L445.7 54.7L445.2 54.7L444.6 54.7L444.1 54.7L443.5 54.7L443.0 54.6L442.4 54.6L441.9 54.6L441.3 54.6L440.8 54.6L440.3 54.5L439.7 54.5L439.2 54.5L438.6 54.5L438.1 54.4L437.5 54.4L437.0 54.3L436.5 54.3L435.9 54.3L435.4 54.2L434.8 54.2L434.3 54.1L433.7 54.1L433.2 54.1L432.6 54.0L432.1 54.0L431.6 53.9L431.0 53.9L430.5 53.8L429.9 53.8L429.4 53.7L428.8 53.7L428.3 53.6L427.8 53.6L427.2 53.6L426.7 53.5L426.1 53.5L425.6 53.5L425.0 53.5L424.5 53.5L423.9 53.5L423.4 53.5L422.9 53.5L422.3 53.6L421.8 53.7L421.2 53.8L420.7 54.0L420.1 54.1L419.6 54.2L419.1 54.4L418.5 54.6L418.0 54.9L417.4 55.1L416.9 55.4L416.3 55.7L415.8 56.1L415.3 56.4L414.7 56.7L414.2 57.1L413.6 57.5L413.1 57.9L412.5 58.3L412.0 58.8L411.4 59.2L410.9 59.6L410.4 60.1L409.8 60.5L409.3 60.9L408.7 61.4L408.2 61.8L407.6 62.2L407.1 62.5L406.6 62.9L406.0 63.3L405.5 63.6L404.9 64.0L404.4 64.3L403.8 64.7L403.3 65.0L402.7 65.4L402.2 65.7L401.7 66.0L401.1 66.3L400.6 66.6L400.0 66.9L399.5 67.3L398.9 67.6L398.4 67.9L397.9 68.3L397.3 68.7L396.8 69.1L396.2 69.6L395.7 70.0L395.1 70.5L394.6 71.0L394.1 71.5L393.5 72.1L393.0 72.6L392.4 73.1L391.9 73.7L391.3 74.3L390.8 74.9L390.2 75.5L389.7 76.1L389.2 76.8L388.6 77.4L388.1 78.0L387.5 78.6L387.0 79.2L386.4 79.7L385.9 80.2L385.4 80.7L384.8 81.2L384.3 81.7L383.7 82.2L383.2 82.7L382.6 83.1L382.1 83.6L381.5 84.1L381.0 84.6L380.5 85.0L379.9 85.5L379.4 86.1L378.8 86.6L378.3 87.1L377.7 87.7L377.2 88.2L376.7 88.8L376.1 89.3L375.6 89.9L375.0 90.4L374.5 91.0L373.9 91.6L373.4 92.1L372.9 92.7L372.3 93.3L371.8 93.8L371.2 94.4L370.7 94.9L370.1 95.5L369.6 96.0L369.0 96.6L368.5 97.1L368.0 97.7L367.4 98.2L366.9 98.7L366.3 99.3L365.8 99.8L365.2 100.4L364.7 100.9L364.2 101.5L363.6 102.0L363.1 102.5L362.5 103.1L362.0 103.6L361.4 104.1L360.9 104.7L360.3 105.2L359.8 105.7L359.3 106.2L358.7 106.8L358.2 107.3L357.6 107.8L357.1 108.3L356.5 108.9L356.0 109.4L355.5 109.9L354.9 110.4L354.4 110.9L353.8 111.4L353.3 111.9L352.7 112.4L352.2 112.9L351.6 113.4L351.1 113.9L350.6 114.4L350.0 114.9L349.5 115.3L348.9 115.8L348.4 116.2L347.8 116.7L347.3 117.2L346.8 117.6L346.2 118.1L345.7 118.5L345.1 118.9L344.6 119.4L344.0 119.8L343.5 120.2L343.0 120.7L342.4 121.1L341.9 121.5L341.3 121.9L340.8 122.3L340.2 122.7L339.7 123.1L339.1 123.5L338.6 123.9L338.1 124.3L337.5 124.7L337.0 125.1L336.4 125.5L335.9 125.9L335.3 126.3L334.8 126.7L334.3 127.1L333.7 127.5L333.2 127.8L332.6 128.2L332.1 128.6L331.5 129.0L331.0 129.3L330.4 129.7L329.9 130.1L329.4 130.4L328.8 130.8L328.3 131.2L327.7 131.5L327.2 131.9L326.6 132.2L326.1 132.5" stroke="#008000"/>
<path d="M326.1 116.0L326.6 113.8L327.2 111.6L327.7 109.5L328.3 107.6L328.8 105.8L329.4 104.1L329.9 102.7L330.4 101.4L331.0 100.2L331.5 99.1L332.1 98.0L332.6 97.0L333.2 96.0L333.7 95.0L334.3 94.0L334.8 93.0L335.3 91.9L335.9 90.9L336.4 89.9L337.0 88.9L337.5 87.9L338.1 87.0L338.6 86.1L339.1 85.2L339.7 84.4L340.2 83.6L340.8 82.8L341.3 82.1L341.9 81.3L342.4 80.6L343.0 79.9L343.5 79.2L344.0 78.5L344.6 77.9L345.1 77.2L345.7 76.6L346.2 76.0L346.8 75.4L347.3 74.8L347.8 74.2L348.4 73.6L348.9 73.0L349.5 72.5L350.0 71.9L350.6 71.4L351.1 70.8L351.6 70.3L352.2 69.8L352.7 69.2L353.3 68.7L353.8 68.2L354.4 67.7L354.9 67.3L355.5 66.8L356.0 66.3L356.5 65.8L357.1 65.4L357.6 64.9L358.2 64.5L358.7 64.1L359.3 63.6L359.8 63.2L360.3 62.8L360.9 62.4L361.4 62.0L362.0 61.7L362.5 61.3L363.1 61.0L363.6 60.6L364.2 60.3L364.7 60.0L365.2 59.7L365.8 59.3L366.3 59.0L366.9 58.7L367.4 58.5L368.0 58.2L368.5 57.9L369.0 57.7L369.6 57.4L370.1 57.2L370.7 56.9L371.2 56.7L371.8 56.5L372.3 56.3L372.9 56.1L373.4 55.9L373.9 55.7L374.5 55.5L375.0 55.3L375.6 55.1L376.1 54.9L376.7 54.7L377.2 54.5L377.7 54.3L378.3 54.1L378.8 54.0L379.4 53.8L379.9 53.6L380.5 53.4L381.0 53.2L381.5 53.1L382.1 52.9L382.6 52.7L383.2 52.6L383.7 52.4L384.3 52.2L384.8 52.1L385.4 51.9L385.9 51.8L386.4 51.6L387.0 51.4L387.5 51.3L388.1 51.1L388.6 51.0L389.2 50.8L389.7 50.6L390.2 50.5L390.8 50.3L391.3 50.1L391.9 50.0L392.4 49.8L393.0 49.6L393.5 49.5L394.1 49.3L394.6 49.1L395.1 49.0L395.7 48.8L396.2 48.7L396.8 48.5L397.3 48.4L397.9 48.4L398.4 48.3L398.9 48.2L399.5 48.2L400.0 48.1L400.6 48.1L401.1 48.1L401.7 48.1L402.2 48.1L402.7 48.1L403.3 48.1L403.8 48.0L404.4 48.0L404.9 48.0L405.5 48.0L406.0 48.0L406.6 48.0L407.1 47.9L407.6 47.9L408.2 47.9L408.7 47.8L409.3 47.7L409.8 47.6L410.4 47.5L410.9 47.4L411.4 47.3L412.0 47.1L412.5 46.9L413.1 46.7L413.6 46.5L414.2 46.2L414.7 45.9L415.3 45.5L415.8 45.1L416.3 44.7L416.9 44.2L417.4 43.8L418.0 43.3L418.5 42.9L419.1 42.5L419.6 42.1L420.1 41.6L420.7 41.1L421.2 40.7L421.8 40.3L422.3 39.9L422.9 39.5L423.4 39.2L423.9 39.0L424.5 38.8L425.0 38.6L425.6 38.4L426.1 38.3L426.7 38.1L427.2 38.1L427.8 38.0L428.3 38.0L428.8 38.0L429.4 38.1L429.9 38.1L430.5 38.2L431.0 38.2L431.6 38.3L432.1 38.4L432.6 38.5L433.2 38.6L433.7 38.7L434.3 38.9L434.8 39.0L435.4 39.2L435.9 39.3L436.5 39.5L437.0 39.6L437.5 39.7L438.1 39.8L438.6 39.9L439.2 40.0L439.7 40.0L440.3 40.1L440.8 40.2L441.3 40.3L441.9 40.3L442.4 40.4L443.0 40.5L443.5 40.5L444.1 40.6L444.6 40.6L445.2 40.7L445.7 40.7L446.2 40.8L446.8 40.8L447.3 40.9L447.9 40.9L448.4 41.0L449.0 41.0L449.5 41.0L450.0 41.1L450.6 41.1L451.1 41.1L451.7 41.2L452.2 41.2L452.8 41.2L453.3 41.2L453.8 41.2L454.4 41.3L454.9 41.3L455.5 41.3L456.0 41.3L456.6 41.3L457.1 41.3L457.7 41.4L458.2 41.4L458.7 41.4L459.3 41.4L459.8 41.4L460.4 41.4L460.9 41.4L461.5 41.4L462.0 41.4L462.5 41.4L463.1 41.4L463.6 41.4L464.2 41.4L464.7 41.4L465.3 41.4L465.8 41.4L466.4 41.4L466.9 41.4L467.4 41.4L468.0 41.4L468.5 41.4L469.1 41.4L469.6 41.4L470.2 41.4L470.7 41.4L471.2 41.4L471.8 41.4L472.3 41.4L472.9 41.4L473.4 41.4L474.0 41.4L474.5 41.4L475.0 41.4L475.6 41.4L476.1 41.4L476.7 41.4L477.2 41.4L477.8 41.4L478.3 41.4L478.9 41.3L479.4 41.3L479.9 41.3L480.5 41.3L481.0 41.3L481.6 41.3L482.1 41.3L482.7 41.3L483.2 41.3L483.7 41.3L484.3 41.3L484.8 41.3L485.4 41.3L485.9 41.3L486.5 41.3L487.0 41.3L487.6 41.3L488.1 41.3L488.6 41.2L489.2 41.2L489.7 41.2L490.3 41.2L490.8 41.2L491.4 41.2L491.9 41.2L492.4 41.2L493.0 41.2L493.5 41.2L494.1 41.2L494.6 41.1L495.2 41.1L495.7 41.1L496.2 41.1L496.8 41.1L497.3 41.1L497.9 41.1L498.4 41.1L499.0 41.0L499.5 41.0L500.1 41.0L500.6 41.0L501.1 41.0L501.7 41.0L502.2 41.0L502.8 40.9L503.3 40.9L503.9 40.9L504.4 40.9L504.9 40.9L505.5 40.9L506.0 40.8L506.6 40.8L507.1 40.8L507.7 40.8L508.2 40.8L508.8 40.8L509.3 40.7L509.8 40.7L510.4 40.7L510.9 40.7L511.5 40.7L512.0 40.6L512.6 40.6L513.1 40.6L513.6 40.6L514.2 40.5L514.7 40.5L515.3 40.5L515.8 40.5L516.4 40.4L516.9 40.4L517.5 40.4L518.0 40.4L518.5 40.3L519.1 40.3L519.6 40.3L520.2 40.2L520.7 40.2L521.3 40.2L521.8 40.2L522.3 40.1L522.9 40.1L523.4 40.1L524.0 40.0L524.5 40.0L525.1 39.9L525.6 39.9L526.1 39.9L526.7 39.8L527.2 39.8L527.8 39.7L528.3 39.7L528.9 39.7L529.4 39.6L530.0 39.6L530.5 39.5L531.0 39.5L531.6 39.4L532.1 39.3L532.7 39.3L533.2 39.2L533.8 39.1L534.3 39.1L534.8 39.0L535.4 38.9L535.9 38.9L536.5 38.8L537.0 38.7L537.6 38.6L538.1 38.5L538.7 38.5L539.2 38.4L539.7 38.3L540.3 38.2L540.8 38.1L541.4 38.0L541.9 37.9L542.5 37.8L543.0 37.7L543.0 39.2L542.5 41.2L541.9 42.7L541.4 43.5L540.8 44.1L540.3 44.6L539.7 45.0L539.2 45.3L538.7 45.6L538.1 45.7L537.6 45.9L537.0 46.1L536.5 46.2L535.9 46.3L535.4 46.4L534.8 46.5L534.3 46.6L533.8 46.6L533.2 46.7L532.7 46.8L532.1 46.9L531.6 46.9L531.0 47.0L530.5 47.0L530.0 47.1L529.4 47.2L528.9 47.2L528.3 47.3L527.8 47.3L527.2 47.4L526.7 47.4L526.1 47.4L525.6 47.5L525.1 47.5L524.5 47.6L524.0 47.6L523.4 47.6L522.9 47.7L522.3 47.7L521.8 47.8L521.3 47.8L520.7 47.8L520.2 47.9L519.6 47.9L519.1 48.0L518.5 48.0L518.0 48.0L517.5 48.1L516.9 48.1L516.4 48.1L515.8 48.2L515.3 48.2L514.7 48.2L514.2 48.3L513.6 48.3L513.1 48.3L512.6 48.4L512.0 48.4L511.5 48.4L510.9 48.5L510.4 48.5L509.8 48.5L509.3 48.6L508.8 48.6L508.2 48.6L507.7 48.6L507.1 48.7L506.6 48.7L506.0 48.7L505.5 48.7L504.9 48.8L504.4 48.8L503.9 48.8L503.3 48.9L502.8 48.9L502.2 48.9L501.7 48.9L501.1 49.0L500.6 49.0L500.1 49.0L499.5 49.0L499.0 49.1L498.4 49.1L497.9 49.1L497.3 49.1L496.8 49.2L496.2 49.2L495.7 49.2L495.2 49.2L494.6 49.3L494.1 49.3L493.5 49.3L493.0 49.3L492.4 49.4L491.9 49.4L491.4 49.4L490.8 49.4L490.3 49.5L489.7 49.5L489.2 49.5L488.6 49.6L488.1 49.6L487.6 49.6L487.0 49.6L486.5 49.7L485.9 49.7L485.4 49.7L484.8 49.8L484.3 49.8L483.7 49.8L483.2 49.8L482.7 49.9L482.1 49.9L481.6 49.9L481.0 49.9L480.5 50.0L479.9 50.0L479.4 50.0L478.9 50.0L478.3 50.1L477.8 50.1L477.2 50.1L476.7 50.1L476.1 50.2L475.6 50.2L475.0 50.2L474.5 50.2L474.0 50.3L473.4 50.3L472.9 50.3L472.3 50.3L471.8 50.3L471.2 50.4L470.7 50.4L470.2 50.4L469.6 50.4L469.1 50.5L468.5 50.5L468.0 50.5L467.4 50.5L466.9 50.5L466.4 50.6L465.8 50.6L465.3 50.6L464.7 50.6L464.2 50.7L463.6 50.7L463.1 50.7L462.5 50.7L462.0 50.7L461.5 50.8L460.9 50.8L460.4 50.8L459.8 50.8L459.3 50.9L458.7 50.9L458.2 50.9L457.7 50.9L457.1 50.9L456.6 51.0L456.0 51.0L455.5 51.0L454.9 51.0L454.4 51.1L453.8 51.1L453.3 51.1L452.8 51.1L452.2 51.2L451.7 51.2L451.1 51.2L450.6 51.2L450.0 51.3L449.5 51.3L449.0 51.3L448.4 51.4L447.9 51.4L447.3 51.4L446.8 51.5L446.2 51.5L445.7 51.5L445.2 51.6L444.6 51.6L444.1 51.6L443.5 51.7L443.0 51.7L442.4 51.7L441.9 51.7L441.3 51.8L440.8 51.8L440.3 51.9L439.7 51.9L439.2 51.9L438.6 52.0L438.1 52.1L437.5 52.1L437.0 52.2L436.5 52.3L435.9 52.3L435.4 52.4L434.8 52.5L434.3 52.5L433.7 52.6L433.2 52.7L432.6 52.8L432.1 52.8L431.6 52.9L431.0 53.0L430.5 53.2L429.9 53.3L429.4 53.5L428.8 53.7L428.3 54.0L427.8 54.2L427.2 54.4L426.7 54.7L426.1 54.9L425.6 55.2L425.0 55.4L424.5 55.7L423.9 56.0L423.4 56.3L422.9 56.6L422.3 56.8L421.8 57.1L421.2 57.4L420.7 57.7L420.1 57.9L419.6 58.2L419.1 58.5L418.5 58.7L418.0 58.9L417.4 59.1L416.9 59.2L416.3 59.4L415.8 59.6L415.3 59.8L414.7 60.0L414.2 60.3L413.6 60.5L413.1 60.7L412.5 60.9L412.0 61.2L411.4 61.4L410.9 61.6L410.4 61.8L409.8 62.0L409.3 62.2L408.7 62.4L408.2 62.6L407.6 62.8L407.1 63.0L406.6 63.2L406.0 63.4L405.5 63.7L404.9 64.0L404.4 64.2L403.8 64.5L403.3 64.8L402.7 65.1L402.2 65.3L401.7 65.6L401.1 65.8L400.6 66.0L400.0 66.2L399.5 66.5L398.9 66.7L398.4 67.0L397.9 67.2L397.3 67.5L396.8 67.8L396.2 68.2L395.7 68.5L395.1 68.8L394.6 69.2L394.1 69.6L393.5 69.9L393.0 70.3L392.4 70.7L391.9 71.1L391.3 71.5L390.8 71.9L390.2 72.3L389.7 72.7L389.2 73.1L388.6 73.5L388.1 73.9L387.5 74.3L387.0 74.7L386.4 75.1L385.9 75.5L385.4 75.8L384.8 76.2L384.3 76.5L383.7 76.9L383.2 77.2L382.6 77.6L382.1 78.0L381.5 78.3L381.0 78.7L380.5 79.1L379.9 79.5L379.4 79.9L378.8 80.3L378.3 80.7L377.7 81.2L377.2 81.6L376.7 82.1L376.1 82.6L375.6 83.0L375.0 83.5L374.5 84.0L373.9 84.5L373.4 84.9L372.9 85.4L372.3 85.9L371.8 86.4L371.2 86.9L370.7 87.3L370.1 87.8L369.6 88.3L369.0 88.7L368.5 89.2L368.0 89.6L367.4 90.1L366.9 90.6L366.3 91.0L365.8 91.5L365.2 91.9L364.7 92.4L364.2 92.8L363.6 93.3L363.1 93.8L362.5 94.2L362.0 94.7L361.4 95.1L360.9 95.6L360.3 96.0L359.8 96.5L359.3 97.0L358.7 97.4L358.2 97.9L357.6 98.3L357.1 98.8L356.5 99.3L356.0 99.7L355.5 100.2L354.9 100.7L354.4 101.1L353.8 101.6L353.3 102.0L352.7 102.5L352.2 103.0L351.6 103.4L351.1 103.9L350.6 104.3L350.0 104.7L349.5 105.2L348.9 105.6L348.4 106.0L347.8 106.5L347.3 106.9L346.8 107.3L346.2 107.8L345.7 108.2L345.1 108.6L344.6 109.0L344.0 109.4L343.5 109.9L343.0 110.3L342.4 110.7L341.9 111.1L341.3 111.5L340.8 111.9L340.2 112.3L339.7 112.7L339.1 113.1L338.6 113.6L338.1 114.0L337.5 114.4L337.0 114.8L336.4 115.2L335.9 115.6L335.3 116.0L334.8 116.4L334.3 116.8L333.7 117.1L333.2 117.5L332.6 117.9L332.1 118.3L331.5 118.7L331.0 119.1L330.4 119.5L329.9 119.9L329.4 120.3L328.8 120.7L328.3 121.0L327.7 121.4L327.2 121.8L326.6 122.2L326.1 122.6" stroke="#000080"/>
<path d="M326.1 111.9L326.6 109.5L327.2 107.2L327.7 105.0L328.3 102.9L328.8 101.0L329.4 99.3L329.9 97.9L330.4 96.5L331.0 95.4L331.5 94.3L332.1 93.3L332.6 92.4L333.2 91.4L333.7 90.5L334.3 89.5L334.8 88.5L335.3 87.6L335.9 86.6L336.4 85.6L337.0 84.7L337.5 83.8L338.1 82.9L338.6 82.1L339.1 81.3L339.7 80.5L340.2 79.7L340.8 78.9L341.3 78.1L341.9 77.3L342.4 76.5L343.0 75.8L343.5 75.1L344.0 74.3L344.6 73.6L345.1 72.9L345.7 72.3L346.2 71.6L346.8 71.0L347.3 70.3L347.8 69.7L348.4 69.1L348.9 68.5L349.5 67.9L350.0 67.3L350.6 66.8L351.1 66.2L351.6 65.7L352.2 65.1L352.7 64.6L353.3 64.1L353.8 63.6L354.4 63.1L354.9 62.6L355.5 62.1L356.0 61.7L356.5 61.2L357.1 60.7L357.6 60.3L358.2 59.9L358.7 59.4L359.3 59.0L359.8 58.6L360.3 58.2L360.9 57.8L361.4 57.5L362.0 57.2L362.5 56.9L363.1 56.6L363.6 56.3L364.2 56.1L364.7 55.8L365.2 55.5L365.8 55.3L366.3 55.0L366.9 54.8L367.4 54.5L368.0 54.3L368.5 54.1L369.0 53.9L369.6 53.7L370.1 53.5L370.7 53.3L371.2 53.1L371.8 52.9L372.3 52.7L372.9 52.6L373.4 52.4L373.9 52.2L374.5 52.1L375.0 51.9L375.6 51.7L376.1 51.6L376.7 51.4L377.2 51.3L377.7 51.1L378.3 51.0L378.8 50.8L379.4 50.7L379.9 50.6L380.5 50.4L381.0 50.3L381.5 50.1L382.1 50.0L382.6 49.9L383.2 49.7L383.7 49.6L384.3 49.5L384.8 49.4L385.4 49.2L385.9 49.1L386.4 49.0L387.0 48.9L387.5 48.7L388.1 48.6L388.6 48.5L389.2 48.4L389.7 48.2L390.2 48.1L390.8 48.0L391.3 47.8L391.9 47.7L392.4 47.6L393.0 47.4L393.5 47.3L394.1 47.1L394.6 47.0L395.1 46.9L395.7 46.7L396.2 46.6L396.8 46.5L397.3 46.4L397.9 46.3L398.4 46.3L398.9 46.2L399.5 46.1L400.0 46.1L400.6 46.0L401.1 46.0L401.7 45.9L402.2 45.9L402.7 45.8L403.3 45.8L403.8 45.7L404.4 45.7L404.9 45.6L405.5 45.6L406.0 45.5L406.6 45.4L407.1 45.3L407.6 45.2L408.2 45.1L408.7 45.0L409.3 44.8L409.8 44.7L410.4 44.5L410.9 44.3L411.4 44.0L412.0 43.8L412.5 43.5L413.1 43.2L413.6 42.8L414.2 42.4L414.7 41.9L415.3 41.4L415.8 40.8L416.3 40.2L416.9 39.5L417.4 38.9L418.0 38.2L418.5 37.6L419.1 37.0L419.6 36.3L420.1 35.7L420.7 35.0L421.2 34.3L421.8 33.6L422.3 33.0L422.9 32.5L423.4 32.1L423.9 31.8L424.5 31.5L425.0 31.2L425.6 31.0L426.1 30.8L426.7 30.6L427.2 30.6L427.8 30.5L428.3 30.6L428.8 30.6L429.4 30.7L429.9 30.8L430.5 30.9L431.0 31.1L431.6 31.2L432.1 31.3L432.6 31.5L433.2 31.7L433.7 32.0L434.3 32.3L434.8 32.6L435.4 32.8L435.9 33.1L436.5 33.4L437.0 33.6L437.5 33.7L438.1 33.9L438.6 34.1L439.2 34.3L439.7 34.4L440.3 34.6L440.8 34.7L441.3 34.9L441.9 35.0L442.4 35.1L443.0 35.2L443.5 35.3L444.1 35.5L444.6 35.6L445.2 35.6L445.7 35.7L446.2 35.8L446.8 35.9L447.3 36.0L447.9 36.1L448.4 36.2L449.0 36.2L449.5 36.3L450.0 36.4L450.6 36.4L451.1 36.5L451.7 36.6L452.2 36.6L452.8 36.7L453.3 36.7L453.8 36.7L454.4 36.8L454.9 36.8L455.5 36.9L456.0 36.9L456.6 36.9L457.1 37.0L457.7 37.0L458.2 37.0L458.7 37.0L459.3 37.1L459.8 37.1L460.4 37.1L460.9 37.1L461.5 37.1L462.0 37.1L462.5 37.2L463.1 37.2L463.6 37.2L464.2 37.2L464.7 37.2L465.3 37.2L465.8 37.2L466.4 37.2L466.9 37.2L467.4 37.2L468.0 37.2L468.5 37.2L469.1 37.2L469.6 37.2L470.2 37.2L470.7 37.2L471.2 37.2L471.8 37.2L472.3 37.2L472.9 37.2L473.4 37.2L474.0 37.2L474.5 37.2L475.0 37.2L475.6 37.2L476.1 37.2L476.7 37.2L477.2 37.2L477.8 37.2L478.3 37.2L478.9 37.2L479.4 37.2L479.9 37.2L480.5 37.2L481.0 37.2L481.6 37.2L482.1 37.2L482.7 37.2L483.2 37.2L483.7 37.2L484.3 37.2L484.8 37.2L485.4 37.2L485.9 37.2L486.5 37.2L487.0 37.2L487.6 37.2L488.1 37.2L488.6 37.2L489.2 37.2L489.7 37.2L490.3 37.2L490.8 37.1L491.4 37.1L491.9 37.1L492.4 37.1L493.0 37.1L493.5 37.1L494.1 37.1L494.6 37.1L495.2 37.0L495.7 37.0L496.2 37.0L496.8 37.0L497.3 37.0L497.9 37.0L498.4 36.9L499.0 36.9L499.5 36.9L500.1 36.9L500.6 36.9L501.1 36.9L501.7 36.8L502.2 36.8L502.8 36.8L503.3 36.8L503.9 36.8L504.4 36.7L504.9 36.7L505.5 36.7L506.0 36.7L506.6 36.7L507.1 36.6L507.7 36.6L508.2 36.6L508.8 36.6L509.3 36.6L509.8 36.5L510.4 36.5L510.9 36.5L511.5 36.4L512.0 36.4L512.6 36.4L513.1 36.4L513.6 36.3L514.2 36.3L514.7 36.3L515.3 36.2L515.8 36.2L516.4 36.2L516.9 36.1L517.5 36.1L518.0 36.1L518.5 36.0L519.1 36.0L519.6 36.0L520.2 35.9L520.7 35.9L521.3 35.8L521.8 35.8L522.3 35.8L522.9 35.7L523.4 35.7L524.0 35.6L524.5 35.6L525.1 35.6L525.6 35.5L526.1 35.5L526.7 35.4L527.2 35.3L527.8 35.3L528.3 35.2L528.9 35.2L529.4 35.1L530.0 35.1L530.5 35.0L531.0 34.9L531.6 34.9L532.1 34.8L532.7 34.7L533.2 34.7L533.8 34.6L534.3 34.5L534.8 34.4L535.4 34.4L535.9 34.3L536.5 34.2L537.0 34.1L537.6 34.0L538.1 34.0L538.7 33.9L539.2 33.8L539.7 33.7L540.3 33.6L540.8 33.5L541.4 33.4L541.9 33.3L542.5 33.2L543.0 33.2L543.0 34.5L542.5 37.1L541.9 39.0L541.4 40.0L540.8 40.9L540.3 41.6L539.7 42.1L539.2 42.5L538.7 42.8L538.1 43.1L537.6 43.3L537.0 43.4L536.5 43.6L535.9 43.7L535.4 43.8L534.8 43.9L534.3 44.0L533.8 44.1L533.2 44.2L532.7 44.3L532.1 44.4L531.6 44.5L531.0 44.6L530.5 44.7L530.0 44.8L529.4 44.8L528.9 44.9L528.3 45.0L527.8 45.0L527.2 45.1L526.7 45.2L526.1 45.2L525.6 45.3L525.1 45.3L524.5 45.4L524.0 45.4L523.4 45.5L522.9 45.5L522.3 45.6L521.8 45.6L521.3 45.7L520.7 45.7L520.2 45.8L519.6 45.8L519.1 45.9L518.5 45.9L518.0 46.0L517.5 46.0L516.9 46.1L516.4 46.1L515.8 46.1L515.3 46.2L514.7 46.2L514.2 46.3L513.6 46.3L513.1 46.3L512.6 46.4L512.0 46.4L511.5 46.4L510.9 46.5L510.4 46.5L509.8 46.5L509.3 46.6L508.8 46.6L508.2 46.6L507.7 46.6L507.1 46.7L506.6 46.7L506.0 46.7L505.5 46.8L504.9 46.8L504.4 46.8L503.9 46.8L503.3 46.9L502.8 46.9L502.2 46.9L501.7 46.9L501.1 47.0L500.6 47.0L500.1 47.0L499.5 47.0L499.0 47.1L498.4 47.1L497.9 47.1L497.3 47.1L496.8 47.2L496.2 47.2L495.7 47.2L495.2 47.2L494.6 47.3L494.1 47.3L493.5 47.3L493.0 47.3L492.4 47.4L491.9 47.4L491.4 47.4L490.8 47.4L490.3 47.5L489.7 47.5L489.2 47.5L488.6 47.6L488.1 47.6L487.6 47.6L487.0 47.7L486.5 47.7L485.9 47.7L485.4 47.8L484.8 47.8L484.3 47.8L483.7 47.9L483.2 47.9L482.7 47.9L482.1 47.9L481.6 48.0L481.0 48.0L480.5 48.0L479.9 48.1L479.4 48.1L478.9 48.1L478.3 48.2L477.8 48.2L477.2 48.2L476.7 48.2L476.1 48.3L475.6 48.3L475.0 48.3L474.5 48.3L474.0 48.4L473.4 48.4L472.9 48.4L472.3 48.4L471.8 48.5L471.2 48.5L470.7 48.5L470.2 48.5L469.6 48.6L469.1 48.6L468.5 48.6L468.0 48.7L467.4 48.7L466.9 48.7L466.4 48.7L465.8 48.8L465.3 48.8L464.7 48.8L464.2 48.8L463.6 48.9L463.1 48.9L462.5 48.9L462.0 48.9L461.5 49.0L460.9 49.0L460.4 49.0L459.8 49.1L459.3 49.1L458.7 49.1L458.2 49.1L457.7 49.2L457.1 49.2L456.6 49.2L456.0 49.3L455.5 49.3L454.9 49.3L454.4 49.4L453.8 49.4L453.3 49.4L452.8 49.5L452.2 49.5L451.7 49.6L451.1 49.6L450.6 49.6L450.0 49.7L449.5 49.7L449.0 49.8L448.4 49.8L447.9 49.9L447.3 49.9L446.8 50.0L446.2 50.0L445.7 50.1L445.2 50.1L444.6 50.2L444.1 50.2L443.5 50.3L443.0 50.3L442.4 50.4L441.9 50.5L441.3 50.5L440.8 50.6L440.3 50.6L439.7 50.7L439.2 50.8L438.6 50.9L438.1 51.0L437.5 51.1L437.0 51.2L436.5 51.3L435.9 51.4L435.4 51.6L434.8 51.7L434.3 51.8L433.7 51.9L433.2 52.0L432.6 52.2L432.1 52.3L431.6 52.5L431.0 52.7L430.5 52.9L429.9 53.1L429.4 53.4L428.8 53.8L428.3 54.1L427.8 54.5L427.2 54.8L426.7 55.2L426.1 55.6L425.6 55.9L425.0 56.3L424.5 56.7L423.9 57.1L423.4 57.5L422.9 57.9L422.3 58.3L421.8 58.6L421.2 59.0L420.7 59.3L420.1 59.7L419.6 60.0L419.1 60.3L418.5 60.5L418.0 60.7L417.4 60.8L416.9 61.0L416.3 61.1L415.8 61.3L415.3 61.4L414.7 61.6L414.2 61.7L413.6 61.9L413.1 62.0L412.5 62.2L412.0 62.3L411.4 62.4L410.9 62.5L410.4 62.7L409.8 62.8L409.3 62.9L408.7 63.0L408.2 63.1L407.6 63.2L407.1 63.3L406.6 63.4L406.0 63.5L405.5 63.7L404.9 63.9L404.4 64.2L403.8 64.5L403.3 64.7L402.7 64.9L402.2 65.1L401.7 65.3L401.1 65.4L400.6 65.6L400.0 65.8L399.5 65.9L398.9 66.1L398.4 66.3L397.9 66.4L397.3 66.6L396.8 66.9L396.2 67.1L395.7 67.3L395.1 67.5L394.6 67.8L394.1 68.0L393.5 68.3L393.0 68.5L392.4 68.8L391.9 69.0L391.3 69.3L390.8 69.5L390.2 69.8L389.7 70.0L389.2 70.3L388.6 70.5L388.1 70.8L387.5 71.0L387.0 71.3L386.4 71.5L385.9 71.8L385.4 72.0L384.8 72.3L384.3 72.5L383.7 72.8L383.2 73.0L382.6 73.3L382.1 73.6L381.5 73.9L381.0 74.2L380.5 74.5L379.9 74.8L379.4 75.1L378.8 75.4L378.3 75.8L377.7 76.1L377.2 76.5L376.7 76.9L376.1 77.3L375.6 77.7L375.0 78.1L374.5 78.5L373.9 78.9L373.4 79.4L372.9 79.8L372.3 80.2L371.8 80.6L371.2 81.0L370.7 81.4L370.1 81.8L369.6 82.2L369.0 82.6L368.5 83.0L368.0 83.4L367.4 83.8L366.9 84.2L366.3 84.6L365.8 85.0L365.2 85.4L364.7 85.8L364.2 86.1L363.6 86.5L363.1 86.9L362.5 87.3L362.0 87.7L361.4 88.1L360.9 88.5L360.3 88.9L359.8 89.3L359.3 89.8L358.7 90.2L358.2 90.6L357.6 91.0L357.1 91.4L356.5 91.8L356.0 92.2L355.5 92.7L354.9 93.1L354.4 93.5L353.8 93.9L353.3 94.4L352.7 94.8L352.2 95.2L351.6 95.6L351.1 96.0L350.6 96.4L350.0 96.9L349.5 97.3L348.9 97.7L348.4 98.1L347.8 98.5L347.3 98.9L346.8 99.3L346.2 99.7L345.7 100.2L345.1 100.6L344.6 101.0L344.0 101.4L343.5 101.8L343.0 102.2L342.4 102.6L341.9 103.0L341.3 103.4L340.8 103.8L340.2 104.2L339.7 104.7L339.1 105.1L338.6 105.5L338.1 105.9L337.5 106.3L337.0 106.7L336.4 107.1L335.9 107.5L335.3 107.9L334.8 108.3L334.3 108.7L333.7 109.1L333.2 109.5L332.6 109.9L332.1 110.3L331.5 110.7L331.0 111.2L330.4 111.6L329.9 112.0L329.4 112.4L328.8 112.8L328.3 113.2L327.7 113.6L327.2 114.0L326.6 114.4L326.1 114.8" stroke="#8000ff"/>
<path d="M326.1 108.6L326.6 105.9L327.2 103.4L327.7 101.0L328.3 98.8L328.8 96.8L329.4 94.9L329.9 93.3L330.4 91.9L331.0 90.7L331.5 89.6L332.1 88.5L332.6 87.5L333.2 86.6L333.7 85.6L334.3 84.6L334.8 83.6L335.3 82.6L335.9 81.5L336.4 80.6L337.0 79.6L337.5 78.6L338.1 77.7L338.6 76.8L339.1 76.0L339.7 75.2L340.2 74.5L340.8 73.7L341.3 73.0L341.9 72.3L342.4 71.6L343.0 70.9L343.5 70.3L344.0 69.6L344.6 69.0L345.1 68.4L345.7 67.8L346.2 67.2L346.8 66.7L347.3 66.1L347.8 65.6L348.4 65.0L348.9 64.5L349.5 64.0L350.0 63.5L350.6 63.1L351.1 62.6L351.6 62.1L352.2 61.7L352.7 61.3L353.3 60.8L353.8 60.4L354.4 60.0L354.9 59.6L355.5 59.2L356.0 58.8L356.5 58.4L357.1 58.1L357.6 57.7L358.2 57.4L358.7 57.0L359.3 56.7L359.8 56.3L360.3 56.0L360.9 55.7L361.4 55.4L362.0 55.1L362.5 54.9L363.1 54.6L363.6 54.4L364.2 54.1L364.7 53.8L365.2 53.6L365.8 53.4L366.3 53.1L366.9 52.9L367.4 52.7L368.0 52.5L368.5 52.3L369.0 52.1L369.6 51.9L370.1 51.7L370.7 51.5L371.2 51.4L371.8 51.2L372.3 51.0L372.9 50.9L373.4 50.7L373.9 50.6L374.5 50.4L375.0 50.3L375.6 50.1L376.1 50.0L376.7 49.9L377.2 49.7L377.7 49.6L378.3 49.5L378.8 49.3L379.4 49.2L379.9 49.1L380.5 49.0L381.0 48.8L381.5 48.7L382.1 48.6L382.6 48.5L383.2 48.4L383.7 48.3L384.3 48.2L384.8 48.0L385.4 47.9L385.9 47.8L386.4 47.7L387.0 47.6L387.5 47.5L388.1 47.4L388.6 47.3L389.2 47.2L389.7 47.0L390.2 46.9L390.8 46.8L391.3 46.7L391.9 46.6L392.4 46.4L393.0 46.3L393.5 46.2L394.1 46.1L394.6 45.9L395.1 45.8L395.7 45.7L396.2 45.6L396.8 45.5L397.3 45.3L397.9 45.2L398.4 45.1L398.9 45.0L399.5 44.9L400.0 44.8L400.6 44.7L401.1 44.6L401.7 44.4L402.2 44.3L402.7 44.2L403.3 44.1L403.8 43.9L404.4 43.8L404.9 43.6L405.5 43.5L406.0 43.3L406.6 43.1L407.1 42.9L407.6 42.7L408.2 42.5L408.7 42.3L409.3 42.0L409.8 41.7L410.4 41.4L410.9 41.1L411.4 40.7L412.0 40.3L412.5 39.9L413.1 39.5L413.6 39.0L414.2 38.5L414.7 37.8L415.3 37.1L415.8 36.3L416.3 35.5L416.9 34.6L417.4 33.8L418.0 32.9L418.5 32.1L419.1 31.2L419.6 30.4L420.1 29.5L420.7 28.5L421.2 27.6L421.8 26.7L422.3 25.9L422.9 25.2L423.4 24.7L423.9 24.3L424.5 23.9L425.0 23.5L425.6 23.2L426.1 23.0L426.7 22.8L427.2 22.7L427.8 22.7L428.3 22.8L428.8 22.9L429.4 23.0L429.9 23.2L430.5 23.4L431.0 23.6L431.6 23.8L432.1 24.0L432.6 24.3L433.2 24.6L433.7 25.0L434.3 25.4L434.8 25.8L435.4 26.2L435.9 26.6L436.5 27.0L437.0 27.3L437.5 27.5L438.1 27.8L438.6 28.1L439.2 28.3L439.7 28.5L440.3 28.8L440.8 29.0L441.3 29.2L441.9 29.4L442.4 29.6L443.0 29.8L443.5 29.9L444.1 30.1L444.6 30.2L445.2 30.4L445.7 30.5L446.2 30.7L446.8 30.8L447.3 30.9L447.9 31.0L448.4 31.2L449.0 31.3L449.5 31.4L450.0 31.5L450.6 31.6L451.1 31.7L451.7 31.8L452.2 31.8L452.8 31.9L453.3 32.0L453.8 32.1L454.4 32.1L454.9 32.2L455.5 32.2L456.0 32.3L456.6 32.3L457.1 32.4L457.7 32.4L458.2 32.5L458.7 32.5L459.3 32.6L459.8 32.6L460.4 32.6L460.9 32.7L461.5 32.7L462.0 32.7L462.5 32.7L463.1 32.7L463.6 32.7L464.2 32.7L464.7 32.8L465.3 32.8L465.8 32.8L466.4 32.8L466.9 32.8L467.4 32.8L468.0 32.8L468.5 32.8L469.1 32.8L469.6 32.9L470.2 32.9L470.7 32.9L471.2 32.9L471.8 32.9L472.3 32.9L472.9 32.9L473.4 32.9L474.0 32.9L474.5 32.9L475.0 32.9L475.6 32.9L476.1 32.9L476.7 32.9L477.2 32.9L477.8 32.9L478.3 33.0L478.9 33.0L479.4 33.0L479.9 33.0L480.5 33.0L481.0 33.0L481.6 33.0L482.1 33.0L482.7 33.0L483.2 33.0L483.7 33.0L484.3 33.0L484.8 33.0L485.4 33.0L485.9 33.0L486.5 33.0L487.0 33.0L487.6 33.0L488.1 32.9L488.6 32.9L489.2 32.9L489.7 32.9L490.3 32.9L490.8 32.9L491.4 32.9L491.9 32.9L492.4 32.9L493.0 32.8L493.5 32.8L494.1 32.8L494.6 32.8L495.2 32.8L495.7 32.8L496.2 32.7L496.8 32.7L497.3 32.7L497.9 32.7L498.4 32.7L499.0 32.6L499.5 32.6L500.1 32.6L500.6 32.6L501.1 32.6L501.7 32.5L502.2 32.5L502.8 32.5L503.3 32.5L503.9 32.4L504.4 32.4L504.9 32.4L505.5 32.4L506.0 32.4L506.6 32.3L507.1 32.3L507.7 32.3L508.2 32.2L508.8 32.2L509.3 32.2L509.8 32.2L510.4 32.1L510.9 32.1L511.5 32.1L512.0 32.0L512.6 32.0L513.1 32.0L513.6 31.9L514.2 31.9L514.7 31.8L515.3 31.8L515.8 31.8L516.4 31.7L516.9 31.7L517.5 31.6L518.0 31.6L518.5 31.6L519.1 31.5L519.6 31.5L520.2 31.4L520.7 31.4L521.3 31.3L521.8 31.3L522.3 31.2L522.9 31.2L523.4 31.1L524.0 31.1L524.5 31.0L525.1 31.0L525.6 30.9L526.1 30.8L526.7 30.8L527.2 30.7L527.8 30.7L528.3 30.6L528.9 30.5L529.4 30.4L530.0 30.4L530.5 30.3L531.0 30.2L531.6 30.2L532.1 30.1L532.7 30.0L533.2 29.9L533.8 29.8L534.3 29.8L534.8 29.7L535.4 29.6L535.9 29.5L536.5 29.4L537.0 29.4L537.6 29.3L538.1 29.2L538.7 29.1L539.2 29.0L539.7 28.9L540.3 28.8L540.8 28.7L541.4 28.7L541.9 28.6L542.5 28.5L543.0 28.4L543.0 29.8L542.5 33.0L541.9 35.2L541.4 36.6L540.8 37.7L540.3 38.6L539.7 39.3L539.2 39.8L538.7 40.1L538.1 40.4L537.6 40.6L537.0 40.8L536.5 41.0L535.9 41.1L535.4 41.3L534.8 41.4L534.3 41.5L533.8 41.7L533.2 41.8L532.7 41.9L532.1 42.0L531.6 42.1L531.0 42.2L530.5 42.3L530.0 42.4L529.4 42.5L528.9 42.6L528.3 42.7L527.8 42.8L527.2 42.8L526.7 42.9L526.1 43.0L525.6 43.1L525.1 43.1L524.5 43.2L524.0 43.3L523.4 43.3L522.9 43.4L522.3 43.5L521.8 43.5L521.3 43.6L520.7 43.6L520.2 43.7L519.6 43.7L519.1 43.8L518.5 43.9L518.0 43.9L517.5 44.0L516.9 44.0L516.4 44.1L515.8 44.1L515.3 44.1L514.7 44.2L514.2 44.2L513.6 44.3L513.1 44.3L512.6 44.4L512.0 44.4L511.5 44.4L510.9 44.5L510.4 44.5L509.8 44.5L509.3 44.6L508.8 44.6L508.2 44.6L507.7 44.7L507.1 44.7L506.6 44.7L506.0 44.7L505.5 44.8L504.9 44.8L504.4 44.8L503.9 44.8L503.3 44.9L502.8 44.9L502.2 44.9L501.7 44.9L501.1 45.0L500.6 45.0L500.1 45.0L499.5 45.0L499.0 45.1L498.4 45.1L497.9 45.1L497.3 45.1L496.8 45.2L496.2 45.2L495.7 45.2L495.2 45.2L494.6 45.3L494.1 45.3L493.5 45.3L493.0 45.3L492.4 45.4L491.9 45.4L491.4 45.4L490.8 45.4L490.3 45.5L489.7 45.5L489.2 45.5L488.6 45.6L488.1 45.6L487.6 45.6L487.0 45.7L486.5 45.7L485.9 45.8L485.4 45.8L484.8 45.8L484.3 45.9L483.7 45.9L483.2 45.9L482.7 46.0L482.1 46.0L481.6 46.0L481.0 46.1L480.5 46.1L479.9 46.1L479.4 46.2L478.9 46.2L478.3 46.2L477.8 46.3L477.2 46.3L476.7 46.3L476.1 46.4L475.6 46.4L475.0 46.4L474.5 46.5L474.0 46.5L473.4 46.5L472.9 46.5L472.3 46.6L471.8 46.6L471.2 46.6L470.7 46.7L470.2 46.7L469.6 46.7L469.1 46.7L468.5 46.8L468.0 46.8L467.4 46.8L466.9 46.9L466.4 46.9L465.8 46.9L465.3 47.0L464.7 47.0L464.2 47.0L463.6 47.0L463.1 47.1L462.5 47.1L462.0 47.1L461.5 47.2L460.9 47.2L460.4 47.2L459.8 47.3L459.3 47.3L458.7 47.4L458.2 47.4L457.7 47.4L457.1 47.5L456.6 47.5L456.0 47.5L455.5 47.6L454.9 47.6L454.4 47.7L453.8 47.7L453.3 47.8L452.8 47.8L452.2 47.9L451.7 47.9L451.1 48.0L450.6 48.0L450.0 48.1L449.5 48.1L449.0 48.2L448.4 48.3L447.9 48.3L447.3 48.4L446.8 48.5L446.2 48.6L445.7 48.6L445.2 48.7L444.6 48.8L444.1 48.9L443.5 48.9L443.0 49.0L442.4 49.1L441.9 49.2L441.3 49.2L440.8 49.3L440.3 49.4L439.7 49.5L439.2 49.6L438.6 49.8L438.1 49.9L437.5 50.1L437.0 50.2L436.5 50.4L435.9 50.6L435.4 50.7L434.8 50.9L434.3 51.1L433.7 51.2L433.2 51.4L432.6 51.6L432.1 51.8L431.6 52.0L431.0 52.3L430.5 52.6L429.9 52.9L429.4 53.4L428.8 53.8L428.3 54.3L427.8 54.7L427.2 55.2L426.7 55.7L426.1 56.2L425.6 56.7L425.0 57.2L424.5 57.7L423.9 58.3L423.4 58.8L422.9 59.3L422.3 59.8L421.8 60.2L421.2 60.6L420.7 61.0L420.1 61.4L419.6 61.8L419.1 62.1L418.5 62.4L418.0 62.5L417.4 62.6L416.9 62.7L416.3 62.8L415.8 62.9L415.3 63.0L414.7 63.1L414.2 63.1L413.6 63.2L413.1 63.3L412.5 63.3L412.0 63.4L411.4 63.4L410.9 63.4L410.4 63.4L409.8 63.4L409.3 63.4L408.7 63.4L408.2 63.4L407.6 63.4L407.1 63.5L406.6 63.5L406.0 63.6L405.5 63.7L404.9 63.9L404.4 64.2L403.8 64.4L403.3 64.6L402.7 64.8L402.2 65.0L401.7 65.2L401.1 65.3L400.6 65.5L400.0 65.6L399.5 65.8L398.9 66.0L398.4 66.1L397.9 66.3L397.3 66.5L396.8 66.7L396.2 66.9L395.7 67.2L395.1 67.4L394.6 67.6L394.1 67.9L393.5 68.1L393.0 68.3L392.4 68.6L391.9 68.8L391.3 69.1L390.8 69.3L390.2 69.5L389.7 69.8L389.2 70.0L388.6 70.2L388.1 70.5L387.5 70.7L387.0 70.9L386.4 71.2L385.9 71.4L385.4 71.6L384.8 71.9L384.3 72.1L383.7 72.4L383.2 72.6L382.6 72.9L382.1 73.2L381.5 73.4L381.0 73.7L380.5 74.0L379.9 74.3L379.4 74.6L378.8 75.0L378.3 75.3L377.7 75.7L377.2 76.0L376.7 76.4L376.1 76.8L375.6 77.2L375.0 77.6L374.5 78.0L373.9 78.4L373.4 78.8L372.9 79.2L372.3 79.7L371.8 80.1L371.2 80.5L370.7 80.9L370.1 81.3L369.6 81.6L369.0 82.0L368.5 82.4L368.0 82.8L367.4 83.2L366.9 83.6L366.3 84.0L365.8 84.3L365.2 84.7L364.7 85.1L364.2 85.5L363.6 85.9L363.1 86.3L362.5 86.7L362.0 87.1L361.4 87.5L360.9 87.9L360.3 88.3L359.8 88.7L359.3 89.1L358.7 89.5L358.2 89.9L357.6 90.3L357.1 90.7L356.5 91.1L356.0 91.5L355.5 92.0L354.9 92.4L354.4 92.8L353.8 93.2L353.3 93.6L352.7 94.0L352.2 94.5L351.6 94.9L351.1 95.3L350.6 95.7L350.0 96.1L349.5 96.5L348.9 96.9L348.4 97.3L347.8 97.8L347.3 98.2L346.8 98.6L346.2 99.0L345.7 99.4L345.1 99.8L344.6 100.2L344.0 100.6L343.5 101.0L343.0 101.4L342.4 101.8L341.9 102.3L341.3 102.7L340.8 103.1L340.2 103.5L339.7 103.9L339.1 104.3L338.6 104.7L338.1 105.1L337.5 105.5L337.0 105.9L336.4 106.3L335.9 106.7L335.3 107.1L334.8 107.6L334.3 108.0L333.7 108.4L333.2 108.8L332.6 109.2L332.1 109.6L331.5 110.0L331.0 110.4L330.4 110.8L329.9 111.2L329.4 111.6L328.8 112.0L328.3 112.4L327.7 112.8L327.2 113.2L326.6 113.6L326.1 114.0" stroke="#800080"/>
<path d="M326.1 104.5L326.6 101.6L327.2 98.9L327.7 96.4L328.3 94.0L328.8 91.8L329.4 89.9L329.9 88.3L330.4 86.8L331.0 85.6L331.5 84.4L332.1 83.4L332.6 82.4L333.2 81.5L333.7 80.5L334.3 79.5L334.8 78.5L335.3 77.5L335.9 76.6L336.4 75.6L337.0 74.6L337.5 73.7L338.1 72.8L338.6 72.0L339.1 71.2L339.7 70.4L340.2 69.7L340.8 69.0L341.3 68.4L341.9 67.7L342.4 67.1L343.0 66.5L343.5 65.9L344.0 65.3L344.6 64.8L345.1 64.2L345.7 63.7L346.2 63.2L346.8 62.7L347.3 62.2L347.8 61.7L348.4 61.3L348.9 60.8L349.5 60.4L350.0 60.0L350.6 59.6L351.1 59.2L351.6 58.8L352.2 58.4L352.7 58.1L353.3 57.7L353.8 57.4L354.4 57.0L354.9 56.7L355.5 56.4L356.0 56.1L356.5 55.8L357.1 55.5L357.6 55.2L358.2 54.9L358.7 54.6L359.3 54.4L359.8 54.1L360.3 53.8L360.9 53.6L361.4 53.3L362.0 53.1L362.5 52.8L363.1 52.6L363.6 52.4L364.2 52.1L364.7 51.9L365.2 51.7L365.8 51.5L366.3 51.3L366.9 51.1L367.4 50.9L368.0 50.7L368.5 50.5L369.0 50.3L369.6 50.1L370.1 50.0L370.7 49.8L371.2 49.6L371.8 49.5L372.3 49.4L372.9 49.2L373.4 49.1L373.9 48.9L374.5 48.8L375.0 48.7L375.6 48.6L376.1 48.4L376.7 48.3L377.2 48.2L377.7 48.1L378.3 48.0L378.8 47.8L379.4 47.7L379.9 47.6L380.5 47.5L381.0 47.4L381.5 47.3L382.1 47.2L382.6 47.1L383.2 47.0L383.7 46.9L384.3 46.8L384.8 46.7L385.4 46.6L385.9 46.5L386.4 46.4L387.0 46.4L387.5 46.3L388.1 46.2L388.6 46.1L389.2 46.0L389.7 45.9L390.2 45.8L390.8 45.6L391.3 45.5L391.9 45.4L392.4 45.3L393.0 45.2L393.5 45.1L394.1 45.0L394.6 44.9L395.1 44.8L395.7 44.7L396.2 44.5L396.8 44.4L397.3 44.3L397.9 44.2L398.4 44.0L398.9 43.9L399.5 43.7L400.0 43.6L400.6 43.4L401.1 43.3L401.7 43.1L402.2 42.9L402.7 42.7L403.3 42.6L403.8 42.4L404.4 42.2L404.9 41.9L405.5 41.7L406.0 41.5L406.6 41.2L407.1 41.0L407.6 40.7L408.2 40.4L408.7 40.1L409.3 39.7L409.8 39.4L410.4 39.0L410.9 38.6L411.4 38.1L412.0 37.6L412.5 37.1L413.1 36.6L413.6 36.0L414.2 35.3L414.7 34.5L415.3 33.7L415.8 32.8L416.3 31.8L416.9 30.7L417.4 29.7L418.0 28.7L418.5 27.7L419.1 26.7L419.6 25.7L420.1 24.6L420.7 23.5L421.2 22.3L421.8 21.2L422.3 20.3L422.9 19.4L423.4 18.8L423.9 18.3L424.5 17.9L425.0 17.4L425.6 17.1L426.1 16.8L426.7 16.6L427.2 16.5L427.8 16.5L428.3 16.6L428.8 16.7L429.4 16.9L429.9 17.1L430.5 17.4L431.0 17.6L431.6 17.9L432.1 18.2L432.6 18.5L433.2 18.9L433.7 19.4L434.3 19.9L434.8 20.5L435.4 21.0L435.9 21.5L436.5 21.9L437.0 22.3L437.5 22.6L438.1 23.0L438.6 23.3L439.2 23.6L439.7 23.9L440.3 24.2L440.8 24.4L441.3 24.7L441.9 25.0L442.4 25.2L443.0 25.4L443.5 25.6L444.1 25.8L444.6 26.0L445.2 26.2L445.7 26.4L446.2 26.6L446.8 26.7L447.3 26.9L447.9 27.1L448.4 27.2L449.0 27.3L449.5 27.5L450.0 27.6L450.6 27.7L451.1 27.9L451.7 28.0L452.2 28.1L452.8 28.2L453.3 28.3L453.8 28.3L454.4 28.4L454.9 28.5L455.5 28.6L456.0 28.6L456.6 28.7L457.1 28.8L457.7 28.8L458.2 28.9L458.7 28.9L459.3 29.0L459.8 29.0L460.4 29.1L460.9 29.1L461.5 29.1L462.0 29.2L462.5 29.2L463.1 29.2L463.6 29.2L464.2 29.2L464.7 29.3L465.3 29.3L465.8 29.3L466.4 29.3L466.9 29.3L467.4 29.3L468.0 29.4L468.5 29.4L469.1 29.4L469.6 29.4L470.2 29.4L470.7 29.4L471.2 29.4L471.8 29.4L472.3 29.5L472.9 29.5L473.4 29.5L474.0 29.5L474.5 29.5L475.0 29.5L475.6 29.5L476.1 29.5L476.7 29.5L477.2 29.5L477.8 29.5L478.3 29.6L478.9 29.6L479.4 29.6L479.9 29.6L480.5 29.6L481.0 29.6L481.6 29.6L482.1 29.6L482.7 29.6L483.2 29.6L483.7 29.6L484.3 29.6L484.8 29.6L485.4 29.6L485.9 29.6L486.5 29.6L487.0 29.6L487.6 29.6L488.1 29.6L488.6 29.6L489.2 29.6L489.7 29.6L490.3 29.6L490.8 29.5L491.4 29.5L491.9 29.5L492.4 29.5L493.0 29.5L493.5 29.5L494.1 29.4L494.6 29.4L495.2 29.4L495.7 29.4L496.2 29.4L496.8 29.3L497.3 29.3L497.9 29.3L498.4 29.3L499.0 29.3L499.5 29.2L500.1 29.2L500.6 29.2L501.1 29.2L501.7 29.1L502.2 29.1L502.8 29.1L503.3 29.1L503.9 29.0L504.4 29.0L504.9 29.0L505.5 29.0L506.0 28.9L506.6 28.9L507.1 28.9L507.7 28.8L508.2 28.8L508.8 28.8L509.3 28.7L509.8 28.7L510.4 28.7L510.9 28.6L511.5 28.6L512.0 28.5L512.6 28.5L513.1 28.5L513.6 28.4L514.2 28.4L514.7 28.3L515.3 28.3L515.8 28.2L516.4 28.2L516.9 28.1L517.5 28.1L518.0 28.1L518.5 28.0L519.1 28.0L519.6 27.9L520.2 27.8L520.7 27.8L521.3 27.7L521.8 27.7L522.3 27.6L522.9 27.6L523.4 27.5L524.0 27.5L524.5 27.4L525.1 27.3L525.6 27.3L526.1 27.2L526.7 27.1L527.2 27.1L527.8 27.0L528.3 26.9L528.9 26.8L529.4 26.7L530.0 26.7L530.5 26.6L531.0 26.5L531.6 26.4L532.1 26.3L532.7 26.3L533.2 26.2L533.8 26.1L534.3 26.0L534.8 25.9L535.4 25.8L535.9 25.8L536.5 25.7L537.0 25.6L537.6 25.5L538.1 25.4L538.7 25.3L539.2 25.2L539.7 25.2L540.3 25.1L540.8 25.0L541.4 24.9L541.9 24.8L542.5 24.7L543.0 24.6L543.0 26.0L542.5 29.8L541.9 32.3L541.4 33.8L540.8 35.1L540.3 36.2L539.7 37.0L539.2 37.6L538.7 37.9L538.1 38.2L537.6 38.5L537.0 38.7L536.5 38.9L535.9 39.1L535.4 39.2L534.8 39.4L534.3 39.5L533.8 39.7L533.2 39.8L532.7 39.9L532.1 40.1L531.6 40.2L531.0 40.3L530.5 40.4L530.0 40.5L529.4 40.6L528.9 40.7L528.3 40.8L527.8 40.9L527.2 41.0L526.7 41.1L526.1 41.2L525.6 41.3L525.1 41.4L524.5 41.5L524.0 41.5L523.4 41.6L522.9 41.7L522.3 41.7L521.8 41.8L521.3 41.9L520.7 41.9L520.2 42.0L519.6 42.1L519.1 42.1L518.5 42.2L518.0 42.3L517.5 42.3L516.9 42.4L516.4 42.4L515.8 42.5L515.3 42.5L514.7 42.6L514.2 42.6L513.6 42.7L513.1 42.7L512.6 42.7L512.0 42.8L511.5 42.8L510.9 42.9L510.4 42.9L509.8 42.9L509.3 43.0L508.8 43.0L508.2 43.0L507.7 43.1L507.1 43.1L506.6 43.1L506.0 43.1L505.5 43.2L504.9 43.2L504.4 43.2L503.9 43.2L503.3 43.3L502.8 43.3L502.2 43.3L501.7 43.3L501.1 43.4L500.6 43.4L500.1 43.4L499.5 43.4L499.0 43.5L498.4 43.5L497.9 43.5L497.3 43.5L496.8 43.6L496.2 43.6L495.7 43.6L495.2 43.6L494.6 43.7L494.1 43.7L493.5 43.7L493.0 43.7L492.4 43.8L491.9 43.8L491.4 43.8L490.8 43.9L490.3 43.9L489.7 43.9L489.2 44.0L488.6 44.0L488.1 44.0L487.6 44.1L487.0 44.1L486.5 44.1L485.9 44.2L485.4 44.2L484.8 44.3L484.3 44.3L483.7 44.3L483.2 44.4L482.7 44.4L482.1 44.5L481.6 44.5L481.0 44.5L480.5 44.6L479.9 44.6L479.4 44.6L478.9 44.7L478.3 44.7L477.8 44.7L477.2 44.8L476.7 44.8L476.1 44.8L475.6 44.9L475.0 44.9L474.5 44.9L474.0 45.0L473.4 45.0L472.9 45.0L472.3 45.1L471.8 45.1L471.2 45.1L470.7 45.2L470.2 45.2L469.6 45.2L469.1 45.3L468.5 45.3L468.0 45.3L467.4 45.4L466.9 45.4L466.4 45.4L465.8 45.5L465.3 45.5L464.7 45.5L464.2 45.6L463.6 45.6L463.1 45.6L462.5 45.7L462.0 45.7L461.5 45.7L460.9 45.8L460.4 45.8L459.8 45.9L459.3 45.9L458.7 45.9L458.2 46.0L457.7 46.0L457.1 46.1L456.6 46.1L456.0 46.2L455.5 46.2L454.9 46.3L454.4 46.3L453.8 46.4L453.3 46.4L452.8 46.5L452.2 46.5L451.7 46.6L451.1 46.7L450.6 46.7L450.0 46.8L449.5 46.9L449.0 46.9L448.4 47.0L447.9 47.1L447.3 47.2L446.8 47.3L446.2 47.4L445.7 47.5L445.2 47.6L444.6 47.7L444.1 47.8L443.5 47.8L443.0 47.9L442.4 48.0L441.9 48.1L441.3 48.2L440.8 48.3L440.3 48.4L439.7 48.6L439.2 48.7L438.6 48.9L438.1 49.1L437.5 49.2L437.0 49.4L436.5 49.6L435.9 49.8L435.4 50.1L434.8 50.3L434.3 50.5L433.7 50.7L433.2 50.9L432.6 51.1L432.1 51.4L431.6 51.7L431.0 52.0L430.5 52.4L429.9 52.8L429.4 53.3L428.8 53.8L428.3 54.4L427.8 55.0L427.2 55.5L426.7 56.1L426.1 56.7L425.6 57.3L425.0 57.9L424.5 58.5L423.9 59.2L423.4 59.8L422.9 60.4L422.3 60.9L421.8 61.4L421.2 61.9L420.7 62.4L420.1 62.8L419.6 63.3L419.1 63.6L418.5 63.8L418.0 63.9L417.4 64.0L416.9 64.1L416.3 64.1L415.8 64.2L415.3 64.2L414.7 64.3L414.2 64.3L413.6 64.3L413.1 64.3L412.5 64.3L412.0 64.2L411.4 64.1L410.9 64.1L410.4 64.0L409.8 63.9L409.3 63.8L408.7 63.8L408.2 63.7L407.6 63.7L407.1 63.6L406.6 63.6L406.0 63.6L405.5 63.7L404.9 63.9L404.4 64.1L403.8 64.4L403.3 64.6L402.7 64.8L402.2 64.9L401.7 65.1L401.1 65.2L400.6 65.4L400.0 65.5L399.5 65.7L398.9 65.8L398.4 66.0L397.9 66.2L397.3 66.4L396.8 66.6L396.2 66.8L395.7 67.0L395.1 67.2L394.6 67.4L394.1 67.7L393.5 67.9L393.0 68.1L392.4 68.3L391.9 68.5L391.3 68.7L390.8 69.0L390.2 69.2L389.7 69.4L389.2 69.6L388.6 69.8L388.1 70.0L387.5 70.2L387.0 70.4L386.4 70.7L385.9 70.9L385.4 71.1L384.8 71.3L384.3 71.6L383.7 71.8L383.2 72.0L382.6 72.3L382.1 72.5L381.5 72.8L381.0 73.1L380.5 73.4L379.9 73.6L379.4 73.9L378.8 74.3L378.3 74.6L377.7 74.9L377.2 75.3L376.7 75.7L376.1 76.0L375.6 76.4L375.0 76.8L374.5 77.2L373.9 77.6L373.4 78.0L372.9 78.4L372.3 78.8L371.8 79.2L371.2 79.6L370.7 80.0L370.1 80.4L369.6 80.8L369.0 81.2L368.5 81.5L368.0 81.9L367.4 82.3L366.9 82.7L366.3 83.0L365.8 83.4L365.2 83.8L364.7 84.2L364.2 84.6L363.6 84.9L363.1 85.3L362.5 85.7L362.0 86.1L361.4 86.5L360.9 86.9L360.3 87.2L359.8 87.6L359.3 88.0L358.7 88.4L358.2 88.8L357.6 89.2L357.1 89.6L356.5 90.1L356.0 90.5L355.5 90.9L354.9 91.3L354.4 91.7L353.8 92.1L353.3 92.5L352.7 92.9L352.2 93.3L351.6 93.8L351.1 94.2L350.6 94.6L350.0 95.0L349.5 95.4L348.9 95.8L348.4 96.2L347.8 96.6L347.3 97.0L346.8 97.4L346.2 97.8L345.7 98.2L345.1 98.7L344.6 99.1L344.0 99.5L343.5 99.9L343.0 100.3L342.4 100.7L341.9 101.1L341.3 101.5L340.8 101.9L340.2 102.3L339.7 102.7L339.1 103.1L338.6 103.5L338.1 104.0L337.5 104.4L337.0 104.8L336.4 105.2L335.9 105.6L335.3 106.0L334.8 106.4L334.3 106.8L333.7 107.2L333.2 107.6L332.6 108.0L332.1 108.4L331.5 108.8L331.0 109.3L330.4 109.7L329.9 110.1L329.4 110.5L328.8 110.9L328.3 111.3L327.7 111.7L327.2 112.1L326.6 112.5L326.1 112.9" stroke="#800000"/>
</g>
<text transform="translate(326.1,177.2) scale(1.01,1)" font-size="6.8" text-anchor="middle" font-weight="bold" stroke="#000" stroke-width="0.18">-0.2</text>
<text transform="translate(380.4,177.2) scale(1.01,1)" font-size="6.8" text-anchor="middle" font-weight="bold" stroke="#000" stroke-width="0.18">0.0</text>
<text transform="translate(434.6,177.2) scale(1.01,1)" font-size="6.8" text-anchor="middle" font-weight="bold" stroke="#000" stroke-width="0.18">0.2</text>
<text transform="translate(488.9,177.2) scale(1.01,1)" font-size="6.8" text-anchor="middle" font-weight="bold" stroke="#000" stroke-width="0.18">0.4</text>
<text transform="translate(543.1,177.2) scale(1.01,1)" font-size="6.8" text-anchor="middle" font-weight="bold" stroke="#000" stroke-width="0.18">0.6</text>
<text transform="translate(320.8,8.0) scale(1.01,1)" font-size="6.8" text-anchor="end" font-weight="bold" stroke="#000" stroke-width="0.18">2.0×10<tspan dy="-2.7" font-size="4.6">-6</tspan></text>
<text transform="translate(320.8,30.9) scale(1.01,1)" font-size="6.8" text-anchor="end" font-weight="bold" stroke="#000" stroke-width="0.18">1.0×10<tspan dy="-2.7" font-size="4.6">-6</tspan></text>
<text transform="translate(320.8,76.6) scale(1.01,1)" font-size="6.8" text-anchor="end" font-weight="bold" stroke="#000" stroke-width="0.18">-1.0×10<tspan dy="-2.7" font-size="4.6">-6</tspan></text>
<text transform="translate(320.8,99.4) scale(1.01,1)" font-size="6.8" text-anchor="end" font-weight="bold" stroke="#000" stroke-width="0.18">-2.0×10<tspan dy="-2.7" font-size="4.6">-6</tspan></text>
<text transform="translate(320.8,122.3) scale(1.01,1)" font-size="6.8" text-anchor="end" font-weight="bold" stroke="#000" stroke-width="0.18">-3.0×10<tspan dy="-2.7" font-size="4.6">-6</tspan></text>
<text transform="translate(320.8,145.1) scale(1.01,1)" font-size="6.8" text-anchor="end" font-weight="bold" stroke="#000" stroke-width="0.18">-4.0×10<tspan dy="-2.7" font-size="4.6">-6</tspan></text>
<text transform="translate(320.8,168.0) scale(1.01,1)" font-size="6.8" text-anchor="end" font-weight="bold" stroke="#000" stroke-width="0.18">-5.0×10<tspan dy="-2.7" font-size="4.6">-6</tspan></text>
<text transform="translate(320.8,53.7) scale(1.01,1)" font-size="6.8" text-anchor="end" font-weight="bold" stroke="#000" stroke-width="0.18">0.0</text>
<text transform="translate(434.4,191.0) scale(1.13,1)" font-size="7.6" text-anchor="middle" font-weight="bold" stroke="#000" stroke-width="0.25">E/V(vs.Ag|AgCl)</text>
<text transform="translate(284.0,81.3) rotate(-90) scale(1.10,1)" font-size="7.4" text-anchor="middle" font-weight="bold" stroke="#000" stroke-width="0.25">I/A</text>
<text x="439.0" y="206.2" font-size="13.0" text-anchor="middle" font-weight="bold" stroke="#000" stroke-width="0.3">(b)</text>
<rect x="487.6" y="59.6" width="55.5" height="106.1" fill="#fff" stroke="#9a9a9a" stroke-width="0.6"/>
<path d="M490.2 66.5H509.0" stroke="#000000" stroke-width="1.4"/>
<text x="513.0" y="69.3" font-size="8.4" style="white-space:pre">1  µM</text>
<path d="M490.2 78.1H509.0" stroke="#ff0000" stroke-width="1.4"/>
<text x="513.0" y="80.9" font-size="8.4" style="white-space:pre">3  µM</text>
<path d="M490.2 89.7H509.0" stroke="#0000ff" stroke-width="1.4"/>
<text x="513.0" y="92.5" font-size="8.4" style="white-space:pre">5  µM</text>
<path d="M490.2 101.3H509.0" stroke="#ff00ff" stroke-width="1.4"/>
<text x="513.0" y="104.1" font-size="8.4" style="white-space:pre">8  µM</text>
<path d="M490.2 112.9H509.0" stroke="#008000" stroke-width="1.4"/>
<text x="513.0" y="115.7" font-size="8.4" style="white-space:pre">10  µM</text>
<path d="M490.2 124.5H509.0" stroke="#000080" stroke-width="1.4"/>
<text x="513.0" y="127.3" font-size="8.4" style="white-space:pre">30  µM</text>
<path d="M490.2 136.1H509.0" stroke="#8000ff" stroke-width="1.4"/>
<text x="513.0" y="138.9" font-size="8.4" style="white-space:pre">50  µM</text>
<path d="M490.2 147.7H509.0" stroke="#800080" stroke-width="1.4"/>
<text x="513.0" y="150.5" font-size="8.4" style="white-space:pre">80  µM</text>
<path d="M490.2 159.3H509.0" stroke="#800000" stroke-width="1.4"/>
<text x="513.0" y="162.1" font-size="8.4" style="white-space:pre">100 µM</text>
<g fill="none" stroke-width="1.35" stroke-linejoin="round">
<path d="M48.0 340.1L48.5 340.3L49.1 340.5L49.6 340.6L50.2 340.8L50.7 341.0L51.3 341.2L51.8 341.4L52.4 341.6L52.9 341.8L53.4 341.9L54.0 342.1L54.5 342.3L55.1 342.5L55.6 342.6L56.2 342.8L56.7 343.0L57.2 343.2L57.8 343.3L58.3 343.5L58.9 343.7L59.4 343.9L60.0 344.0L60.5 344.2L61.1 344.4L61.6 344.5L62.1 344.7L62.7 344.8L63.2 345.0L63.8 345.2L64.3 345.3L64.9 345.5L65.4 345.6L65.9 345.8L66.5 345.9L67.0 346.1L67.6 346.2L68.1 346.3L68.7 346.5L69.2 346.6L69.8 346.8L70.3 346.9L70.8 347.0L71.4 347.2L71.9 347.3L72.5 347.4L73.0 347.6L73.6 347.7L74.1 347.8L74.6 348.0L75.2 348.1L75.7 348.2L76.3 348.4L76.8 348.5L77.4 348.6L77.9 348.7L78.5 348.9L79.0 349.0L79.5 349.1L80.1 349.3L80.6 349.4L81.2 349.5L81.7 349.7L82.3 349.8L82.8 349.9L83.4 350.1L83.9 350.2L84.4 350.4L85.0 350.5L85.5 350.6L86.1 350.8L86.6 350.9L87.2 351.1L87.7 351.2L88.2 351.3L88.8 351.5L89.3 351.6L89.9 351.8L90.4 351.9L91.0 352.1L91.5 352.2L92.1 352.3L92.6 352.5L93.1 352.6L93.7 352.8L94.2 352.9L94.8 353.1L95.3 353.2L95.9 353.3L96.4 353.5L96.9 353.6L97.5 353.8L98.0 353.9L98.6 354.1L99.1 354.2L99.7 354.4L100.2 354.6L100.8 354.7L101.3 354.9L101.8 355.0L102.4 355.2L102.9 355.4L103.5 355.5L104.0 355.7L104.6 355.9L105.1 356.0L105.6 356.2L106.2 356.4L106.7 356.6L107.3 356.8L107.8 357.0L108.4 357.2L108.9 357.4L109.5 357.6L110.0 357.8L110.5 358.0L111.1 358.2L111.6 358.4L112.2 358.6L112.7 358.8L113.3 359.0L113.8 359.2L114.4 359.4L114.9 359.6L115.4 359.7L116.0 359.9L116.5 360.1L117.1 360.2L117.6 360.4L118.2 360.5L118.7 360.7L119.2 360.8L119.8 361.0L120.3 361.1L120.9 361.3L121.4 361.4L122.0 361.6L122.5 361.7L123.1 361.9L123.6 362.0L124.1 362.2L124.7 362.3L125.2 362.5L125.8 362.6L126.3 362.8L126.9 362.9L127.4 363.1L127.9 363.2L128.5 363.3L129.0 363.5L129.6 363.6L130.1 363.8L130.7 363.9L131.2 364.1L131.8 364.2L132.3 364.4L132.8 364.5L133.4 364.6L133.9 364.8L134.5 364.9L135.0 365.0L135.6 365.1L136.1 365.2L136.6 365.4L137.2 365.5L137.7 365.6L138.3 365.7L138.8 365.8L139.4 365.9L139.9 366.0L140.5 366.1L141.0 366.2L141.5 366.3L142.1 366.4L142.6 366.5L143.2 366.6L143.7 366.7L144.3 366.9L144.8 367.0L145.4 367.1L145.9 367.2L146.4 367.3L147.0 367.4L147.5 367.5L148.1 367.7L148.6 367.8L149.2 367.9L149.7 368.0L150.2 368.0L150.8 368.1L151.3 368.2L151.9 368.2L152.4 368.3L153.0 368.3L153.5 368.4L154.1 368.4L154.6 368.4L155.1 368.4L155.7 368.4L156.2 368.5L156.8 368.5L157.3 368.5L157.9 368.5L158.4 368.5L158.9 368.4L159.5 368.4L160.0 368.4L160.6 368.4L161.1 368.4L161.7 368.3L162.2 368.3L162.8 368.3L163.3 368.3L163.8 368.3L164.4 368.3L164.9 368.3L165.5 368.3L166.0 368.4L166.6 368.4L167.1 368.4L167.6 368.4L168.2 368.4L168.7 368.4L169.3 368.4L169.8 368.4L170.4 368.5L170.9 368.5L171.5 368.5L172.0 368.5L172.5 368.5L173.1 368.5L173.6 368.5L174.2 368.5L174.7 368.5L175.3 368.5L175.8 368.5L176.4 368.5L176.9 368.5L177.4 368.6L178.0 368.6L178.5 368.6L179.1 368.6L179.6 368.6L180.2 368.6L180.7 368.6L181.2 368.6L181.8 368.6L182.3 368.6L182.9 368.6L183.4 368.6L184.0 368.6L184.5 368.6L185.1 368.6L185.6 368.6L186.1 368.6L186.7 368.6L187.2 368.6L187.8 368.6L188.3 368.6L188.9 368.6L189.4 368.6L189.9 368.6L190.5 368.6L191.0 368.6L191.6 368.6L192.1 368.6L192.7 368.6L193.2 368.6L193.8 368.6L194.3 368.5L194.8 368.5L195.4 368.5L195.9 368.5L196.5 368.5L197.0 368.5L197.6 368.5L198.1 368.5L198.6 368.5L199.2 368.5L199.7 368.5L200.3 368.4L200.8 368.4L201.4 368.4L201.9 368.4L202.5 368.4L203.0 368.4L203.5 368.4L204.1 368.4L204.6 368.4L205.2 368.3L205.7 368.3L206.3 368.3L206.8 368.3L207.4 368.3L207.9 368.3L208.4 368.3L209.0 368.3L209.5 368.2L210.1 368.2L210.6 368.2L211.2 368.2L211.7 368.2L212.2 368.2L212.8 368.1L213.3 368.1L213.9 368.1L214.4 368.1L215.0 368.0L215.5 368.0L216.1 368.0L216.6 368.0L217.1 367.9L217.7 367.9L218.2 367.9L218.8 367.8L219.3 367.8L219.9 367.7L220.4 367.7L220.9 367.7L221.5 367.6L222.0 367.6L222.6 367.5L223.1 367.5L223.7 367.4L224.2 367.4L224.8 367.3L225.3 367.3L225.8 367.3L226.4 367.2L226.9 367.2L227.5 367.1L228.0 367.1L228.6 367.0L229.1 366.9L229.6 366.9L230.2 366.8L230.7 366.8L231.3 366.7L231.8 366.7L232.4 366.6L232.9 366.6L233.5 366.5L234.0 366.5L234.5 366.4L235.1 366.4L235.6 366.3L236.2 366.3L236.7 366.2L237.3 366.2L237.8 366.1L238.4 366.1L238.9 366.0L239.4 366.0L240.0 365.9L240.5 365.9L241.1 365.8L241.6 365.8L242.2 365.7L242.7 365.6L243.2 365.6L243.8 365.5L244.3 365.5L244.9 365.4L245.4 365.4L246.0 365.3L246.5 365.2L247.1 365.2L247.6 365.1L248.1 365.1L248.7 365.0L249.2 364.9L249.8 364.9L250.3 364.8L250.9 364.8L251.4 364.7L251.9 364.6L252.5 364.6L253.0 364.5L253.6 364.4L254.1 364.4L254.7 364.3L255.2 364.2L255.8 364.2L256.3 364.1L256.8 364.0L257.4 364.0L257.9 363.9L258.5 363.8L259.0 363.8L259.6 363.7L260.1 363.6L260.6 363.6L261.2 363.5L261.7 363.4L262.3 363.4L262.8 363.3L263.4 363.2L263.9 363.1L264.5 363.1L265.0 363.0" stroke="#000000" stroke-width="1.05"/>
<path d="M48.0 343.1L48.5 343.2L49.1 343.4L49.6 343.6L50.2 343.8L50.7 344.0L51.3 344.1L51.8 344.3L52.4 344.5L52.9 344.6L53.4 344.8L54.0 345.0L54.5 345.1L55.1 345.3L55.6 345.5L56.2 345.6L56.7 345.8L57.2 345.9L57.8 346.1L58.3 346.3L58.9 346.4L59.4 346.6L60.0 346.7L60.5 346.9L61.1 347.0L61.6 347.1L62.1 347.3L62.7 347.4L63.2 347.6L63.8 347.7L64.3 347.8L64.9 348.0L65.4 348.1L65.9 348.2L66.5 348.3L67.0 348.5L67.6 348.6L68.1 348.7L68.7 348.8L69.2 348.9L69.8 349.1L70.3 349.2L70.8 349.3L71.4 349.4L71.9 349.5L72.5 349.6L73.0 349.7L73.6 349.8L74.1 349.9L74.6 350.0L75.2 350.1L75.7 350.2L76.3 350.3L76.8 350.4L77.4 350.5L77.9 350.6L78.5 350.7L79.0 350.8L79.5 350.9L80.1 351.1L80.6 351.2L81.2 351.3L81.7 351.4L82.3 351.5L82.8 351.6L83.4 351.7L83.9 351.8L84.4 351.9L85.0 352.0L85.5 352.1L86.1 352.2L86.6 352.3L87.2 352.4L87.7 352.5L88.2 352.6L88.8 352.8L89.3 352.9L89.9 353.0L90.4 353.1L91.0 353.2L91.5 353.3L92.1 353.4L92.6 353.5L93.1 353.6L93.7 353.7L94.2 353.8L94.8 354.0L95.3 354.1L95.9 354.2L96.4 354.3L96.9 354.4L97.5 354.5L98.0 354.6L98.6 354.7L99.1 354.8L99.7 354.9L100.2 355.0L100.8 355.2L101.3 355.3L101.8 355.4L102.4 355.5L102.9 355.6L103.5 355.7L104.0 355.8L104.6 355.9L105.1 356.0L105.6 356.1L106.2 356.2L106.7 356.4L107.3 356.5L107.8 356.6L108.4 356.7L108.9 356.8L109.5 356.9L110.0 357.0L110.5 357.2L111.1 357.3L111.6 357.4L112.2 357.5L112.7 357.6L113.3 357.7L113.8 357.8L114.4 357.9L114.9 358.0L115.4 358.1L116.0 358.2L116.5 358.3L117.1 358.4L117.6 358.5L118.2 358.6L118.7 358.7L119.2 358.8L119.8 358.9L120.3 359.0L120.9 359.1L121.4 359.2L122.0 359.3L122.5 359.3L123.1 359.4L123.6 359.5L124.1 359.5L124.7 359.6L125.2 359.6L125.8 359.6L126.3 359.7L126.9 359.7L127.4 359.7L127.9 359.8L128.5 359.8L129.0 359.8L129.6 359.8L130.1 359.8L130.7 359.8L131.2 359.8L131.8 359.7L132.3 359.7L132.8 359.7L133.4 359.6L133.9 359.6L134.5 359.6L135.0 359.6L135.6 359.6L136.1 359.7L136.6 359.8L137.2 359.9L137.7 360.0L138.3 360.2L138.8 360.3L139.4 360.4L139.9 360.6L140.5 360.7L141.0 360.9L141.5 361.0L142.1 361.2L142.6 361.3L143.2 361.5L143.7 361.6L144.3 361.8L144.8 361.9L145.4 362.1L145.9 362.3L146.4 362.4L147.0 362.6L147.5 362.8L148.1 362.9L148.6 363.1L149.2 363.2L149.7 363.3L150.2 363.5L150.8 363.6L151.3 363.7L151.9 363.8L152.4 363.9L153.0 363.9L153.5 364.0L154.1 364.1L154.6 364.2L155.1 364.2L155.7 364.3L156.2 364.3L156.8 364.4L157.3 364.4L157.9 364.4L158.4 364.4L158.9 364.4L159.5 364.4L160.0 364.4L160.6 364.4L161.1 364.4L161.7 364.4L162.2 364.4L162.8 364.3L163.3 364.3L163.8 364.3L164.4 364.4L164.9 364.4L165.5 364.4L166.0 364.4L166.6 364.4L167.1 364.4L167.6 364.4L168.2 364.5L168.7 364.5L169.3 364.5L169.8 364.5L170.4 364.5L170.9 364.5L171.5 364.5L172.0 364.5L172.5 364.5L173.1 364.6L173.6 364.6L174.2 364.6L174.7 364.6L175.3 364.6L175.8 364.6L176.4 364.6L176.9 364.6L177.4 364.6L178.0 364.6L178.5 364.6L179.1 364.6L179.6 364.6L180.2 364.6L180.7 364.6L181.2 364.6L181.8 364.6L182.3 364.6L182.9 364.6L183.4 364.6L184.0 364.6L184.5 364.6L185.1 364.6L185.6 364.5L186.1 364.5L186.7 364.5L187.2 364.5L187.8 364.5L188.3 364.5L188.9 364.5L189.4 364.5L189.9 364.4L190.5 364.4L191.0 364.4L191.6 364.4L192.1 364.4L192.7 364.4L193.2 364.3L193.8 364.3L194.3 364.3L194.8 364.3L195.4 364.3L195.9 364.3L196.5 364.3L197.0 364.2L197.6 364.2L198.1 364.2L198.6 364.2L199.2 364.2L199.7 364.2L200.3 364.2L200.8 364.1L201.4 364.1L201.9 364.1L202.5 364.1L203.0 364.1L203.5 364.1L204.1 364.1L204.6 364.1L205.2 364.0L205.7 364.0L206.3 364.0L206.8 364.0L207.4 364.0L207.9 364.0L208.4 364.0L209.0 363.9L209.5 363.9L210.1 363.9L210.6 363.9L211.2 363.9L211.7 363.9L212.2 363.9L212.8 363.9L213.3 363.8L213.9 363.8L214.4 363.8L215.0 363.8L215.5 363.8L216.1 363.8L216.6 363.8L217.1 363.7L217.7 363.7L218.2 363.7L218.8 363.7L219.3 363.7L219.9 363.7L220.4 363.6L220.9 363.6L221.5 363.6L222.0 363.6L222.6 363.6L223.1 363.6L223.7 363.5L224.2 363.5L224.8 363.5L225.3 363.5L225.8 363.5L226.4 363.5L226.9 363.4L227.5 363.4L228.0 363.4L228.6 363.4L229.1 363.3L229.6 363.3L230.2 363.3L230.7 363.3L231.3 363.3L231.8 363.2L232.4 363.2L232.9 363.2L233.5 363.2L234.0 363.1L234.5 363.1L235.1 363.1L235.6 363.1L236.2 363.0L236.7 363.0L237.3 363.0L237.8 363.0L238.4 362.9L238.9 362.9L239.4 362.9L240.0 362.8L240.5 362.8L241.1 362.7L241.6 362.7L242.2 362.7L242.7 362.6L243.2 362.6L243.8 362.5L244.3 362.5L244.9 362.4L245.4 362.4L246.0 362.3L246.5 362.3L247.1 362.2L247.6 362.2L248.1 362.1L248.7 362.0L249.2 362.0L249.8 361.9L250.3 361.9L250.9 361.8L251.4 361.7L251.9 361.7L252.5 361.6L253.0 361.5L253.6 361.5L254.1 361.4L254.7 361.3L255.2 361.3L255.8 361.2L256.3 361.1L256.8 361.0L257.4 361.0L257.9 360.9L258.5 360.8L259.0 360.7L259.6 360.7L260.1 360.6L260.6 360.5L261.2 360.4L261.7 360.4L262.3 360.3L262.8 360.2L263.4 360.1L263.9 360.1L264.5 360.0L265.0 359.9" stroke="#ff0000"/>
<path d="M48.0 336.7L48.5 337.1L49.1 337.5L49.6 337.9L50.2 338.3L50.7 338.7L51.3 339.0L51.8 339.4L52.4 339.7L52.9 340.0L53.4 340.3L54.0 340.6L54.5 340.9L55.1 341.1L55.6 341.4L56.2 341.6L56.7 341.9L57.2 342.1L57.8 342.3L58.3 342.6L58.9 342.8L59.4 343.0L60.0 343.2L60.5 343.4L61.1 343.6L61.6 343.8L62.1 344.0L62.7 344.2L63.2 344.4L63.8 344.6L64.3 344.8L64.9 345.0L65.4 345.1L65.9 345.3L66.5 345.5L67.0 345.6L67.6 345.8L68.1 345.9L68.7 346.1L69.2 346.2L69.8 346.4L70.3 346.5L70.8 346.7L71.4 346.8L71.9 347.0L72.5 347.1L73.0 347.2L73.6 347.4L74.1 347.5L74.6 347.6L75.2 347.8L75.7 347.9L76.3 348.0L76.8 348.2L77.4 348.3L77.9 348.4L78.5 348.5L79.0 348.7L79.5 348.8L80.1 348.9L80.6 349.0L81.2 349.1L81.7 349.3L82.3 349.4L82.8 349.5L83.4 349.6L83.9 349.8L84.4 349.9L85.0 350.0L85.5 350.1L86.1 350.2L86.6 350.4L87.2 350.5L87.7 350.6L88.2 350.7L88.8 350.8L89.3 350.9L89.9 351.1L90.4 351.2L91.0 351.3L91.5 351.4L92.1 351.5L92.6 351.6L93.1 351.7L93.7 351.8L94.2 351.9L94.8 352.1L95.3 352.2L95.9 352.3L96.4 352.4L96.9 352.5L97.5 352.6L98.0 352.7L98.6 352.8L99.1 352.9L99.7 353.0L100.2 353.1L100.8 353.2L101.3 353.3L101.8 353.4L102.4 353.5L102.9 353.6L103.5 353.7L104.0 353.8L104.6 353.9L105.1 354.0L105.6 354.1L106.2 354.2L106.7 354.3L107.3 354.4L107.8 354.5L108.4 354.6L108.9 354.7L109.5 354.8L110.0 354.9L110.5 355.0L111.1 355.1L111.6 355.2L112.2 355.3L112.7 355.4L113.3 355.5L113.8 355.6L114.4 355.7L114.9 355.7L115.4 355.8L116.0 355.9L116.5 356.0L117.1 356.1L117.6 356.1L118.2 356.2L118.7 356.3L119.2 356.4L119.8 356.5L120.3 356.5L120.9 356.6L121.4 356.7L122.0 356.8L122.5 356.8L123.1 356.9L123.6 356.9L124.1 357.0L124.7 357.0L125.2 357.0L125.8 357.0L126.3 357.0L126.9 356.9L127.4 356.9L127.9 356.8L128.5 356.8L129.0 356.7L129.6 356.6L130.1 356.6L130.7 356.5L131.2 356.4L131.8 356.4L132.3 356.3L132.8 356.2L133.4 356.1L133.9 356.1L134.5 356.0L135.0 356.0L135.6 356.0L136.1 356.1L136.6 356.2L137.2 356.3L137.7 356.5L138.3 356.6L138.8 356.8L139.4 356.9L139.9 357.1L140.5 357.3L141.0 357.5L141.5 357.7L142.1 357.9L142.6 358.1L143.2 358.3L143.7 358.5L144.3 358.7L144.8 358.9L145.4 359.1L145.9 359.3L146.4 359.5L147.0 359.6L147.5 359.8L148.1 359.9L148.6 360.1L149.2 360.2L149.7 360.3L150.2 360.4L150.8 360.5L151.3 360.6L151.9 360.7L152.4 360.8L153.0 360.9L153.5 360.9L154.1 361.0L154.6 361.0L155.1 361.1L155.7 361.1L156.2 361.1L156.8 361.2L157.3 361.2L157.9 361.2L158.4 361.2L158.9 361.2L159.5 361.2L160.0 361.2L160.6 361.2L161.1 361.2L161.7 361.2L162.2 361.2L162.8 361.2L163.3 361.2L163.8 361.2L164.4 361.2L164.9 361.2L165.5 361.3L166.0 361.3L166.6 361.3L167.1 361.3L167.6 361.3L168.2 361.4L168.7 361.4L169.3 361.4L169.8 361.4L170.4 361.4L170.9 361.4L171.5 361.5L172.0 361.5L172.5 361.5L173.1 361.5L173.6 361.5L174.2 361.5L174.7 361.5L175.3 361.5L175.8 361.5L176.4 361.6L176.9 361.6L177.4 361.6L178.0 361.6L178.5 361.6L179.1 361.6L179.6 361.6L180.2 361.6L180.7 361.6L181.2 361.6L181.8 361.6L182.3 361.6L182.9 361.6L183.4 361.6L184.0 361.6L184.5 361.6L185.1 361.6L185.6 361.6L186.1 361.7L186.7 361.7L187.2 361.7L187.8 361.7L188.3 361.7L188.9 361.7L189.4 361.7L189.9 361.7L190.5 361.7L191.0 361.7L191.6 361.7L192.1 361.7L192.7 361.7L193.2 361.7L193.8 361.7L194.3 361.7L194.8 361.7L195.4 361.7L195.9 361.7L196.5 361.7L197.0 361.7L197.6 361.7L198.1 361.7L198.6 361.7L199.2 361.7L199.7 361.7L200.3 361.7L200.8 361.7L201.4 361.7L201.9 361.7L202.5 361.7L203.0 361.7L203.5 361.7L204.1 361.7L204.6 361.6L205.2 361.6L205.7 361.6L206.3 361.6L206.8 361.6L207.4 361.6L207.9 361.6L208.4 361.6L209.0 361.5L209.5 361.5L210.1 361.5L210.6 361.5L211.2 361.5L211.7 361.5L212.2 361.4L212.8 361.4L213.3 361.4L213.9 361.4L214.4 361.4L215.0 361.3L215.5 361.3L216.1 361.3L216.6 361.3L217.1 361.2L217.7 361.2L218.2 361.2L218.8 361.2L219.3 361.1L219.9 361.1L220.4 361.1L220.9 361.1L221.5 361.0L222.0 361.0L222.6 361.0L223.1 361.0L223.7 360.9L224.2 360.9L224.8 360.9L225.3 360.8L225.8 360.8L226.4 360.8L226.9 360.8L227.5 360.7L228.0 360.7L228.6 360.7L229.1 360.6L229.6 360.6L230.2 360.6L230.7 360.5L231.3 360.5L231.8 360.5L232.4 360.5L232.9 360.4L233.5 360.4L234.0 360.4L234.5 360.3L235.1 360.3L235.6 360.3L236.2 360.2L236.7 360.2L237.3 360.2L237.8 360.2L238.4 360.1L238.9 360.1L239.4 360.1L240.0 360.0L240.5 360.0L241.1 360.0L241.6 359.9L242.2 359.9L242.7 359.9L243.2 359.8L243.8 359.8L244.3 359.7L244.9 359.7L245.4 359.7L246.0 359.6L246.5 359.6L247.1 359.5L247.6 359.5L248.1 359.4L248.7 359.4L249.2 359.4L249.8 359.3L250.3 359.3L250.9 359.2L251.4 359.2L251.9 359.1L252.5 359.1L253.0 359.0L253.6 359.0L254.1 358.9L254.7 358.9L255.2 358.8L255.8 358.8L256.3 358.7L256.8 358.7L257.4 358.6L257.9 358.6L258.5 358.5L259.0 358.5L259.6 358.4L260.1 358.4L260.6 358.3L261.2 358.3L261.7 358.2L262.3 358.2L262.8 358.1L263.4 358.1L263.9 358.0L264.5 358.0L265.0 357.9" stroke="#0000ff"/>
<path d="M48.0 341.1L48.5 341.2L49.1 341.4L49.6 341.6L50.2 341.7L50.7 341.9L51.3 342.1L51.8 342.2L52.4 342.4L52.9 342.6L53.4 342.7L54.0 342.9L54.5 343.0L55.1 343.2L55.6 343.4L56.2 343.5L56.7 343.7L57.2 343.8L57.8 344.0L58.3 344.1L58.9 344.3L59.4 344.5L60.0 344.6L60.5 344.8L61.1 344.9L61.6 345.1L62.1 345.2L62.7 345.4L63.2 345.5L63.8 345.7L64.3 345.8L64.9 346.0L65.4 346.1L65.9 346.3L66.5 346.4L67.0 346.6L67.6 346.7L68.1 346.9L68.7 347.0L69.2 347.2L69.8 347.3L70.3 347.5L70.8 347.6L71.4 347.8L71.9 347.9L72.5 348.1L73.0 348.2L73.6 348.4L74.1 348.5L74.6 348.7L75.2 348.8L75.7 348.9L76.3 349.1L76.8 349.2L77.4 349.4L77.9 349.5L78.5 349.6L79.0 349.8L79.5 349.9L80.1 350.0L80.6 350.1L81.2 350.3L81.7 350.4L82.3 350.5L82.8 350.6L83.4 350.7L83.9 350.8L84.4 350.9L85.0 351.0L85.5 351.1L86.1 351.2L86.6 351.3L87.2 351.4L87.7 351.4L88.2 351.5L88.8 351.6L89.3 351.7L89.9 351.8L90.4 351.9L91.0 351.9L91.5 352.0L92.1 352.1L92.6 352.2L93.1 352.2L93.7 352.3L94.2 352.4L94.8 352.5L95.3 352.5L95.9 352.6L96.4 352.7L96.9 352.7L97.5 352.8L98.0 352.9L98.6 352.9L99.1 353.0L99.7 353.1L100.2 353.1L100.8 353.2L101.3 353.2L101.8 353.3L102.4 353.3L102.9 353.4L103.5 353.5L104.0 353.5L104.6 353.6L105.1 353.6L105.6 353.7L106.2 353.7L106.7 353.8L107.3 353.8L107.8 353.9L108.4 353.9L108.9 354.0L109.5 354.1L110.0 354.1L110.5 354.2L111.1 354.2L111.6 354.3L112.2 354.3L112.7 354.4L113.3 354.4L113.8 354.4L114.4 354.5L114.9 354.5L115.4 354.5L116.0 354.6L116.5 354.6L117.1 354.6L117.6 354.6L118.2 354.6L118.7 354.6L119.2 354.6L119.8 354.6L120.3 354.6L120.9 354.6L121.4 354.5L122.0 354.5L122.5 354.5L123.1 354.5L123.6 354.5L124.1 354.4L124.7 354.4L125.2 354.4L125.8 354.3L126.3 354.2L126.9 354.1L127.4 354.0L127.9 353.8L128.5 353.7L129.0 353.6L129.6 353.5L130.1 353.4L130.7 353.3L131.2 353.2L131.8 353.1L132.3 353.0L132.8 353.0L133.4 353.0L133.9 353.1L134.5 353.1L135.0 353.2L135.6 353.3L136.1 353.4L136.6 353.5L137.2 353.7L137.7 353.8L138.3 354.0L138.8 354.2L139.4 354.4L139.9 354.6L140.5 354.8L141.0 355.0L141.5 355.2L142.1 355.4L142.6 355.6L143.2 355.9L143.7 356.1L144.3 356.3L144.8 356.5L145.4 356.8L145.9 357.0L146.4 357.2L147.0 357.4L147.5 357.6L148.1 357.7L148.6 357.8L149.2 358.0L149.7 358.1L150.2 358.2L150.8 358.4L151.3 358.5L151.9 358.6L152.4 358.7L153.0 358.7L153.5 358.8L154.1 358.9L154.6 358.9L155.1 359.0L155.7 359.1L156.2 359.1L156.8 359.2L157.3 359.3L157.9 359.3L158.4 359.3L158.9 359.4L159.5 359.4L160.0 359.4L160.6 359.4L161.1 359.4L161.7 359.4L162.2 359.4L162.8 359.4L163.3 359.5L163.8 359.5L164.4 359.5L164.9 359.5L165.5 359.6L166.0 359.6L166.6 359.6L167.1 359.7L167.6 359.7L168.2 359.7L168.7 359.7L169.3 359.8L169.8 359.8L170.4 359.8L170.9 359.8L171.5 359.9L172.0 359.9L172.5 359.9L173.1 359.9L173.6 360.0L174.2 360.0L174.7 360.0L175.3 360.0L175.8 360.0L176.4 360.1L176.9 360.1L177.4 360.1L178.0 360.1L178.5 360.1L179.1 360.1L179.6 360.1L180.2 360.1L180.7 360.2L181.2 360.2L181.8 360.2L182.3 360.2L182.9 360.2L183.4 360.2L184.0 360.2L184.5 360.2L185.1 360.2L185.6 360.2L186.1 360.2L186.7 360.2L187.2 360.2L187.8 360.2L188.3 360.2L188.9 360.2L189.4 360.2L189.9 360.2L190.5 360.2L191.0 360.2L191.6 360.2L192.1 360.2L192.7 360.2L193.2 360.2L193.8 360.2L194.3 360.2L194.8 360.2L195.4 360.2L195.9 360.2L196.5 360.2L197.0 360.2L197.6 360.2L198.1 360.2L198.6 360.2L199.2 360.2L199.7 360.2L200.3 360.2L200.8 360.2L201.4 360.2L201.9 360.2L202.5 360.2L203.0 360.2L203.5 360.2L204.1 360.2L204.6 360.2L205.2 360.2L205.7 360.2L206.3 360.2L206.8 360.2L207.4 360.2L207.9 360.2L208.4 360.2L209.0 360.2L209.5 360.2L210.1 360.2L210.6 360.2L211.2 360.2L211.7 360.2L212.2 360.2L212.8 360.2L213.3 360.2L213.9 360.2L214.4 360.2L215.0 360.2L215.5 360.2L216.1 360.1L216.6 360.1L217.1 360.1L217.7 360.1L218.2 360.1L218.8 360.1L219.3 360.1L219.9 360.0L220.4 360.0L220.9 360.0L221.5 360.0L222.0 360.0L222.6 359.9L223.1 359.9L223.7 359.9L224.2 359.9L224.8 359.8L225.3 359.8L225.8 359.8L226.4 359.8L226.9 359.7L227.5 359.7L228.0 359.7L228.6 359.7L229.1 359.6L229.6 359.6L230.2 359.6L230.7 359.5L231.3 359.5L231.8 359.5L232.4 359.5L232.9 359.4L233.5 359.4L234.0 359.4L234.5 359.3L235.1 359.3L235.6 359.3L236.2 359.2L236.7 359.2L237.3 359.2L237.8 359.2L238.4 359.1L238.9 359.1L239.4 359.1L240.0 359.0L240.5 359.0L241.1 359.0L241.6 358.9L242.2 358.9L242.7 358.8L243.2 358.8L243.8 358.8L244.3 358.7L244.9 358.7L245.4 358.6L246.0 358.6L246.5 358.5L247.1 358.5L247.6 358.4L248.1 358.4L248.7 358.3L249.2 358.3L249.8 358.2L250.3 358.2L250.9 358.1L251.4 358.1L251.9 358.0L252.5 358.0L253.0 357.9L253.6 357.9L254.1 357.8L254.7 357.8L255.2 357.7L255.8 357.7L256.3 357.6L256.8 357.5L257.4 357.5L257.9 357.4L258.5 357.4L259.0 357.3L259.6 357.2L260.1 357.2L260.6 357.1L261.2 357.1L261.7 357.0L262.3 356.9L262.8 356.9L263.4 356.8L263.9 356.7L264.5 356.7L265.0 356.6" stroke="#ff00ff"/>
<path d="M48.0 328.7L48.5 329.4L49.1 330.0L49.6 330.6L50.2 331.2L50.7 331.7L51.3 332.2L51.8 332.7L52.4 333.1L52.9 333.5L53.4 333.9L54.0 334.3L54.5 334.7L55.1 335.0L55.6 335.4L56.2 335.8L56.7 336.2L57.2 336.5L57.8 336.9L58.3 337.3L58.9 337.6L59.4 338.0L60.0 338.3L60.5 338.6L61.1 339.0L61.6 339.3L62.1 339.6L62.7 339.9L63.2 340.2L63.8 340.4L64.3 340.7L64.9 340.9L65.4 341.2L65.9 341.4L66.5 341.6L67.0 341.8L67.6 342.0L68.1 342.2L68.7 342.4L69.2 342.6L69.8 342.8L70.3 343.0L70.8 343.2L71.4 343.3L71.9 343.5L72.5 343.7L73.0 343.9L73.6 344.0L74.1 344.2L74.6 344.3L75.2 344.5L75.7 344.6L76.3 344.8L76.8 344.9L77.4 345.1L77.9 345.2L78.5 345.4L79.0 345.5L79.5 345.7L80.1 345.8L80.6 345.9L81.2 346.1L81.7 346.2L82.3 346.3L82.8 346.5L83.4 346.6L83.9 346.7L84.4 346.9L85.0 347.0L85.5 347.1L86.1 347.3L86.6 347.4L87.2 347.5L87.7 347.6L88.2 347.8L88.8 347.9L89.3 348.0L89.9 348.2L90.4 348.3L91.0 348.4L91.5 348.6L92.1 348.7L92.6 348.8L93.1 348.9L93.7 349.0L94.2 349.2L94.8 349.3L95.3 349.4L95.9 349.5L96.4 349.6L96.9 349.7L97.5 349.8L98.0 349.9L98.6 350.0L99.1 350.1L99.7 350.2L100.2 350.3L100.8 350.4L101.3 350.5L101.8 350.6L102.4 350.7L102.9 350.7L103.5 350.8L104.0 350.9L104.6 351.0L105.1 351.0L105.6 351.1L106.2 351.1L106.7 351.2L107.3 351.3L107.8 351.3L108.4 351.4L108.9 351.4L109.5 351.5L110.0 351.5L110.5 351.6L111.1 351.6L111.6 351.7L112.2 351.7L112.7 351.7L113.3 351.8L113.8 351.8L114.4 351.8L114.9 351.8L115.4 351.8L116.0 351.8L116.5 351.8L117.1 351.8L117.6 351.8L118.2 351.7L118.7 351.7L119.2 351.7L119.8 351.7L120.3 351.6L120.9 351.6L121.4 351.6L122.0 351.5L122.5 351.4L123.1 351.2L123.6 351.0L124.1 350.9L124.7 350.7L125.2 350.5L125.8 350.3L126.3 350.1L126.9 349.9L127.4 349.7L127.9 349.4L128.5 349.2L129.0 349.0L129.6 348.8L130.1 348.6L130.7 348.4L131.2 348.2L131.8 348.0L132.3 347.8L132.8 347.6L133.4 347.5L133.9 347.4L134.5 347.2L135.0 347.1L135.6 347.0L136.1 347.0L136.6 347.1L137.2 347.2L137.7 347.3L138.3 347.5L138.8 347.7L139.4 347.9L139.9 348.2L140.5 348.5L141.0 348.8L141.5 349.1L142.1 349.4L142.6 349.8L143.2 350.1L143.7 350.5L144.3 350.9L144.8 351.3L145.4 351.7L145.9 352.1L146.4 352.5L147.0 353.0L147.5 353.5L148.1 354.0L148.6 354.5L149.2 355.0L149.7 355.4L150.2 355.7L150.8 355.9L151.3 356.1L151.9 356.3L152.4 356.5L153.0 356.6L153.5 356.7L154.1 356.8L154.6 356.9L155.1 357.0L155.7 357.1L156.2 357.2L156.8 357.3L157.3 357.3L157.9 357.4L158.4 357.5L158.9 357.5L159.5 357.6L160.0 357.6L160.6 357.6L161.1 357.7L161.7 357.7L162.2 357.8L162.8 357.8L163.3 357.8L163.8 357.9L164.4 357.9L164.9 358.0L165.5 358.1L166.0 358.1L166.6 358.2L167.1 358.2L167.6 358.3L168.2 358.3L168.7 358.3L169.3 358.4L169.8 358.4L170.4 358.5L170.9 358.5L171.5 358.5L172.0 358.6L172.5 358.6L173.1 358.6L173.6 358.6L174.2 358.6L174.7 358.7L175.3 358.7L175.8 358.7L176.4 358.7L176.9 358.7L177.4 358.8L178.0 358.8L178.5 358.8L179.1 358.8L179.6 358.8L180.2 358.9L180.7 358.9L181.2 358.9L181.8 358.9L182.3 358.9L182.9 358.9L183.4 359.0L184.0 359.0L184.5 359.0L185.1 359.0L185.6 359.0L186.1 359.0L186.7 359.0L187.2 359.1L187.8 359.1L188.3 359.1L188.9 359.1L189.4 359.1L189.9 359.1L190.5 359.1L191.0 359.1L191.6 359.1L192.1 359.2L192.7 359.2L193.2 359.2L193.8 359.2L194.3 359.2L194.8 359.2L195.4 359.2L195.9 359.2L196.5 359.2L197.0 359.2L197.6 359.2L198.1 359.2L198.6 359.2L199.2 359.2L199.7 359.2L200.3 359.2L200.8 359.2L201.4 359.2L201.9 359.2L202.5 359.2L203.0 359.2L203.5 359.2L204.1 359.2L204.6 359.1L205.2 359.1L205.7 359.1L206.3 359.1L206.8 359.1L207.4 359.1L207.9 359.1L208.4 359.1L209.0 359.0L209.5 359.0L210.1 359.0L210.6 359.0L211.2 359.0L211.7 359.0L212.2 358.9L212.8 358.9L213.3 358.9L213.9 358.9L214.4 358.9L215.0 358.8L215.5 358.8L216.1 358.8L216.6 358.8L217.1 358.8L217.7 358.7L218.2 358.7L218.8 358.7L219.3 358.7L219.9 358.6L220.4 358.6L220.9 358.6L221.5 358.6L222.0 358.5L222.6 358.5L223.1 358.5L223.7 358.5L224.2 358.4L224.8 358.4L225.3 358.4L225.8 358.4L226.4 358.3L226.9 358.3L227.5 358.3L228.0 358.2L228.6 358.2L229.1 358.2L229.6 358.2L230.2 358.1L230.7 358.1L231.3 358.1L231.8 358.1L232.4 358.0L232.9 358.0L233.5 358.0L234.0 357.9L234.5 357.9L235.1 357.9L235.6 357.9L236.2 357.8L236.7 357.8L237.3 357.8L237.8 357.8L238.4 357.7L238.9 357.7L239.4 357.7L240.0 357.6L240.5 357.6L241.1 357.6L241.6 357.6L242.2 357.5L242.7 357.5L243.2 357.5L243.8 357.4L244.3 357.4L244.9 357.4L245.4 357.3L246.0 357.3L246.5 357.3L247.1 357.2L247.6 357.2L248.1 357.2L248.7 357.1L249.2 357.1L249.8 357.0L250.3 357.0L250.9 357.0L251.4 356.9L251.9 356.9L252.5 356.9L253.0 356.8L253.6 356.8L254.1 356.7L254.7 356.7L255.2 356.7L255.8 356.6L256.3 356.6L256.8 356.5L257.4 356.5L257.9 356.5L258.5 356.4L259.0 356.4L259.6 356.3L260.1 356.3L260.6 356.2L261.2 356.2L261.7 356.2L262.3 356.1L262.8 356.1L263.4 356.0L263.9 356.0L264.5 355.9L265.0 355.9" stroke="#008000"/>
<path d="M48.0 335.1L48.5 335.4L49.1 335.6L49.6 335.9L50.2 336.1L50.7 336.4L51.3 336.6L51.8 336.9L52.4 337.1L52.9 337.4L53.4 337.6L54.0 337.8L54.5 338.1L55.1 338.3L55.6 338.5L56.2 338.8L56.7 339.0L57.2 339.2L57.8 339.4L58.3 339.6L58.9 339.9L59.4 340.1L60.0 340.3L60.5 340.5L61.1 340.7L61.6 340.9L62.1 341.1L62.7 341.2L63.2 341.4L63.8 341.6L64.3 341.8L64.9 342.0L65.4 342.1L65.9 342.3L66.5 342.5L67.0 342.6L67.6 342.8L68.1 342.9L68.7 343.1L69.2 343.3L69.8 343.4L70.3 343.6L70.8 343.7L71.4 343.9L71.9 344.0L72.5 344.2L73.0 344.3L73.6 344.4L74.1 344.6L74.6 344.7L75.2 344.9L75.7 345.0L76.3 345.1L76.8 345.3L77.4 345.4L77.9 345.5L78.5 345.6L79.0 345.8L79.5 345.9L80.1 346.0L80.6 346.1L81.2 346.2L81.7 346.4L82.3 346.5L82.8 346.6L83.4 346.7L83.9 346.8L84.4 346.9L85.0 347.0L85.5 347.1L86.1 347.2L86.6 347.3L87.2 347.4L87.7 347.5L88.2 347.6L88.8 347.7L89.3 347.8L89.9 347.9L90.4 348.0L91.0 348.1L91.5 348.2L92.1 348.3L92.6 348.3L93.1 348.4L93.7 348.5L94.2 348.6L94.8 348.7L95.3 348.8L95.9 348.9L96.4 348.9L96.9 349.0L97.5 349.1L98.0 349.2L98.6 349.3L99.1 349.3L99.7 349.4L100.2 349.5L100.8 349.5L101.3 349.6L101.8 349.7L102.4 349.7L102.9 349.8L103.5 349.8L104.0 349.9L104.6 350.0L105.1 350.0L105.6 350.1L106.2 350.1L106.7 350.2L107.3 350.2L107.8 350.3L108.4 350.3L108.9 350.4L109.5 350.4L110.0 350.5L110.5 350.5L111.1 350.5L111.6 350.6L112.2 350.6L112.7 350.6L113.3 350.6L113.8 350.6L114.4 350.6L114.9 350.5L115.4 350.5L116.0 350.4L116.5 350.4L117.1 350.3L117.6 350.2L118.2 350.1L118.7 350.1L119.2 349.9L119.8 349.7L120.3 349.4L120.9 349.0L121.4 348.5L122.0 348.0L122.5 347.5L123.1 347.0L123.6 346.4L124.1 345.8L124.7 345.2L125.2 344.5L125.8 343.8L126.3 343.0L126.9 342.2L127.4 341.4L127.9 340.4L128.5 339.3L129.0 338.3L129.6 337.2L130.1 336.3L130.7 335.4L131.2 334.5L131.8 333.6L132.3 332.8L132.8 332.2L133.4 331.6L133.9 331.1L134.5 330.5L135.0 330.1L135.6 329.7L136.1 329.5L136.6 329.4L137.2 329.5L137.7 329.7L138.3 330.0L138.8 330.4L139.4 330.8L139.9 331.4L140.5 332.2L141.0 333.0L141.5 333.9L142.1 335.0L142.6 336.1L143.2 337.3L143.7 338.4L144.3 339.5L144.8 340.5L145.4 341.5L145.9 342.4L146.4 343.4L147.0 344.5L147.5 345.7L148.1 347.0L148.6 348.4L149.2 349.6L149.7 350.6L150.2 351.3L150.8 351.8L151.3 352.3L151.9 352.7L152.4 353.0L153.0 353.3L153.5 353.6L154.1 353.9L154.6 354.1L155.1 354.4L155.7 354.6L156.2 354.8L156.8 355.0L157.3 355.2L157.9 355.4L158.4 355.6L158.9 355.8L159.5 355.9L160.0 356.0L160.6 356.1L161.1 356.2L161.7 356.3L162.2 356.4L162.8 356.5L163.3 356.6L163.8 356.7L164.4 356.8L164.9 356.9L165.5 357.0L166.0 357.1L166.6 357.2L167.1 357.3L167.6 357.4L168.2 357.5L168.7 357.6L169.3 357.6L169.8 357.7L170.4 357.7L170.9 357.8L171.5 357.8L172.0 357.9L172.5 357.9L173.1 357.9L173.6 357.9L174.2 357.9L174.7 357.9L175.3 358.0L175.8 358.0L176.4 358.0L176.9 358.0L177.4 358.0L178.0 358.0L178.5 358.0L179.1 358.0L179.6 358.0L180.2 358.0L180.7 358.1L181.2 358.1L181.8 358.1L182.3 358.1L182.9 358.1L183.4 358.1L184.0 358.1L184.5 358.1L185.1 358.1L185.6 358.1L186.1 358.1L186.7 358.1L187.2 358.1L187.8 358.1L188.3 358.2L188.9 358.2L189.4 358.2L189.9 358.2L190.5 358.2L191.0 358.2L191.6 358.2L192.1 358.2L192.7 358.2L193.2 358.2L193.8 358.2L194.3 358.2L194.8 358.2L195.4 358.2L195.9 358.2L196.5 358.2L197.0 358.2L197.6 358.2L198.1 358.2L198.6 358.2L199.2 358.2L199.7 358.2L200.3 358.2L200.8 358.2L201.4 358.2L201.9 358.2L202.5 358.2L203.0 358.2L203.5 358.2L204.1 358.2L204.6 358.1L205.2 358.1L205.7 358.1L206.3 358.1L206.8 358.1L207.4 358.1L207.9 358.1L208.4 358.1L209.0 358.1L209.5 358.0L210.1 358.0L210.6 358.0L211.2 358.0L211.7 358.0L212.2 357.9L212.8 357.9L213.3 357.9L213.9 357.9L214.4 357.9L215.0 357.8L215.5 357.8L216.1 357.8L216.6 357.8L217.1 357.8L217.7 357.7L218.2 357.7L218.8 357.7L219.3 357.7L219.9 357.6L220.4 357.6L220.9 357.6L221.5 357.5L222.0 357.5L222.6 357.5L223.1 357.5L223.7 357.4L224.2 357.4L224.8 357.4L225.3 357.3L225.8 357.3L226.4 357.3L226.9 357.2L227.5 357.2L228.0 357.2L228.6 357.1L229.1 357.1L229.6 357.1L230.2 357.0L230.7 357.0L231.3 357.0L231.8 356.9L232.4 356.9L232.9 356.9L233.5 356.8L234.0 356.8L234.5 356.8L235.1 356.7L235.6 356.7L236.2 356.7L236.7 356.6L237.3 356.6L237.8 356.5L238.4 356.5L238.9 356.5L239.4 356.4L240.0 356.4L240.5 356.3L241.1 356.3L241.6 356.2L242.2 356.1L242.7 356.1L243.2 356.0L243.8 355.9L244.3 355.9L244.9 355.8L245.4 355.7L246.0 355.7L246.5 355.6L247.1 355.5L247.6 355.4L248.1 355.3L248.7 355.3L249.2 355.2L249.8 355.1L250.3 355.0L250.9 354.9L251.4 354.8L251.9 354.7L252.5 354.6L253.0 354.5L253.6 354.4L254.1 354.3L254.7 354.2L255.2 354.1L255.8 354.0L256.3 353.9L256.8 353.8L257.4 353.7L257.9 353.6L258.5 353.5L259.0 353.4L259.6 353.3L260.1 353.2L260.6 353.1L261.2 353.0L261.7 352.9L262.3 352.8L262.8 352.6L263.4 352.5L263.9 352.4L264.5 352.3L265.0 352.2" stroke="#000080"/>
<path d="M48.0 332.1L48.5 332.3L49.1 332.5L49.6 332.7L50.2 332.9L50.7 333.1L51.3 333.3L51.8 333.5L52.4 333.7L52.9 334.0L53.4 334.2L54.0 334.4L54.5 334.6L55.1 334.7L55.6 334.9L56.2 335.1L56.7 335.3L57.2 335.5L57.8 335.7L58.3 335.9L58.9 336.1L59.4 336.3L60.0 336.4L60.5 336.6L61.1 336.8L61.6 337.0L62.1 337.1L62.7 337.3L63.2 337.5L63.8 337.6L64.3 337.8L64.9 338.0L65.4 338.1L65.9 338.3L66.5 338.4L67.0 338.6L67.6 338.7L68.1 338.9L68.7 339.0L69.2 339.2L69.8 339.3L70.3 339.5L70.8 339.6L71.4 339.8L71.9 339.9L72.5 340.1L73.0 340.2L73.6 340.4L74.1 340.5L74.6 340.6L75.2 340.8L75.7 340.9L76.3 341.0L76.8 341.2L77.4 341.3L77.9 341.4L78.5 341.6L79.0 341.7L79.5 341.8L80.1 341.9L80.6 342.1L81.2 342.2L81.7 342.3L82.3 342.4L82.8 342.5L83.4 342.7L83.9 342.8L84.4 342.9L85.0 343.0L85.5 343.1L86.1 343.2L86.6 343.3L87.2 343.4L87.7 343.6L88.2 343.7L88.8 343.8L89.3 343.9L89.9 344.0L90.4 344.1L91.0 344.2L91.5 344.3L92.1 344.4L92.6 344.5L93.1 344.6L93.7 344.7L94.2 344.8L94.8 344.9L95.3 345.0L95.9 345.1L96.4 345.1L96.9 345.2L97.5 345.3L98.0 345.4L98.6 345.4L99.1 345.5L99.7 345.6L100.2 345.6L100.8 345.7L101.3 345.7L101.8 345.8L102.4 345.9L102.9 345.9L103.5 345.9L104.0 346.0L104.6 346.0L105.1 346.0L105.6 346.0L106.2 346.0L106.7 346.0L107.3 345.9L107.8 345.9L108.4 345.9L108.9 345.9L109.5 345.8L110.0 345.8L110.5 345.7L111.1 345.7L111.6 345.6L112.2 345.6L112.7 345.5L113.3 345.4L113.8 345.3L114.4 345.1L114.9 345.0L115.4 344.8L116.0 344.6L116.5 344.3L117.1 344.1L117.6 343.8L118.2 343.5L118.7 343.2L119.2 342.8L119.8 342.3L120.3 341.7L120.9 341.0L121.4 340.2L122.0 339.3L122.5 338.4L123.1 337.4L123.6 336.3L124.1 335.2L124.7 333.9L125.2 332.6L125.8 331.2L126.3 329.7L126.9 328.2L127.4 326.5L127.9 324.8L128.5 322.9L129.0 321.0L129.6 319.0L130.1 316.9L130.7 314.6L131.2 312.3L131.8 310.0L132.3 307.9L132.8 306.0L133.4 304.2L133.9 302.5L134.5 301.0L135.0 299.8L135.6 299.1L136.1 298.6L136.6 298.2L137.2 298.0L137.7 298.2L138.3 298.6L138.8 299.2L139.4 300.1L139.9 301.9L140.5 304.2L141.0 306.5L141.5 308.6L142.1 310.8L142.6 313.0L143.2 315.3L143.7 317.4L144.3 319.5L144.8 321.6L145.4 323.6L145.9 325.5L146.4 327.4L147.0 329.1L147.5 330.7L148.1 332.3L148.6 333.8L149.2 335.2L149.7 336.5L150.2 337.8L150.8 339.0L151.3 340.1L151.9 341.1L152.4 342.0L153.0 342.9L153.5 343.7L154.1 344.4L154.6 345.1L155.1 345.8L155.7 346.4L156.2 346.9L156.8 347.5L157.3 347.9L157.9 348.4L158.4 348.8L158.9 349.2L159.5 349.6L160.0 349.9L160.6 350.3L161.1 350.6L161.7 350.9L162.2 351.2L162.8 351.5L163.3 351.7L163.8 352.0L164.4 352.2L164.9 352.5L165.5 352.7L166.0 352.9L166.6 353.1L167.1 353.3L167.6 353.4L168.2 353.6L168.7 353.8L169.3 353.9L169.8 354.1L170.4 354.2L170.9 354.3L171.5 354.4L172.0 354.5L172.5 354.6L173.1 354.7L173.6 354.8L174.2 354.9L174.7 354.9L175.3 355.0L175.8 355.1L176.4 355.2L176.9 355.2L177.4 355.3L178.0 355.4L178.5 355.4L179.1 355.5L179.6 355.5L180.2 355.6L180.7 355.6L181.2 355.7L181.8 355.7L182.3 355.8L182.9 355.8L183.4 355.8L184.0 355.9L184.5 355.9L185.1 355.9L185.6 355.9L186.1 355.9L186.7 355.9L187.2 355.9L187.8 355.9L188.3 355.9L188.9 355.9L189.4 355.9L189.9 355.9L190.5 355.9L191.0 355.9L191.6 355.9L192.1 355.9L192.7 355.9L193.2 355.9L193.8 355.9L194.3 355.9L194.8 355.9L195.4 355.9L195.9 355.9L196.5 355.9L197.0 355.9L197.6 355.9L198.1 355.9L198.6 355.9L199.2 355.9L199.7 355.9L200.3 355.9L200.8 355.9L201.4 355.9L201.9 355.9L202.5 355.9L203.0 355.9L203.5 355.9L204.1 355.9L204.6 355.9L205.2 355.9L205.7 355.9L206.3 355.9L206.8 355.9L207.4 355.9L207.9 355.9L208.4 355.9L209.0 355.9L209.5 355.9L210.1 355.9L210.6 355.9L211.2 355.9L211.7 355.9L212.2 355.9L212.8 355.9L213.3 355.9L213.9 355.9L214.4 355.9L215.0 355.8L215.5 355.8L216.1 355.8L216.6 355.8L217.1 355.8L217.7 355.7L218.2 355.7L218.8 355.7L219.3 355.7L219.9 355.6L220.4 355.6L220.9 355.6L221.5 355.5L222.0 355.5L222.6 355.5L223.1 355.4L223.7 355.4L224.2 355.3L224.8 355.3L225.3 355.3L225.8 355.2L226.4 355.2L226.9 355.1L227.5 355.1L228.0 355.0L228.6 355.0L229.1 354.9L229.6 354.9L230.2 354.8L230.7 354.8L231.3 354.7L231.8 354.7L232.4 354.6L232.9 354.6L233.5 354.5L234.0 354.5L234.5 354.4L235.1 354.4L235.6 354.3L236.2 354.3L236.7 354.2L237.3 354.2L237.8 354.1L238.4 354.1L238.9 354.0L239.4 353.9L240.0 353.9L240.5 353.8L241.1 353.8L241.6 353.7L242.2 353.6L242.7 353.5L243.2 353.5L243.8 353.4L244.3 353.3L244.9 353.2L245.4 353.1L246.0 353.1L246.5 353.0L247.1 352.9L247.6 352.8L248.1 352.7L248.7 352.6L249.2 352.5L249.8 352.4L250.3 352.3L250.9 352.2L251.4 352.1L251.9 352.0L252.5 351.9L253.0 351.8L253.6 351.7L254.1 351.6L254.7 351.5L255.2 351.4L255.8 351.3L256.3 351.2L256.8 351.0L257.4 350.9L257.9 350.8L258.5 350.7L259.0 350.6L259.6 350.4L260.1 350.3L260.6 350.2L261.2 350.1L261.7 350.0L262.3 349.8L262.8 349.7L263.4 349.6L263.9 349.5L264.5 349.3L265.0 349.2" stroke="#8000ff"/>
<path d="M48.0 327.1L48.5 327.3L49.1 327.5L49.6 327.7L50.2 327.9L50.7 328.1L51.3 328.3L51.8 328.5L52.4 328.7L52.9 328.9L53.4 329.1L54.0 329.3L54.5 329.4L55.1 329.6L55.6 329.8L56.2 330.0L56.7 330.2L57.2 330.4L57.8 330.6L58.3 330.8L58.9 331.0L59.4 331.1L60.0 331.3L60.5 331.5L61.1 331.7L61.6 331.9L62.1 332.1L62.7 332.2L63.2 332.4L63.8 332.6L64.3 332.8L64.9 333.0L65.4 333.1L65.9 333.3L66.5 333.5L67.0 333.7L67.6 333.8L68.1 334.0L68.7 334.2L69.2 334.4L69.8 334.5L70.3 334.7L70.8 334.9L71.4 335.1L71.9 335.2L72.5 335.4L73.0 335.6L73.6 335.8L74.1 335.9L74.6 336.1L75.2 336.3L75.7 336.4L76.3 336.6L76.8 336.8L77.4 336.9L77.9 337.1L78.5 337.3L79.0 337.4L79.5 337.6L80.1 337.7L80.6 337.9L81.2 338.0L81.7 338.2L82.3 338.3L82.8 338.5L83.4 338.6L83.9 338.7L84.4 338.9L85.0 339.0L85.5 339.1L86.1 339.3L86.6 339.4L87.2 339.5L87.7 339.6L88.2 339.8L88.8 339.9L89.3 340.0L89.9 340.1L90.4 340.2L91.0 340.4L91.5 340.5L92.1 340.6L92.6 340.7L93.1 340.8L93.7 340.9L94.2 341.0L94.8 341.1L95.3 341.2L95.9 341.2L96.4 341.3L96.9 341.4L97.5 341.5L98.0 341.5L98.6 341.6L99.1 341.7L99.7 341.8L100.2 341.8L100.8 341.9L101.3 341.9L101.8 342.0L102.4 342.0L102.9 342.0L103.5 342.0L104.0 342.0L104.6 341.9L105.1 341.9L105.6 341.9L106.2 341.8L106.7 341.7L107.3 341.7L107.8 341.6L108.4 341.5L108.9 341.4L109.5 341.3L110.0 341.2L110.5 341.0L111.1 340.9L111.6 340.7L112.2 340.4L112.7 340.2L113.3 339.9L113.8 339.6L114.4 339.4L114.9 339.1L115.4 338.7L116.0 338.4L116.5 338.0L117.1 337.5L117.6 337.0L118.2 336.5L118.7 336.0L119.2 335.4L119.8 334.7L120.3 334.1L120.9 333.4L121.4 332.7L122.0 331.8L122.5 330.9L123.1 329.8L123.6 328.7L124.1 327.3L124.7 325.4L125.2 323.2L125.8 320.8L126.3 318.4L126.9 315.8L127.4 313.0L127.9 310.1L128.5 307.3L129.0 304.7L129.6 302.4L130.1 300.3L130.7 298.3L131.2 296.1L131.8 293.6L132.3 290.9L132.8 288.0L133.4 284.9L133.9 281.4L134.5 277.2L135.0 272.8L135.6 269.1L136.1 266.6L136.6 264.9L137.2 263.4L137.7 262.6L138.3 262.9L138.8 263.9L139.4 265.6L139.9 267.4L140.5 270.3L141.0 274.1L141.5 278.3L142.1 282.3L142.6 285.6L143.2 288.7L143.7 291.6L144.3 294.2L144.8 296.2L145.4 298.0L145.9 299.8L146.4 301.7L147.0 303.9L147.5 306.5L148.1 309.4L148.6 312.2L149.2 314.9L149.7 317.3L150.2 319.6L150.8 321.8L151.3 324.0L151.9 326.0L152.4 327.9L153.0 329.7L153.5 331.4L154.1 333.0L154.6 334.5L155.1 335.8L155.7 336.9L156.2 337.8L156.8 338.6L157.3 339.3L157.9 339.9L158.4 340.5L158.9 341.1L159.5 341.6L160.0 342.1L160.6 342.6L161.1 343.1L161.7 343.5L162.2 343.9L162.8 344.3L163.3 344.7L163.8 345.1L164.4 345.5L164.9 345.9L165.5 346.2L166.0 346.6L166.6 346.9L167.1 347.2L167.6 347.5L168.2 347.8L168.7 348.1L169.3 348.3L169.8 348.5L170.4 348.8L170.9 349.0L171.5 349.2L172.0 349.4L172.5 349.6L173.1 349.7L173.6 349.9L174.2 350.1L174.7 350.2L175.3 350.4L175.8 350.6L176.4 350.7L176.9 350.9L177.4 351.0L178.0 351.2L178.5 351.3L179.1 351.5L179.6 351.6L180.2 351.8L180.7 351.9L181.2 352.0L181.8 352.1L182.3 352.2L182.9 352.4L183.4 352.4L184.0 352.5L184.5 352.6L185.1 352.7L185.6 352.8L186.1 352.8L186.7 352.9L187.2 352.9L187.8 353.0L188.3 353.0L188.9 353.1L189.4 353.1L189.9 353.2L190.5 353.2L191.0 353.3L191.6 353.3L192.1 353.3L192.7 353.4L193.2 353.4L193.8 353.5L194.3 353.5L194.8 353.6L195.4 353.6L195.9 353.6L196.5 353.7L197.0 353.7L197.6 353.7L198.1 353.8L198.6 353.8L199.2 353.8L199.7 353.9L200.3 353.9L200.8 353.9L201.4 354.0L201.9 354.0L202.5 354.0L203.0 354.0L203.5 354.1L204.1 354.1L204.6 354.1L205.2 354.1L205.7 354.1L206.3 354.1L206.8 354.2L207.4 354.2L207.9 354.2L208.4 354.2L209.0 354.2L209.5 354.2L210.1 354.2L210.6 354.2L211.2 354.2L211.7 354.2L212.2 354.2L212.8 354.2L213.3 354.2L213.9 354.2L214.4 354.1L215.0 354.1L215.5 354.1L216.1 354.1L216.6 354.1L217.1 354.0L217.7 354.0L218.2 354.0L218.8 354.0L219.3 353.9L219.9 353.9L220.4 353.8L220.9 353.8L221.5 353.8L222.0 353.7L222.6 353.7L223.1 353.6L223.7 353.6L224.2 353.5L224.8 353.5L225.3 353.4L225.8 353.4L226.4 353.3L226.9 353.3L227.5 353.2L228.0 353.2L228.6 353.1L229.1 353.1L229.6 353.0L230.2 353.0L230.7 352.9L231.3 352.8L231.8 352.8L232.4 352.7L232.9 352.7L233.5 352.6L234.0 352.5L234.5 352.5L235.1 352.4L235.6 352.4L236.2 352.3L236.7 352.2L237.3 352.2L237.8 352.1L238.4 352.0L238.9 352.0L239.4 351.9L240.0 351.8L240.5 351.7L241.1 351.7L241.6 351.6L242.2 351.5L242.7 351.4L243.2 351.3L243.8 351.2L244.3 351.1L244.9 351.0L245.4 350.9L246.0 350.8L246.5 350.7L247.1 350.6L247.6 350.5L248.1 350.4L248.7 350.3L249.2 350.2L249.8 350.1L250.3 350.0L250.9 349.8L251.4 349.7L251.9 349.6L252.5 349.5L253.0 349.3L253.6 349.2L254.1 349.1L254.7 349.0L255.2 348.8L255.8 348.7L256.3 348.5L256.8 348.4L257.4 348.3L257.9 348.1L258.5 348.0L259.0 347.8L259.6 347.7L260.1 347.6L260.6 347.4L261.2 347.3L261.7 347.1L262.3 347.0L262.8 346.8L263.4 346.7L263.9 346.5L264.5 346.4L265.0 346.2" stroke="#800080"/>
<path d="M48.0 322.6L48.5 322.8L49.1 323.0L49.6 323.3L50.2 323.5L50.7 323.7L51.3 323.9L51.8 324.1L52.4 324.3L52.9 324.6L53.4 324.8L54.0 325.0L54.5 325.2L55.1 325.4L55.6 325.6L56.2 325.8L56.7 326.0L57.2 326.2L57.8 326.4L58.3 326.6L58.9 326.8L59.4 327.0L60.0 327.2L60.5 327.4L61.1 327.6L61.6 327.8L62.1 328.0L62.7 328.2L63.2 328.4L63.8 328.6L64.3 328.8L64.9 329.0L65.4 329.1L65.9 329.3L66.5 329.5L67.0 329.7L67.6 329.9L68.1 330.1L68.7 330.2L69.2 330.4L69.8 330.6L70.3 330.8L70.8 331.0L71.4 331.2L71.9 331.3L72.5 331.5L73.0 331.7L73.6 331.9L74.1 332.0L74.6 332.2L75.2 332.4L75.7 332.6L76.3 332.7L76.8 332.9L77.4 333.1L77.9 333.2L78.5 333.4L79.0 333.5L79.5 333.7L80.1 333.8L80.6 334.0L81.2 334.1L81.7 334.3L82.3 334.4L82.8 334.5L83.4 334.6L83.9 334.8L84.4 334.9L85.0 335.0L85.5 335.1L86.1 335.2L86.6 335.3L87.2 335.4L87.7 335.5L88.2 335.6L88.8 335.7L89.3 335.8L89.9 335.9L90.4 336.0L91.0 336.1L91.5 336.2L92.1 336.3L92.6 336.3L93.1 336.4L93.7 336.5L94.2 336.5L94.8 336.6L95.3 336.6L95.9 336.7L96.4 336.7L96.9 336.8L97.5 336.8L98.0 336.9L98.6 336.9L99.1 336.9L99.7 337.0L100.2 337.0L100.8 337.0L101.3 337.0L101.8 337.0L102.4 337.0L102.9 336.9L103.5 336.9L104.0 336.8L104.6 336.8L105.1 336.7L105.6 336.6L106.2 336.5L106.7 336.4L107.3 336.3L107.8 336.2L108.4 336.1L108.9 335.9L109.5 335.7L110.0 335.4L110.5 335.2L111.1 335.0L111.6 334.7L112.2 334.4L112.7 334.1L113.3 333.8L113.8 333.4L114.4 333.0L114.9 332.6L115.4 332.1L116.0 331.6L116.5 331.0L117.1 330.3L117.6 329.6L118.2 328.8L118.7 328.0L119.2 327.1L119.8 326.1L120.3 325.0L120.9 323.8L121.4 322.5L122.0 321.1L122.5 319.6L123.1 318.0L123.6 316.3L124.1 314.4L124.7 312.3L125.2 310.0L125.8 307.4L126.3 304.4L126.9 301.2L127.4 297.8L127.9 294.2L128.5 290.5L129.0 286.3L129.6 282.0L130.1 277.7L130.7 273.6L131.2 269.3L131.8 265.0L132.3 260.7L132.8 256.7L133.4 253.1L133.9 249.9L134.5 246.7L135.0 243.9L135.6 241.5L136.1 239.7L136.6 238.2L137.2 236.9L137.7 235.8L138.3 235.1L138.8 235.0L139.4 235.5L139.9 236.5L140.5 237.8L141.0 239.4L141.5 241.4L142.1 244.6L142.6 248.5L143.2 252.3L143.7 256.0L144.3 259.8L144.8 263.8L145.4 267.9L145.9 272.2L146.4 276.8L147.0 282.3L147.5 288.1L148.1 293.0L148.6 296.4L149.2 299.2L149.7 301.7L150.2 304.5L150.8 307.2L151.3 309.9L151.9 312.6L152.4 315.1L153.0 317.5L153.5 320.0L154.1 322.3L154.6 324.5L155.1 326.5L155.7 328.2L156.2 329.7L156.8 331.1L157.3 332.3L157.9 333.5L158.4 334.6L158.9 335.6L159.5 336.4L160.0 337.2L160.6 337.9L161.1 338.6L161.7 339.2L162.2 339.8L162.8 340.3L163.3 340.8L163.8 341.4L164.4 341.9L164.9 342.3L165.5 342.8L166.0 343.2L166.6 343.7L167.1 344.1L167.6 344.5L168.2 344.8L168.7 345.2L169.3 345.6L169.8 345.9L170.4 346.3L170.9 346.6L171.5 347.0L172.0 347.2L172.5 347.5L173.1 347.7L173.6 347.9L174.2 348.2L174.7 348.4L175.3 348.5L175.8 348.7L176.4 348.9L176.9 349.1L177.4 349.3L178.0 349.5L178.5 349.6L179.1 349.8L179.6 349.9L180.2 350.1L180.7 350.2L181.2 350.3L181.8 350.5L182.3 350.6L182.9 350.7L183.4 350.8L184.0 350.9L184.5 351.0L185.1 351.1L185.6 351.1L186.1 351.2L186.7 351.3L187.2 351.3L187.8 351.4L188.3 351.5L188.9 351.5L189.4 351.6L189.9 351.7L190.5 351.7L191.0 351.8L191.6 351.8L192.1 351.9L192.7 351.9L193.2 352.0L193.8 352.0L194.3 352.0L194.8 352.1L195.4 352.1L195.9 352.1L196.5 352.2L197.0 352.2L197.6 352.2L198.1 352.2L198.6 352.2L199.2 352.2L199.7 352.2L200.3 352.2L200.8 352.2L201.4 352.2L201.9 352.2L202.5 352.2L203.0 352.2L203.5 352.2L204.1 352.2L204.6 352.2L205.2 352.2L205.7 352.2L206.3 352.2L206.8 352.2L207.4 352.2L207.9 352.2L208.4 352.2L209.0 352.2L209.5 352.2L210.1 352.2L210.6 352.2L211.2 352.2L211.7 352.2L212.2 352.2L212.8 352.2L213.3 352.2L213.9 352.2L214.4 352.1L215.0 352.1L215.5 352.1L216.1 352.1L216.6 352.1L217.1 352.0L217.7 352.0L218.2 352.0L218.8 351.9L219.3 351.9L219.9 351.9L220.4 351.8L220.9 351.8L221.5 351.8L222.0 351.7L222.6 351.7L223.1 351.6L223.7 351.6L224.2 351.5L224.8 351.5L225.3 351.4L225.8 351.4L226.4 351.3L226.9 351.3L227.5 351.2L228.0 351.2L228.6 351.1L229.1 351.1L229.6 351.0L230.2 350.9L230.7 350.9L231.3 350.8L231.8 350.8L232.4 350.7L232.9 350.6L233.5 350.6L234.0 350.5L234.5 350.5L235.1 350.4L235.6 350.3L236.2 350.3L236.7 350.2L237.3 350.2L237.8 350.1L238.4 350.0L238.9 350.0L239.4 349.9L240.0 349.8L240.5 349.8L241.1 349.7L241.6 349.6L242.2 349.5L242.7 349.4L243.2 349.3L243.8 349.3L244.3 349.2L244.9 349.1L245.4 349.0L246.0 348.9L246.5 348.8L247.1 348.7L247.6 348.6L248.1 348.5L248.7 348.4L249.2 348.3L249.8 348.1L250.3 348.0L250.9 347.9L251.4 347.8L251.9 347.7L252.5 347.5L253.0 347.4L253.6 347.3L254.1 347.2L254.7 347.0L255.2 346.9L255.8 346.7L256.3 346.6L256.8 346.4L257.4 346.3L257.9 346.1L258.5 346.0L259.0 345.8L259.6 345.7L260.1 345.5L260.6 345.3L261.2 345.2L261.7 345.0L262.3 344.8L262.8 344.6L263.4 344.4L263.9 344.3L264.5 344.1L265.0 343.9" stroke="#800000"/>
</g>
<text transform="translate(48.0,382.3) scale(1.01,1)" font-size="6.8" text-anchor="middle" font-weight="bold" stroke="#000" stroke-width="0.18">-0.2</text>
<text transform="translate(102.3,382.3) scale(1.01,1)" font-size="6.8" text-anchor="middle" font-weight="bold" stroke="#000" stroke-width="0.18">0.0</text>
<text transform="translate(156.6,382.3) scale(1.01,1)" font-size="6.8" text-anchor="middle" font-weight="bold" stroke="#000" stroke-width="0.18">0.2</text>
<text transform="translate(210.8,382.3) scale(1.01,1)" font-size="6.8" text-anchor="middle" font-weight="bold" stroke="#000" stroke-width="0.18">0.4</text>
<text transform="translate(265.1,382.3) scale(1.01,1)" font-size="6.8" text-anchor="middle" font-weight="bold" stroke="#000" stroke-width="0.18">0.6</text>
<text transform="translate(42.6,345.2) scale(1.01,1)" font-size="6.8" text-anchor="end" font-weight="bold" stroke="#000" stroke-width="0.18">1.0×10<tspan dy="-2.7" font-size="4.6">-6</tspan></text>
<text transform="translate(42.6,316.1) scale(1.01,1)" font-size="6.8" text-anchor="end" font-weight="bold" stroke="#000" stroke-width="0.18">2.0×10<tspan dy="-2.7" font-size="4.6">-6</tspan></text>
<text transform="translate(42.6,287.0) scale(1.01,1)" font-size="6.8" text-anchor="end" font-weight="bold" stroke="#000" stroke-width="0.18">3.0×10<tspan dy="-2.7" font-size="4.6">-6</tspan></text>
<text transform="translate(42.6,257.9) scale(1.01,1)" font-size="6.8" text-anchor="end" font-weight="bold" stroke="#000" stroke-width="0.18">4.0×10<tspan dy="-2.7" font-size="4.6">-6</tspan></text>
<text transform="translate(42.6,228.8) scale(1.01,1)" font-size="6.8" text-anchor="end" font-weight="bold" stroke="#000" stroke-width="0.18">5.0×10<tspan dy="-2.7" font-size="4.6">-6</tspan></text>
<text transform="translate(42.6,374.3) scale(1.01,1)" font-size="6.8" text-anchor="end" font-weight="bold" stroke="#000" stroke-width="0.18">0.0</text>
<text transform="translate(156.7,397.0) scale(1.13,1)" font-size="7.6" text-anchor="middle" font-weight="bold" stroke="#000" stroke-width="0.25">E/V(vs.Ag|AgCl)</text>
<text transform="translate(7.5,287.5) rotate(-90) scale(1.10,1)" font-size="7.4" text-anchor="middle" font-weight="bold" stroke="#000" stroke-width="0.25">I/A</text>
<text x="146.8" y="409.5" font-size="13.0" text-anchor="middle" font-weight="bold" stroke="#000" stroke-width="0.3">(c)</text>
<rect x="209.5" y="211.9" width="55.6" height="106.3" fill="#fff" stroke="#9a9a9a" stroke-width="0.6"/>
<path d="M212.3 219.5H230.3" stroke="#000000" stroke-width="1.4"/>
<text x="234.8" y="222.3" font-size="8.4" style="white-space:pre">1 µM</text>
<path d="M212.3 231.2H230.3" stroke="#ff0000" stroke-width="1.4"/>
<text x="234.8" y="234.0" font-size="8.4" style="white-space:pre">3 µM</text>
<path d="M212.3 243.0H230.3" stroke="#0000ff" stroke-width="1.4"/>
<text x="234.8" y="245.8" font-size="8.4" style="white-space:pre">5 µM</text>
<path d="M212.3 254.8H230.3" stroke="#ff00ff" stroke-width="1.4"/>
<text x="234.8" y="257.5" font-size="8.4" style="white-space:pre">8 µM</text>
<path d="M212.3 266.5H230.3" stroke="#008000" stroke-width="1.4"/>
<text x="234.8" y="269.3" font-size="8.4" style="white-space:pre">10 µM</text>
<path d="M212.3 278.2H230.3" stroke="#000080" stroke-width="1.4"/>
<text x="234.8" y="281.0" font-size="8.4" style="white-space:pre">30 µM</text>
<path d="M212.3 290.0H230.3" stroke="#8000ff" stroke-width="1.4"/>
<text x="234.8" y="292.8" font-size="8.4" style="white-space:pre">50 µM</text>
<path d="M212.3 301.8H230.3" stroke="#800080" stroke-width="1.4"/>
<text x="234.8" y="304.5" font-size="8.4" style="white-space:pre">80 µM</text>
<path d="M212.3 313.5H230.3" stroke="#800000" stroke-width="1.4"/>
<text x="234.8" y="316.3" font-size="8.4" style="white-space:pre">100 µM</text>
<path d="M427.3 300.2V308.2M425.5 300.2h3.6M425.5 308.2h3.6" stroke="#999" stroke-width="0.6" fill="none"/>
<path d="M524.5 225.0V236.8M522.7 225.0h3.6M522.7 236.8h3.6" stroke="#999" stroke-width="0.6" fill="none"/>
<rect x="334.1" y="367.9" width="3.8" height="3.8" fill="#000"/>
<rect x="338.1" y="365.9" width="3.8" height="3.8" fill="#000"/>
<rect x="343.8" y="362.1" width="3.8" height="3.8" fill="#000"/>
<rect x="347.6" y="359.1" width="3.8" height="3.8" fill="#000"/>
<rect x="386.3" y="334.8" width="3.8" height="3.8" fill="#000"/>
<rect x="425.4" y="302.3" width="3.8" height="3.8" fill="#000"/>
<rect x="483.1" y="252.4" width="3.8" height="3.8" fill="#000"/>
<rect x="522.6" y="229.0" width="3.8" height="3.8" fill="#000"/>
<path d="M335.4 371.5L524.5 230.7" stroke="#ff0000" stroke-width="1.4"/>
<text transform="translate(330.4,382.0) scale(1.01,1)" font-size="6.8" text-anchor="middle" font-weight="bold" stroke="#000" stroke-width="0.18">0</text>
<text transform="translate(369.1,382.0) scale(1.01,1)" font-size="6.8" text-anchor="middle" font-weight="bold" stroke="#000" stroke-width="0.18">20</text>
<text transform="translate(407.9,382.0) scale(1.01,1)" font-size="6.8" text-anchor="middle" font-weight="bold" stroke="#000" stroke-width="0.18">40</text>
<text transform="translate(446.6,382.0) scale(1.01,1)" font-size="6.8" text-anchor="middle" font-weight="bold" stroke="#000" stroke-width="0.18">60</text>
<text transform="translate(485.4,382.0) scale(1.01,1)" font-size="6.8" text-anchor="middle" font-weight="bold" stroke="#000" stroke-width="0.18">80</text>
<text transform="translate(524.1,382.0) scale(1.01,1)" font-size="6.8" text-anchor="middle" font-weight="bold" stroke="#000" stroke-width="0.18">100</text>
<text transform="translate(324.8,373.9) scale(1.01,1)" font-size="7.3" text-anchor="end" font-weight="bold" stroke="#000" stroke-width="0.18">0</text>
<text transform="translate(324.8,333.8) scale(1.01,1)" font-size="7.3" text-anchor="end" font-weight="bold" stroke="#000" stroke-width="0.18">1000</text>
<text transform="translate(324.8,293.6) scale(1.01,1)" font-size="7.3" text-anchor="end" font-weight="bold" stroke="#000" stroke-width="0.18">2000</text>
<text transform="translate(324.8,253.5) scale(1.01,1)" font-size="7.3" text-anchor="end" font-weight="bold" stroke="#000" stroke-width="0.18">3000</text>
<text transform="translate(324.8,213.3) scale(1.01,1)" font-size="7.3" text-anchor="end" font-weight="bold" stroke="#000" stroke-width="0.18">4000</text>
<text transform="translate(432.2,396.2) scale(1.13,1)" font-size="7.6" text-anchor="middle" font-weight="bold" stroke="#000" stroke-width="0.25">C/µM</text>
<text transform="translate(302.4,290.6) rotate(-90) scale(1.10,1)" font-size="7.4" text-anchor="middle" font-weight="bold" stroke="#000" stroke-width="0.25">I/nA</text>
<text x="439.3" y="408.4" font-size="13.0" text-anchor="middle" font-weight="bold" stroke="#000" stroke-width="0.3">(d)</text>
<text transform="translate(476.9,276.2) scale(1.09,1)" font-size="8.2" font-weight="bold" stroke="#000" stroke-width="0.2">y=36.54x-118.14</text>
<text transform="translate(476.9,287.5) scale(1.09,1)" font-size="8.2" font-weight="bold" stroke="#000" stroke-width="0.2">R<tspan dy="-3" font-size="5">2</tspan><tspan dy="3">=0.9972</tspan></text>
<path d="M48.0 165.4v3.6M102.3 165.4v3.6M156.6 165.4v3.6M210.8 165.4v3.6M265.1 165.4v3.6M75.1 165.4v2.3M129.4 165.4v2.3M183.7 165.4v2.3M238.0 165.4v2.3M48.0 20.0h-3.6M48.0 49.1h-3.6M48.0 78.2h-3.6M48.0 107.2h-3.6M48.0 136.3h-3.6M48.0 165.4h-3.6M48.0 5.5h-2.3M48.0 34.5h-2.3M48.0 63.6h-2.3M48.0 92.7h-2.3M48.0 121.8h-2.3M48.0 150.9h-2.3" stroke="#000" stroke-width="1.3" fill="none"/>
<rect x="48.0" y="5.7" width="217.1" height="159.7" fill="none" stroke="#000" stroke-width="1.8"/>
<path d="M326.1 165.7v3.6M380.4 165.7v3.6M434.6 165.7v3.6M488.9 165.7v3.6M543.1 165.7v3.6M353.2 165.7v2.3M407.5 165.7v2.3M461.7 165.7v2.3M516.0 165.7v2.3M326.1 5.7h-3.6M326.1 28.6h-3.6M326.1 51.4h-3.6M326.1 74.3h-3.6M326.1 97.1h-3.6M326.1 120.0h-3.6M326.1 142.8h-3.6M326.1 165.7h-3.6M326.1 17.1h-2.3M326.1 40.0h-2.3M326.1 62.8h-2.3M326.1 85.7h-2.3M326.1 108.6h-2.3M326.1 131.4h-2.3M326.1 154.3h-2.3" stroke="#000" stroke-width="1.3" fill="none"/>
<rect x="326.1" y="5.7" width="217.0" height="160.0" fill="none" stroke="#000" stroke-width="1.8"/>
<path d="M48.0 372.0v3.6M102.3 372.0v3.6M156.6 372.0v3.6M210.8 372.0v3.6M265.1 372.0v3.6M75.1 372.0v2.3M129.4 372.0v2.3M183.7 372.0v2.3M238.0 372.0v2.3M48.0 372.0h-3.6M48.0 342.9h-3.6M48.0 313.8h-3.6M48.0 284.7h-3.6M48.0 255.6h-3.6M48.0 226.4h-3.6M48.0 357.4h-2.3M48.0 328.3h-2.3M48.0 299.2h-2.3M48.0 270.1h-2.3M48.0 241.0h-2.3M48.0 211.9h-2.3" stroke="#000" stroke-width="1.3" fill="none"/>
<rect x="48.0" y="211.9" width="217.1" height="160.1" fill="none" stroke="#000" stroke-width="1.8"/>
<path d="M330.4 371.5v3.6M369.1 371.5v3.6M407.9 371.5v3.6M446.6 371.5v3.6M485.4 371.5v3.6M524.1 371.5v3.6M349.8 371.5v2.3M388.5 371.5v2.3M427.2 371.5v2.3M466.0 371.5v2.3M504.7 371.5v2.3M543.5 371.5v2.3M330.4 371.5h-3.6M330.4 331.4h-3.6M330.4 291.2h-3.6M330.4 251.1h-3.6M330.4 210.9h-3.6M330.4 351.4h-2.3M330.4 311.3h-2.3M330.4 271.1h-2.3M330.4 231.0h-2.3" stroke="#000" stroke-width="1.3" fill="none"/>
<rect x="330.4" y="210.9" width="213.4" height="160.6" fill="none" stroke="#000" stroke-width="1.8"/>
</svg>
</body></html>
